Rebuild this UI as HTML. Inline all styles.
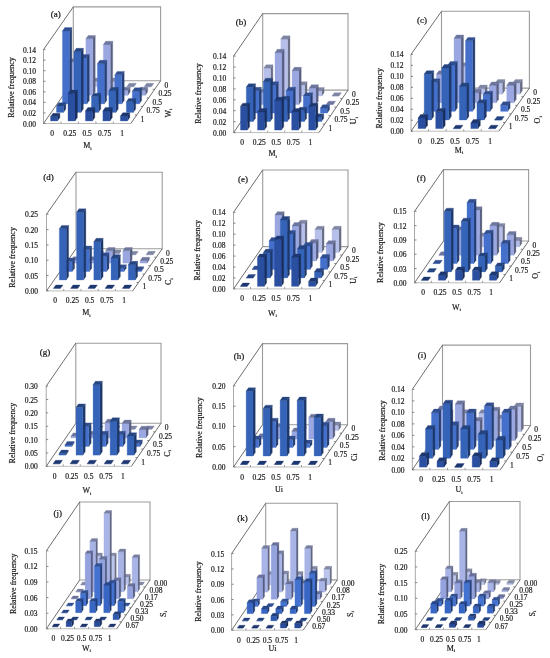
<!DOCTYPE html>
<html><head><meta charset="utf-8"><style>html,body{margin:0;padding:0;background:#fff}svg{display:block}</style></head>
<body><svg width="550" height="658" viewBox="0 0 550 658">
<rect width="550" height="658" fill="#fff"/>
<polyline points="73.30,80.80 73.30,6.90 160.60,6.90 160.60,80.80 73.30,80.80" fill="none" stroke="#9c9c9c" stroke-width="1.1"/>
<line x1="43.50" y1="123.50" x2="43.50" y2="49.60" stroke="#a8a8a8" stroke-width="1"/>
<line x1="43.50" y1="123.50" x2="130.80" y2="123.50" stroke="#bdbdbd" stroke-width="1"/>
<line x1="43.50" y1="49.60" x2="73.30" y2="6.90" stroke="#4a4a4a" stroke-width="0.8"/>
<line x1="43.50" y1="123.50" x2="73.30" y2="80.80" stroke="#4a4a4a" stroke-width="0.8"/>
<line x1="130.80" y1="123.50" x2="160.60" y2="80.80" stroke="#4a4a4a" stroke-width="0.8"/>
<line x1="43.50" y1="123.50" x2="45.50" y2="123.50" stroke="#666" stroke-width="0.8"/>
<text x="36.10" y="126.50" text-anchor="end" font-size="7.5" font-family="Liberation Serif, serif" stroke="#222" stroke-width="0.18" fill="#111">0.00</text>
<line x1="43.50" y1="112.94" x2="45.50" y2="112.94" stroke="#666" stroke-width="0.8"/>
<text x="36.10" y="115.94" text-anchor="end" font-size="7.5" font-family="Liberation Serif, serif" stroke="#222" stroke-width="0.18" fill="#111">0.02</text>
<line x1="43.50" y1="102.39" x2="45.50" y2="102.39" stroke="#666" stroke-width="0.8"/>
<text x="36.10" y="105.39" text-anchor="end" font-size="7.5" font-family="Liberation Serif, serif" stroke="#222" stroke-width="0.18" fill="#111">0.04</text>
<line x1="43.50" y1="91.83" x2="45.50" y2="91.83" stroke="#666" stroke-width="0.8"/>
<text x="36.10" y="94.83" text-anchor="end" font-size="7.5" font-family="Liberation Serif, serif" stroke="#222" stroke-width="0.18" fill="#111">0.06</text>
<line x1="43.50" y1="81.27" x2="45.50" y2="81.27" stroke="#666" stroke-width="0.8"/>
<text x="36.10" y="84.27" text-anchor="end" font-size="7.5" font-family="Liberation Serif, serif" stroke="#222" stroke-width="0.18" fill="#111">0.08</text>
<line x1="43.50" y1="70.71" x2="45.50" y2="70.71" stroke="#666" stroke-width="0.8"/>
<text x="36.10" y="73.71" text-anchor="end" font-size="7.5" font-family="Liberation Serif, serif" stroke="#222" stroke-width="0.18" fill="#111">0.10</text>
<line x1="43.50" y1="60.16" x2="45.50" y2="60.16" stroke="#666" stroke-width="0.8"/>
<text x="36.10" y="63.16" text-anchor="end" font-size="7.5" font-family="Liberation Serif, serif" stroke="#222" stroke-width="0.18" fill="#111">0.12</text>
<line x1="43.50" y1="49.60" x2="45.50" y2="49.60" stroke="#666" stroke-width="0.8"/>
<text x="36.10" y="52.60" text-anchor="end" font-size="7.5" font-family="Liberation Serif, serif" stroke="#222" stroke-width="0.18" fill="#111">0.14</text>
<line x1="60.96" y1="123.50" x2="60.96" y2="121.50" stroke="#888" stroke-width="0.8"/>
<line x1="78.42" y1="123.50" x2="78.42" y2="121.50" stroke="#888" stroke-width="0.8"/>
<line x1="95.88" y1="123.50" x2="95.88" y2="121.50" stroke="#888" stroke-width="0.8"/>
<line x1="113.34" y1="123.50" x2="113.34" y2="121.50" stroke="#888" stroke-width="0.8"/>
<text x="52.23" y="136.00" text-anchor="middle" font-size="7.5" font-family="Liberation Serif, serif" stroke="#222" stroke-width="0.18" fill="#111">0</text>
<text x="69.69" y="136.00" text-anchor="middle" font-size="7.5" font-family="Liberation Serif, serif" stroke="#222" stroke-width="0.18" fill="#111">0.25</text>
<text x="87.15" y="136.00" text-anchor="middle" font-size="7.5" font-family="Liberation Serif, serif" stroke="#222" stroke-width="0.18" fill="#111">0.5</text>
<text x="104.61" y="136.00" text-anchor="middle" font-size="7.5" font-family="Liberation Serif, serif" stroke="#222" stroke-width="0.18" fill="#111">0.75</text>
<text x="122.07" y="136.00" text-anchor="middle" font-size="7.5" font-family="Liberation Serif, serif" stroke="#222" stroke-width="0.18" fill="#111">1</text>
<line x1="136.76" y1="114.96" x2="134.76" y2="114.96" stroke="#666" stroke-width="0.8"/>
<line x1="142.72" y1="106.42" x2="140.72" y2="106.42" stroke="#666" stroke-width="0.8"/>
<line x1="148.68" y1="97.88" x2="146.68" y2="97.88" stroke="#666" stroke-width="0.8"/>
<line x1="154.64" y1="89.34" x2="152.64" y2="89.34" stroke="#666" stroke-width="0.8"/>
<text x="164.42" y="87.57" font-size="7.5" font-family="Liberation Serif, serif" stroke="#222" stroke-width="0.18" fill="#111">0</text>
<text x="158.46" y="96.11" font-size="7.5" font-family="Liberation Serif, serif" stroke="#222" stroke-width="0.18" fill="#111">0.25</text>
<text x="152.50" y="104.65" font-size="7.5" font-family="Liberation Serif, serif" stroke="#222" stroke-width="0.18" fill="#111">0.5</text>
<text x="146.54" y="113.19" font-size="7.5" font-family="Liberation Serif, serif" stroke="#222" stroke-width="0.18" fill="#111">0.75</text>
<text x="140.58" y="121.73" font-size="7.5" font-family="Liberation Serif, serif" stroke="#222" stroke-width="0.18" fill="#111">1</text>
<polygon points="81.35,86.78 83.73,83.36 83.73,78.08 81.35,81.50" fill="#686d85" stroke="#686d85" stroke-width="0.3"/>
<polygon points="74.37,86.78 81.35,86.78 81.35,81.50 74.37,81.50" fill="#b6c0ea" stroke="#b6c0ea" stroke-width="0.3"/>
<polygon points="74.37,81.50 81.35,81.50 83.73,78.08 76.75,78.08" fill="#7f86a4" stroke="#7f86a4" stroke-width="0.3"/>
<polygon points="98.81,86.78 101.19,83.36 101.19,78.08 98.81,81.50" fill="#686d85" stroke="#686d85" stroke-width="0.3"/>
<polygon points="91.83,86.78 98.81,86.78 98.81,81.50 91.83,81.50" fill="#b6c0ea" stroke="#b6c0ea" stroke-width="0.3"/>
<polygon points="91.83,81.50 98.81,81.50 101.19,78.08 94.21,78.08" fill="#7f86a4" stroke="#7f86a4" stroke-width="0.3"/>
<polygon points="116.27,86.78 118.65,83.36 118.65,78.08 116.27,81.50" fill="#686d85" stroke="#686d85" stroke-width="0.3"/>
<polygon points="109.29,86.78 116.27,86.78 116.27,81.50 109.29,81.50" fill="#b6c0ea" stroke="#b6c0ea" stroke-width="0.3"/>
<polygon points="109.29,81.50 116.27,81.50 118.65,78.08 111.67,78.08" fill="#7f86a4" stroke="#7f86a4" stroke-width="0.3"/>
<polygon points="133.73,86.78 136.11,83.36 136.11,83.36 133.73,86.78" fill="#686d85" stroke="#686d85" stroke-width="0.3"/>
<polygon points="126.75,86.78 133.73,86.78 133.73,86.78 126.75,86.78" fill="#b6c0ea" stroke="#b6c0ea" stroke-width="0.3"/>
<polygon points="126.75,86.78 133.73,86.78 136.11,83.36 129.13,83.36" fill="#7f86a4" stroke="#7f86a4" stroke-width="0.3"/>
<polygon points="151.19,86.78 153.57,83.36 153.57,83.36 151.19,86.78" fill="#686d85" stroke="#686d85" stroke-width="0.3"/>
<polygon points="144.21,86.78 151.19,86.78 151.19,86.78 144.21,86.78" fill="#b6c0ea" stroke="#b6c0ea" stroke-width="0.3"/>
<polygon points="144.21,86.78 151.19,86.78 153.57,83.36 146.59,83.36" fill="#7f86a4" stroke="#7f86a4" stroke-width="0.3"/>
<polygon points="75.39,95.32 77.77,91.90 77.77,58.65 75.39,62.06" fill="#585f80" stroke="#585f80" stroke-width="0.3"/>
<polygon points="68.41,95.32 75.39,95.32 75.39,62.06 68.41,62.06" fill="#9aa7e0" stroke="#9aa7e0" stroke-width="0.3"/>
<polygon points="68.41,62.06 75.39,62.06 77.77,58.65 70.79,58.65" fill="#6c759d" stroke="#6c759d" stroke-width="0.3"/>
<polygon points="92.85,95.32 95.23,91.90 95.23,35.42 92.85,38.84" fill="#585f80" stroke="#585f80" stroke-width="0.3"/>
<polygon points="85.87,95.32 92.85,95.32 92.85,38.84 85.87,38.84" fill="#9aa7e0" stroke="#9aa7e0" stroke-width="0.3"/>
<polygon points="85.87,38.84 92.85,38.84 95.23,35.42 88.25,35.42" fill="#6c759d" stroke="#6c759d" stroke-width="0.3"/>
<polygon points="110.31,95.32 112.69,91.90 112.69,41.23 110.31,44.64" fill="#585f80" stroke="#585f80" stroke-width="0.3"/>
<polygon points="103.33,95.32 110.31,95.32 110.31,44.64 103.33,44.64" fill="#9aa7e0" stroke="#9aa7e0" stroke-width="0.3"/>
<polygon points="103.33,44.64 110.31,44.64 112.69,41.23 105.71,41.23" fill="#6c759d" stroke="#6c759d" stroke-width="0.3"/>
<polygon points="127.77,95.32 130.15,91.90 130.15,87.15 127.77,90.57" fill="#585f80" stroke="#585f80" stroke-width="0.3"/>
<polygon points="120.79,95.32 127.77,95.32 127.77,90.57 120.79,90.57" fill="#9aa7e0" stroke="#9aa7e0" stroke-width="0.3"/>
<polygon points="120.79,90.57 127.77,90.57 130.15,87.15 123.17,87.15" fill="#6c759d" stroke="#6c759d" stroke-width="0.3"/>
<polygon points="145.23,95.32 147.61,91.90 147.61,87.15 145.23,90.57" fill="#585f80" stroke="#585f80" stroke-width="0.3"/>
<polygon points="138.25,95.32 145.23,95.32 145.23,90.57 138.25,90.57" fill="#9aa7e0" stroke="#9aa7e0" stroke-width="0.3"/>
<polygon points="138.25,90.57 145.23,90.57 147.61,87.15 140.63,87.15" fill="#6c759d" stroke="#6c759d" stroke-width="0.3"/>
<polygon points="69.43,103.86 71.81,100.44 71.81,27.60 69.43,31.01" fill="#274074" stroke="#274074" stroke-width="0.3"/>
<polygon points="62.45,103.86 69.43,103.86 69.43,31.01 62.45,31.01" fill="#4470cc" stroke="#4470cc" stroke-width="0.3"/>
<polygon points="62.45,31.01 69.43,31.01 71.81,27.60 64.83,27.60" fill="#304e8f" stroke="#304e8f" stroke-width="0.3"/>
<polygon points="86.89,103.86 89.27,100.44 89.27,54.52 86.89,57.93" fill="#274074" stroke="#274074" stroke-width="0.3"/>
<polygon points="79.91,103.86 86.89,103.86 86.89,57.93 79.91,57.93" fill="#4470cc" stroke="#4470cc" stroke-width="0.3"/>
<polygon points="79.91,57.93 86.89,57.93 89.27,54.52 82.29,54.52" fill="#304e8f" stroke="#304e8f" stroke-width="0.3"/>
<polygon points="104.35,103.86 106.73,100.44 106.73,60.32 104.35,63.74" fill="#274074" stroke="#274074" stroke-width="0.3"/>
<polygon points="97.37,103.86 104.35,103.86 104.35,63.74 97.37,63.74" fill="#4470cc" stroke="#4470cc" stroke-width="0.3"/>
<polygon points="97.37,63.74 104.35,63.74 106.73,60.32 99.75,60.32" fill="#304e8f" stroke="#304e8f" stroke-width="0.3"/>
<polygon points="121.81,103.86 124.19,100.44 124.19,71.41 121.81,74.83" fill="#274074" stroke="#274074" stroke-width="0.3"/>
<polygon points="114.83,103.86 121.81,103.86 121.81,74.83 114.83,74.83" fill="#4470cc" stroke="#4470cc" stroke-width="0.3"/>
<polygon points="114.83,74.83 121.81,74.83 124.19,71.41 117.21,71.41" fill="#304e8f" stroke="#304e8f" stroke-width="0.3"/>
<polygon points="139.27,103.86 141.65,100.44 141.65,87.77 139.27,91.19" fill="#274074" stroke="#274074" stroke-width="0.3"/>
<polygon points="132.29,103.86 139.27,103.86 139.27,91.19 132.29,91.19" fill="#4470cc" stroke="#4470cc" stroke-width="0.3"/>
<polygon points="132.29,91.19 139.27,91.19 141.65,87.77 134.67,87.77" fill="#304e8f" stroke="#304e8f" stroke-width="0.3"/>
<polygon points="63.47,112.40 65.85,108.98 65.85,102.65 63.47,106.06" fill="#1e3869" stroke="#1e3869" stroke-width="0.3"/>
<polygon points="56.49,112.40 63.47,112.40 63.47,106.06 56.49,106.06" fill="#3463b8" stroke="#3463b8" stroke-width="0.3"/>
<polygon points="56.49,106.06 63.47,106.06 65.85,102.65 58.87,102.65" fill="#244581" stroke="#244581" stroke-width="0.3"/>
<polygon points="80.93,112.40 83.31,108.98 83.31,48.28 80.93,51.69" fill="#1e3869" stroke="#1e3869" stroke-width="0.3"/>
<polygon points="73.95,112.40 80.93,112.40 80.93,51.69 73.95,51.69" fill="#3463b8" stroke="#3463b8" stroke-width="0.3"/>
<polygon points="73.95,51.69 80.93,51.69 83.31,48.28 76.33,48.28" fill="#244581" stroke="#244581" stroke-width="0.3"/>
<polygon points="98.39,112.40 100.77,108.98 100.77,93.15 98.39,96.56" fill="#1e3869" stroke="#1e3869" stroke-width="0.3"/>
<polygon points="91.41,112.40 98.39,112.40 98.39,96.56 91.41,96.56" fill="#3463b8" stroke="#3463b8" stroke-width="0.3"/>
<polygon points="91.41,96.56 98.39,96.56 100.77,93.15 93.79,93.15" fill="#244581" stroke="#244581" stroke-width="0.3"/>
<polygon points="115.85,112.40 118.23,108.98 118.23,87.34 115.85,90.76" fill="#1e3869" stroke="#1e3869" stroke-width="0.3"/>
<polygon points="108.87,112.40 115.85,112.40 115.85,90.76 108.87,90.76" fill="#3463b8" stroke="#3463b8" stroke-width="0.3"/>
<polygon points="108.87,90.76 115.85,90.76 118.23,87.34 111.25,87.34" fill="#244581" stroke="#244581" stroke-width="0.3"/>
<polygon points="133.31,112.40 135.69,108.98 135.69,98.42 133.31,101.84" fill="#1e3869" stroke="#1e3869" stroke-width="0.3"/>
<polygon points="126.33,112.40 133.31,112.40 133.31,101.84 126.33,101.84" fill="#3463b8" stroke="#3463b8" stroke-width="0.3"/>
<polygon points="126.33,101.84 133.31,101.84 135.69,98.42 128.71,98.42" fill="#244581" stroke="#244581" stroke-width="0.3"/>
<polygon points="57.51,120.94 59.89,117.52 59.89,113.30 57.51,116.72" fill="#182d5b" stroke="#182d5b" stroke-width="0.3"/>
<polygon points="50.53,120.94 57.51,120.94 57.51,116.72 50.53,116.72" fill="#2a4fa0" stroke="#2a4fa0" stroke-width="0.3"/>
<polygon points="50.53,116.72 57.51,116.72 59.89,113.30 52.91,113.30" fill="#1d3770" stroke="#1d3770" stroke-width="0.3"/>
<polygon points="74.97,120.94 77.35,117.52 77.35,90.07 74.97,93.49" fill="#182d5b" stroke="#182d5b" stroke-width="0.3"/>
<polygon points="67.99,120.94 74.97,120.94 74.97,93.49 67.99,93.49" fill="#2a4fa0" stroke="#2a4fa0" stroke-width="0.3"/>
<polygon points="67.99,93.49 74.97,93.49 77.35,90.07 70.37,90.07" fill="#1d3770" stroke="#1d3770" stroke-width="0.3"/>
<polygon points="92.43,120.94 94.81,117.52 94.81,107.49 92.43,110.91" fill="#182d5b" stroke="#182d5b" stroke-width="0.3"/>
<polygon points="85.45,120.94 92.43,120.94 92.43,110.91 85.45,110.91" fill="#2a4fa0" stroke="#2a4fa0" stroke-width="0.3"/>
<polygon points="85.45,110.91 92.43,110.91 94.81,107.49 87.83,107.49" fill="#1d3770" stroke="#1d3770" stroke-width="0.3"/>
<polygon points="109.89,120.94 112.27,117.52 112.27,107.49 109.89,110.91" fill="#182d5b" stroke="#182d5b" stroke-width="0.3"/>
<polygon points="102.91,120.94 109.89,120.94 109.89,110.91 102.91,110.91" fill="#2a4fa0" stroke="#2a4fa0" stroke-width="0.3"/>
<polygon points="102.91,110.91 109.89,110.91 112.27,107.49 105.29,107.49" fill="#1d3770" stroke="#1d3770" stroke-width="0.3"/>
<polygon points="127.35,120.94 129.73,117.52 129.73,112.77 127.35,116.19" fill="#182d5b" stroke="#182d5b" stroke-width="0.3"/>
<polygon points="120.37,120.94 127.35,120.94 127.35,116.19 120.37,116.19" fill="#2a4fa0" stroke="#2a4fa0" stroke-width="0.3"/>
<polygon points="120.37,116.19 127.35,116.19 129.73,112.77 122.75,112.77" fill="#1d3770" stroke="#1d3770" stroke-width="0.3"/>
<text x="50.80" y="16.80" font-size="9" font-family="Liberation Serif, serif" stroke="#111" stroke-width="0.2" fill="#111">(a)</text>
<text transform="translate(13.90,87.50) rotate(-90)" text-anchor="middle" font-size="8" font-family="Liberation Serif, serif" stroke="#222" stroke-width="0.18" fill="#111">Relative frequency</text>
<text x="87.50" y="148.30" text-anchor="middle" font-size="8" font-family="Liberation Serif, serif" stroke="#222" stroke-width="0.18" fill="#111">M<tspan font-size="5" dy="1.5">i</tspan></text>
<text transform="translate(170.90,113.00) rotate(-90)" text-anchor="middle" font-size="8" font-family="Liberation Serif, serif" stroke="#222" stroke-width="0.18" fill="#111">W<tspan font-size="5" dy="1.5">i</tspan></text>
<polyline points="262.70,90.10 262.70,13.60 348.00,13.60 348.00,90.10 262.70,90.10" fill="none" stroke="#9c9c9c" stroke-width="1.1"/>
<line x1="233.60" y1="132.60" x2="233.60" y2="56.10" stroke="#a8a8a8" stroke-width="1"/>
<line x1="233.60" y1="132.60" x2="318.90" y2="132.60" stroke="#bdbdbd" stroke-width="1"/>
<line x1="233.60" y1="56.10" x2="262.70" y2="13.60" stroke="#4a4a4a" stroke-width="0.8"/>
<line x1="233.60" y1="132.60" x2="262.70" y2="90.10" stroke="#4a4a4a" stroke-width="0.8"/>
<line x1="318.90" y1="132.60" x2="348.00" y2="90.10" stroke="#4a4a4a" stroke-width="0.8"/>
<line x1="233.60" y1="132.60" x2="235.60" y2="132.60" stroke="#666" stroke-width="0.8"/>
<text x="226.20" y="135.60" text-anchor="end" font-size="7.5" font-family="Liberation Serif, serif" stroke="#222" stroke-width="0.18" fill="#111">0.00</text>
<line x1="233.60" y1="121.67" x2="235.60" y2="121.67" stroke="#666" stroke-width="0.8"/>
<text x="226.20" y="124.67" text-anchor="end" font-size="7.5" font-family="Liberation Serif, serif" stroke="#222" stroke-width="0.18" fill="#111">0.02</text>
<line x1="233.60" y1="110.74" x2="235.60" y2="110.74" stroke="#666" stroke-width="0.8"/>
<text x="226.20" y="113.74" text-anchor="end" font-size="7.5" font-family="Liberation Serif, serif" stroke="#222" stroke-width="0.18" fill="#111">0.04</text>
<line x1="233.60" y1="99.81" x2="235.60" y2="99.81" stroke="#666" stroke-width="0.8"/>
<text x="226.20" y="102.81" text-anchor="end" font-size="7.5" font-family="Liberation Serif, serif" stroke="#222" stroke-width="0.18" fill="#111">0.06</text>
<line x1="233.60" y1="88.89" x2="235.60" y2="88.89" stroke="#666" stroke-width="0.8"/>
<text x="226.20" y="91.89" text-anchor="end" font-size="7.5" font-family="Liberation Serif, serif" stroke="#222" stroke-width="0.18" fill="#111">0.08</text>
<line x1="233.60" y1="77.96" x2="235.60" y2="77.96" stroke="#666" stroke-width="0.8"/>
<text x="226.20" y="80.96" text-anchor="end" font-size="7.5" font-family="Liberation Serif, serif" stroke="#222" stroke-width="0.18" fill="#111">0.10</text>
<line x1="233.60" y1="67.03" x2="235.60" y2="67.03" stroke="#666" stroke-width="0.8"/>
<text x="226.20" y="70.03" text-anchor="end" font-size="7.5" font-family="Liberation Serif, serif" stroke="#222" stroke-width="0.18" fill="#111">0.12</text>
<line x1="233.60" y1="56.10" x2="235.60" y2="56.10" stroke="#666" stroke-width="0.8"/>
<text x="226.20" y="59.10" text-anchor="end" font-size="7.5" font-family="Liberation Serif, serif" stroke="#222" stroke-width="0.18" fill="#111">0.14</text>
<line x1="250.66" y1="132.60" x2="250.66" y2="130.60" stroke="#888" stroke-width="0.8"/>
<line x1="267.72" y1="132.60" x2="267.72" y2="130.60" stroke="#888" stroke-width="0.8"/>
<line x1="284.78" y1="132.60" x2="284.78" y2="130.60" stroke="#888" stroke-width="0.8"/>
<line x1="301.84" y1="132.60" x2="301.84" y2="130.60" stroke="#888" stroke-width="0.8"/>
<text x="242.13" y="145.10" text-anchor="middle" font-size="7.5" font-family="Liberation Serif, serif" stroke="#222" stroke-width="0.18" fill="#111">0</text>
<text x="259.19" y="145.10" text-anchor="middle" font-size="7.5" font-family="Liberation Serif, serif" stroke="#222" stroke-width="0.18" fill="#111">0.25</text>
<text x="276.25" y="145.10" text-anchor="middle" font-size="7.5" font-family="Liberation Serif, serif" stroke="#222" stroke-width="0.18" fill="#111">0.5</text>
<text x="293.31" y="145.10" text-anchor="middle" font-size="7.5" font-family="Liberation Serif, serif" stroke="#222" stroke-width="0.18" fill="#111">0.75</text>
<text x="310.37" y="145.10" text-anchor="middle" font-size="7.5" font-family="Liberation Serif, serif" stroke="#222" stroke-width="0.18" fill="#111">1</text>
<line x1="324.72" y1="124.10" x2="322.72" y2="124.10" stroke="#666" stroke-width="0.8"/>
<line x1="330.54" y1="115.60" x2="328.54" y2="115.60" stroke="#666" stroke-width="0.8"/>
<line x1="336.36" y1="107.10" x2="334.36" y2="107.10" stroke="#666" stroke-width="0.8"/>
<line x1="342.18" y1="98.60" x2="340.18" y2="98.60" stroke="#666" stroke-width="0.8"/>
<text x="351.89" y="96.85" font-size="7.5" font-family="Liberation Serif, serif" stroke="#222" stroke-width="0.18" fill="#111">0</text>
<text x="346.07" y="105.35" font-size="7.5" font-family="Liberation Serif, serif" stroke="#222" stroke-width="0.18" fill="#111">0.25</text>
<text x="340.25" y="113.85" font-size="7.5" font-family="Liberation Serif, serif" stroke="#222" stroke-width="0.18" fill="#111">0.5</text>
<text x="334.43" y="122.35" font-size="7.5" font-family="Liberation Serif, serif" stroke="#222" stroke-width="0.18" fill="#111">0.75</text>
<text x="328.61" y="130.85" font-size="7.5" font-family="Liberation Serif, serif" stroke="#222" stroke-width="0.18" fill="#111">1</text>
<polygon points="270.57,96.05 272.90,92.65 272.90,64.78 270.57,68.18" fill="#686d85" stroke="#686d85" stroke-width="0.3"/>
<polygon points="263.74,96.05 270.57,96.05 270.57,68.18 263.74,68.18" fill="#b6c0ea" stroke="#b6c0ea" stroke-width="0.3"/>
<polygon points="263.74,68.18 270.57,68.18 272.90,64.78 266.07,64.78" fill="#7f86a4" stroke="#7f86a4" stroke-width="0.3"/>
<polygon points="287.63,96.05 289.96,92.65 289.96,35.82 287.63,39.22" fill="#686d85" stroke="#686d85" stroke-width="0.3"/>
<polygon points="280.80,96.05 287.63,96.05 287.63,39.22 280.80,39.22" fill="#b6c0ea" stroke="#b6c0ea" stroke-width="0.3"/>
<polygon points="280.80,39.22 287.63,39.22 289.96,35.82 283.13,35.82" fill="#7f86a4" stroke="#7f86a4" stroke-width="0.3"/>
<polygon points="304.69,96.05 307.02,92.65 307.02,81.72 304.69,85.12" fill="#686d85" stroke="#686d85" stroke-width="0.3"/>
<polygon points="297.86,96.05 304.69,96.05 304.69,85.12 297.86,85.12" fill="#b6c0ea" stroke="#b6c0ea" stroke-width="0.3"/>
<polygon points="297.86,85.12 304.69,85.12 307.02,81.72 300.19,81.72" fill="#7f86a4" stroke="#7f86a4" stroke-width="0.3"/>
<polygon points="321.75,96.05 324.08,92.65 324.08,87.46 321.75,90.86" fill="#686d85" stroke="#686d85" stroke-width="0.3"/>
<polygon points="314.92,96.05 321.75,96.05 321.75,90.86 314.92,90.86" fill="#b6c0ea" stroke="#b6c0ea" stroke-width="0.3"/>
<polygon points="314.92,90.86 321.75,90.86 324.08,87.46 317.25,87.46" fill="#7f86a4" stroke="#7f86a4" stroke-width="0.3"/>
<polygon points="338.81,96.05 341.14,92.65 341.14,92.65 338.81,96.05" fill="#686d85" stroke="#686d85" stroke-width="0.3"/>
<polygon points="331.98,96.05 338.81,96.05 338.81,96.05 331.98,96.05" fill="#b6c0ea" stroke="#b6c0ea" stroke-width="0.3"/>
<polygon points="331.98,96.05 338.81,96.05 341.14,92.65 334.31,92.65" fill="#7f86a4" stroke="#7f86a4" stroke-width="0.3"/>
<polygon points="264.75,104.55 267.08,101.15 267.08,89.13 264.75,92.53" fill="#585f80" stroke="#585f80" stroke-width="0.3"/>
<polygon points="257.92,104.55 264.75,104.55 264.75,92.53 257.92,92.53" fill="#9aa7e0" stroke="#9aa7e0" stroke-width="0.3"/>
<polygon points="257.92,92.53 264.75,92.53 267.08,89.13 260.25,89.13" fill="#6c759d" stroke="#6c759d" stroke-width="0.3"/>
<polygon points="281.81,104.55 284.14,101.15 284.14,49.24 281.81,52.64" fill="#585f80" stroke="#585f80" stroke-width="0.3"/>
<polygon points="274.98,104.55 281.81,104.55 281.81,52.64 274.98,52.64" fill="#9aa7e0" stroke="#9aa7e0" stroke-width="0.3"/>
<polygon points="274.98,52.64 281.81,52.64 284.14,49.24 277.31,49.24" fill="#6c759d" stroke="#6c759d" stroke-width="0.3"/>
<polygon points="298.87,104.55 301.20,101.15 301.20,67.27 298.87,70.67" fill="#585f80" stroke="#585f80" stroke-width="0.3"/>
<polygon points="292.04,104.55 298.87,104.55 298.87,70.67 292.04,70.67" fill="#9aa7e0" stroke="#9aa7e0" stroke-width="0.3"/>
<polygon points="292.04,70.67 298.87,70.67 301.20,67.27 294.37,67.27" fill="#6c759d" stroke="#6c759d" stroke-width="0.3"/>
<polygon points="315.93,104.55 318.26,101.15 318.26,84.76 315.93,88.16" fill="#585f80" stroke="#585f80" stroke-width="0.3"/>
<polygon points="309.10,104.55 315.93,104.55 315.93,88.16 309.10,88.16" fill="#9aa7e0" stroke="#9aa7e0" stroke-width="0.3"/>
<polygon points="309.10,88.16 315.93,88.16 318.26,84.76 311.43,84.76" fill="#6c759d" stroke="#6c759d" stroke-width="0.3"/>
<polygon points="332.99,104.55 335.32,101.15 335.32,101.15 332.99,104.55" fill="#585f80" stroke="#585f80" stroke-width="0.3"/>
<polygon points="326.16,104.55 332.99,104.55 332.99,104.55 326.16,104.55" fill="#9aa7e0" stroke="#9aa7e0" stroke-width="0.3"/>
<polygon points="326.16,104.55 332.99,104.55 335.32,101.15 328.49,101.15" fill="#6c759d" stroke="#6c759d" stroke-width="0.3"/>
<polygon points="258.93,113.05 261.26,109.65 261.26,87.25 258.93,90.65" fill="#274074" stroke="#274074" stroke-width="0.3"/>
<polygon points="252.10,113.05 258.93,113.05 258.93,90.65 252.10,90.65" fill="#4470cc" stroke="#4470cc" stroke-width="0.3"/>
<polygon points="252.10,90.65 258.93,90.65 261.26,87.25 254.43,87.25" fill="#304e8f" stroke="#304e8f" stroke-width="0.3"/>
<polygon points="275.99,113.05 278.32,109.65 278.32,81.78 275.99,85.18" fill="#274074" stroke="#274074" stroke-width="0.3"/>
<polygon points="269.16,113.05 275.99,113.05 275.99,85.18 269.16,85.18" fill="#4470cc" stroke="#4470cc" stroke-width="0.3"/>
<polygon points="269.16,85.18 275.99,85.18 278.32,81.78 271.49,81.78" fill="#304e8f" stroke="#304e8f" stroke-width="0.3"/>
<polygon points="293.05,113.05 295.38,109.65 295.38,87.25 293.05,90.65" fill="#274074" stroke="#274074" stroke-width="0.3"/>
<polygon points="286.22,113.05 293.05,113.05 293.05,90.65 286.22,90.65" fill="#4470cc" stroke="#4470cc" stroke-width="0.3"/>
<polygon points="286.22,90.65 293.05,90.65 295.38,87.25 288.55,87.25" fill="#304e8f" stroke="#304e8f" stroke-width="0.3"/>
<polygon points="310.11,113.05 312.44,109.65 312.44,92.71 310.11,96.11" fill="#274074" stroke="#274074" stroke-width="0.3"/>
<polygon points="303.28,113.05 310.11,113.05 310.11,96.11 303.28,96.11" fill="#4470cc" stroke="#4470cc" stroke-width="0.3"/>
<polygon points="303.28,96.11 310.11,96.11 312.44,92.71 305.61,92.71" fill="#304e8f" stroke="#304e8f" stroke-width="0.3"/>
<polygon points="327.17,113.05 329.50,109.65 329.50,104.73 327.17,108.13" fill="#274074" stroke="#274074" stroke-width="0.3"/>
<polygon points="320.34,113.05 327.17,113.05 327.17,108.13 320.34,108.13" fill="#4470cc" stroke="#4470cc" stroke-width="0.3"/>
<polygon points="320.34,108.13 327.17,108.13 329.50,104.73 322.67,104.73" fill="#304e8f" stroke="#304e8f" stroke-width="0.3"/>
<polygon points="253.11,121.55 255.44,118.15 255.44,83.72 253.11,87.12" fill="#1e3869" stroke="#1e3869" stroke-width="0.3"/>
<polygon points="246.28,121.55 253.11,121.55 253.11,87.12 246.28,87.12" fill="#3463b8" stroke="#3463b8" stroke-width="0.3"/>
<polygon points="246.28,87.12 253.11,87.12 255.44,83.72 248.61,83.72" fill="#244581" stroke="#244581" stroke-width="0.3"/>
<polygon points="270.17,121.55 272.50,118.15 272.50,78.26 270.17,81.66" fill="#1e3869" stroke="#1e3869" stroke-width="0.3"/>
<polygon points="263.34,121.55 270.17,121.55 270.17,81.66 263.34,81.66" fill="#3463b8" stroke="#3463b8" stroke-width="0.3"/>
<polygon points="263.34,81.66 270.17,81.66 272.50,78.26 265.67,78.26" fill="#244581" stroke="#244581" stroke-width="0.3"/>
<polygon points="287.23,121.55 289.56,118.15 289.56,96.29 287.23,99.69" fill="#1e3869" stroke="#1e3869" stroke-width="0.3"/>
<polygon points="280.40,121.55 287.23,121.55 287.23,99.69 280.40,99.69" fill="#3463b8" stroke="#3463b8" stroke-width="0.3"/>
<polygon points="280.40,99.69 287.23,99.69 289.56,96.29 282.73,96.29" fill="#244581" stroke="#244581" stroke-width="0.3"/>
<polygon points="304.29,121.55 306.62,118.15 306.62,107.22 304.29,110.62" fill="#1e3869" stroke="#1e3869" stroke-width="0.3"/>
<polygon points="297.46,121.55 304.29,121.55 304.29,110.62 297.46,110.62" fill="#3463b8" stroke="#3463b8" stroke-width="0.3"/>
<polygon points="297.46,110.62 304.29,110.62 306.62,107.22 299.79,107.22" fill="#244581" stroke="#244581" stroke-width="0.3"/>
<polygon points="321.35,121.55 323.68,118.15 323.68,113.78 321.35,117.18" fill="#1e3869" stroke="#1e3869" stroke-width="0.3"/>
<polygon points="314.52,121.55 321.35,121.55 321.35,117.18 314.52,117.18" fill="#3463b8" stroke="#3463b8" stroke-width="0.3"/>
<polygon points="314.52,117.18 321.35,117.18 323.68,113.78 316.85,113.78" fill="#244581" stroke="#244581" stroke-width="0.3"/>
<polygon points="247.29,130.05 249.62,126.65 249.62,103.15 247.29,106.55" fill="#182d5b" stroke="#182d5b" stroke-width="0.3"/>
<polygon points="240.46,130.05 247.29,130.05 247.29,106.55 240.46,106.55" fill="#2a4fa0" stroke="#2a4fa0" stroke-width="0.3"/>
<polygon points="240.46,106.55 247.29,106.55 249.62,103.15 242.79,103.15" fill="#1d3770" stroke="#1d3770" stroke-width="0.3"/>
<polygon points="264.35,130.05 266.68,126.65 266.68,108.62 264.35,112.02" fill="#182d5b" stroke="#182d5b" stroke-width="0.3"/>
<polygon points="257.52,130.05 264.35,130.05 264.35,112.02 257.52,112.02" fill="#2a4fa0" stroke="#2a4fa0" stroke-width="0.3"/>
<polygon points="257.52,112.02 264.35,112.02 266.68,108.62 259.85,108.62" fill="#1d3770" stroke="#1d3770" stroke-width="0.3"/>
<polygon points="281.41,130.05 283.74,126.65 283.74,97.14 281.41,100.54" fill="#182d5b" stroke="#182d5b" stroke-width="0.3"/>
<polygon points="274.58,130.05 281.41,130.05 281.41,100.54 274.58,100.54" fill="#2a4fa0" stroke="#2a4fa0" stroke-width="0.3"/>
<polygon points="274.58,100.54 281.41,100.54 283.74,97.14 276.91,97.14" fill="#1d3770" stroke="#1d3770" stroke-width="0.3"/>
<polygon points="298.47,130.05 300.80,126.65 300.80,108.62 298.47,112.02" fill="#182d5b" stroke="#182d5b" stroke-width="0.3"/>
<polygon points="291.64,130.05 298.47,130.05 298.47,112.02 291.64,112.02" fill="#2a4fa0" stroke="#2a4fa0" stroke-width="0.3"/>
<polygon points="291.64,112.02 298.47,112.02 300.80,108.62 293.97,108.62" fill="#1d3770" stroke="#1d3770" stroke-width="0.3"/>
<polygon points="315.53,130.05 317.86,126.65 317.86,103.15 315.53,106.55" fill="#182d5b" stroke="#182d5b" stroke-width="0.3"/>
<polygon points="308.70,130.05 315.53,130.05 315.53,106.55 308.70,106.55" fill="#2a4fa0" stroke="#2a4fa0" stroke-width="0.3"/>
<polygon points="308.70,106.55 315.53,106.55 317.86,103.15 311.03,103.15" fill="#1d3770" stroke="#1d3770" stroke-width="0.3"/>
<text x="235.80" y="25.10" font-size="9" font-family="Liberation Serif, serif" stroke="#111" stroke-width="0.2" fill="#111">(b)</text>
<text transform="translate(200.60,93.50) rotate(-90)" text-anchor="middle" font-size="8" font-family="Liberation Serif, serif" stroke="#222" stroke-width="0.18" fill="#111">Relative frequency</text>
<text x="272.70" y="156.20" text-anchor="middle" font-size="8" font-family="Liberation Serif, serif" stroke="#222" stroke-width="0.18" fill="#111">M<tspan font-size="5" dy="1.5">i</tspan></text>
<text transform="translate(356.20,120.70) rotate(-90)" text-anchor="middle" font-size="8" font-family="Liberation Serif, serif" stroke="#222" stroke-width="0.18" fill="#111">U<tspan font-size="5" dy="1.5">i</tspan></text>
<polyline points="441.50,88.10 441.50,11.30 529.40,11.30 529.40,88.10 441.50,88.10" fill="none" stroke="#9c9c9c" stroke-width="1.1"/>
<line x1="411.00" y1="131.20" x2="411.00" y2="54.40" stroke="#a8a8a8" stroke-width="1"/>
<line x1="411.00" y1="131.20" x2="498.90" y2="131.20" stroke="#bdbdbd" stroke-width="1"/>
<line x1="411.00" y1="54.40" x2="441.50" y2="11.30" stroke="#4a4a4a" stroke-width="0.8"/>
<line x1="411.00" y1="131.20" x2="441.50" y2="88.10" stroke="#4a4a4a" stroke-width="0.8"/>
<line x1="498.90" y1="131.20" x2="529.40" y2="88.10" stroke="#4a4a4a" stroke-width="0.8"/>
<line x1="411.00" y1="131.20" x2="413.00" y2="131.20" stroke="#666" stroke-width="0.8"/>
<text x="403.60" y="134.20" text-anchor="end" font-size="7.5" font-family="Liberation Serif, serif" stroke="#222" stroke-width="0.18" fill="#111">0.00</text>
<line x1="411.00" y1="120.23" x2="413.00" y2="120.23" stroke="#666" stroke-width="0.8"/>
<text x="403.60" y="123.23" text-anchor="end" font-size="7.5" font-family="Liberation Serif, serif" stroke="#222" stroke-width="0.18" fill="#111">0.02</text>
<line x1="411.00" y1="109.26" x2="413.00" y2="109.26" stroke="#666" stroke-width="0.8"/>
<text x="403.60" y="112.26" text-anchor="end" font-size="7.5" font-family="Liberation Serif, serif" stroke="#222" stroke-width="0.18" fill="#111">0.04</text>
<line x1="411.00" y1="98.29" x2="413.00" y2="98.29" stroke="#666" stroke-width="0.8"/>
<text x="403.60" y="101.29" text-anchor="end" font-size="7.5" font-family="Liberation Serif, serif" stroke="#222" stroke-width="0.18" fill="#111">0.06</text>
<line x1="411.00" y1="87.31" x2="413.00" y2="87.31" stroke="#666" stroke-width="0.8"/>
<text x="403.60" y="90.31" text-anchor="end" font-size="7.5" font-family="Liberation Serif, serif" stroke="#222" stroke-width="0.18" fill="#111">0.08</text>
<line x1="411.00" y1="76.34" x2="413.00" y2="76.34" stroke="#666" stroke-width="0.8"/>
<text x="403.60" y="79.34" text-anchor="end" font-size="7.5" font-family="Liberation Serif, serif" stroke="#222" stroke-width="0.18" fill="#111">0.10</text>
<line x1="411.00" y1="65.37" x2="413.00" y2="65.37" stroke="#666" stroke-width="0.8"/>
<text x="403.60" y="68.37" text-anchor="end" font-size="7.5" font-family="Liberation Serif, serif" stroke="#222" stroke-width="0.18" fill="#111">0.12</text>
<line x1="411.00" y1="54.40" x2="413.00" y2="54.40" stroke="#666" stroke-width="0.8"/>
<text x="403.60" y="57.40" text-anchor="end" font-size="7.5" font-family="Liberation Serif, serif" stroke="#222" stroke-width="0.18" fill="#111">0.14</text>
<line x1="428.58" y1="131.20" x2="428.58" y2="129.20" stroke="#888" stroke-width="0.8"/>
<line x1="446.16" y1="131.20" x2="446.16" y2="129.20" stroke="#888" stroke-width="0.8"/>
<line x1="463.74" y1="131.20" x2="463.74" y2="129.20" stroke="#888" stroke-width="0.8"/>
<line x1="481.32" y1="131.20" x2="481.32" y2="129.20" stroke="#888" stroke-width="0.8"/>
<text x="419.79" y="143.70" text-anchor="middle" font-size="7.5" font-family="Liberation Serif, serif" stroke="#222" stroke-width="0.18" fill="#111">0</text>
<text x="437.37" y="143.70" text-anchor="middle" font-size="7.5" font-family="Liberation Serif, serif" stroke="#222" stroke-width="0.18" fill="#111">0.25</text>
<text x="454.95" y="143.70" text-anchor="middle" font-size="7.5" font-family="Liberation Serif, serif" stroke="#222" stroke-width="0.18" fill="#111">0.5</text>
<text x="472.53" y="143.70" text-anchor="middle" font-size="7.5" font-family="Liberation Serif, serif" stroke="#222" stroke-width="0.18" fill="#111">0.75</text>
<text x="490.11" y="143.70" text-anchor="middle" font-size="7.5" font-family="Liberation Serif, serif" stroke="#222" stroke-width="0.18" fill="#111">1</text>
<line x1="505.00" y1="122.58" x2="503.00" y2="122.58" stroke="#666" stroke-width="0.8"/>
<line x1="511.10" y1="113.96" x2="509.10" y2="113.96" stroke="#666" stroke-width="0.8"/>
<line x1="517.20" y1="105.34" x2="515.20" y2="105.34" stroke="#666" stroke-width="0.8"/>
<line x1="523.30" y1="96.72" x2="521.30" y2="96.72" stroke="#666" stroke-width="0.8"/>
<text x="533.15" y="94.91" font-size="7.5" font-family="Liberation Serif, serif" stroke="#222" stroke-width="0.18" fill="#111">0</text>
<text x="527.05" y="103.53" font-size="7.5" font-family="Liberation Serif, serif" stroke="#222" stroke-width="0.18" fill="#111">0.25</text>
<text x="520.95" y="112.15" font-size="7.5" font-family="Liberation Serif, serif" stroke="#222" stroke-width="0.18" fill="#111">0.5</text>
<text x="514.85" y="120.77" font-size="7.5" font-family="Liberation Serif, serif" stroke="#222" stroke-width="0.18" fill="#111">0.75</text>
<text x="508.75" y="129.39" font-size="7.5" font-family="Liberation Serif, serif" stroke="#222" stroke-width="0.18" fill="#111">1</text>
<polygon points="449.54,94.13 451.98,90.69 451.98,73.90 449.54,77.35" fill="#686d85" stroke="#686d85" stroke-width="0.3"/>
<polygon points="442.50,94.13 449.54,94.13 449.54,77.35 442.50,77.35" fill="#b6c0ea" stroke="#b6c0ea" stroke-width="0.3"/>
<polygon points="442.50,77.35 449.54,77.35 451.98,73.90 444.94,73.90" fill="#7f86a4" stroke="#7f86a4" stroke-width="0.3"/>
<polygon points="467.12,94.13 469.56,90.69 469.56,62.71 467.12,66.16" fill="#686d85" stroke="#686d85" stroke-width="0.3"/>
<polygon points="460.08,94.13 467.12,94.13 467.12,66.16 460.08,66.16" fill="#b6c0ea" stroke="#b6c0ea" stroke-width="0.3"/>
<polygon points="460.08,66.16 467.12,66.16 469.56,62.71 462.52,62.71" fill="#7f86a4" stroke="#7f86a4" stroke-width="0.3"/>
<polygon points="484.70,94.13 487.14,90.69 487.14,85.09 484.70,88.54" fill="#686d85" stroke="#686d85" stroke-width="0.3"/>
<polygon points="477.66,94.13 484.70,94.13 484.70,88.54 477.66,88.54" fill="#b6c0ea" stroke="#b6c0ea" stroke-width="0.3"/>
<polygon points="477.66,88.54 484.70,88.54 487.14,85.09 480.10,85.09" fill="#7f86a4" stroke="#7f86a4" stroke-width="0.3"/>
<polygon points="502.28,94.13 504.72,90.69 504.72,79.50 502.28,82.94" fill="#686d85" stroke="#686d85" stroke-width="0.3"/>
<polygon points="495.24,94.13 502.28,94.13 502.28,82.94 495.24,82.94" fill="#b6c0ea" stroke="#b6c0ea" stroke-width="0.3"/>
<polygon points="495.24,82.94 502.28,82.94 504.72,79.50 497.68,79.50" fill="#7f86a4" stroke="#7f86a4" stroke-width="0.3"/>
<polygon points="519.86,94.13 522.30,90.69 522.30,79.50 519.86,82.94" fill="#686d85" stroke="#686d85" stroke-width="0.3"/>
<polygon points="512.82,94.13 519.86,94.13 519.86,82.94 512.82,82.94" fill="#b6c0ea" stroke="#b6c0ea" stroke-width="0.3"/>
<polygon points="512.82,82.94 519.86,82.94 522.30,79.50 515.26,79.50" fill="#7f86a4" stroke="#7f86a4" stroke-width="0.3"/>
<polygon points="443.44,102.75 445.88,99.31 445.88,70.77 443.44,74.22" fill="#585f80" stroke="#585f80" stroke-width="0.3"/>
<polygon points="436.40,102.75 443.44,102.75 443.44,74.22 436.40,74.22" fill="#9aa7e0" stroke="#9aa7e0" stroke-width="0.3"/>
<polygon points="436.40,74.22 443.44,74.22 445.88,70.77 438.84,70.77" fill="#6c759d" stroke="#6c759d" stroke-width="0.3"/>
<polygon points="461.02,102.75 463.46,99.31 463.46,34.96 461.02,38.41" fill="#585f80" stroke="#585f80" stroke-width="0.3"/>
<polygon points="453.98,102.75 461.02,102.75 461.02,38.41 453.98,38.41" fill="#9aa7e0" stroke="#9aa7e0" stroke-width="0.3"/>
<polygon points="453.98,38.41 461.02,38.41 463.46,34.96 456.42,34.96" fill="#6c759d" stroke="#6c759d" stroke-width="0.3"/>
<polygon points="478.60,102.75 481.04,99.31 481.04,89.23 478.60,92.68" fill="#585f80" stroke="#585f80" stroke-width="0.3"/>
<polygon points="471.56,102.75 478.60,102.75 478.60,92.68 471.56,92.68" fill="#9aa7e0" stroke="#9aa7e0" stroke-width="0.3"/>
<polygon points="471.56,92.68 478.60,92.68 481.04,89.23 474.00,89.23" fill="#6c759d" stroke="#6c759d" stroke-width="0.3"/>
<polygon points="496.18,102.75 498.62,99.31 498.62,81.96 496.18,85.41" fill="#585f80" stroke="#585f80" stroke-width="0.3"/>
<polygon points="489.14,102.75 496.18,102.75 496.18,85.41 489.14,85.41" fill="#9aa7e0" stroke="#9aa7e0" stroke-width="0.3"/>
<polygon points="489.14,85.41 496.18,85.41 498.62,81.96 491.58,81.96" fill="#6c759d" stroke="#6c759d" stroke-width="0.3"/>
<polygon points="513.76,102.75 516.20,99.31 516.20,81.96 513.76,85.41" fill="#585f80" stroke="#585f80" stroke-width="0.3"/>
<polygon points="506.72,102.75 513.76,102.75 513.76,85.41 506.72,85.41" fill="#9aa7e0" stroke="#9aa7e0" stroke-width="0.3"/>
<polygon points="506.72,85.41 513.76,85.41 516.20,81.96 509.16,81.96" fill="#6c759d" stroke="#6c759d" stroke-width="0.3"/>
<polygon points="437.34,111.37 439.78,107.93 439.78,78.83 437.34,82.28" fill="#274074" stroke="#274074" stroke-width="0.3"/>
<polygon points="430.30,111.37 437.34,111.37 437.34,82.28 430.30,82.28" fill="#4470cc" stroke="#4470cc" stroke-width="0.3"/>
<polygon points="430.30,82.28 437.34,82.28 439.78,78.83 432.74,78.83" fill="#304e8f" stroke="#304e8f" stroke-width="0.3"/>
<polygon points="454.92,111.37 457.36,107.93 457.36,61.48 454.92,64.93" fill="#274074" stroke="#274074" stroke-width="0.3"/>
<polygon points="447.88,111.37 454.92,111.37 454.92,64.93 447.88,64.93" fill="#4470cc" stroke="#4470cc" stroke-width="0.3"/>
<polygon points="447.88,64.93 454.92,64.93 457.36,61.48 450.32,61.48" fill="#304e8f" stroke="#304e8f" stroke-width="0.3"/>
<polygon points="472.50,111.37 474.94,107.93 474.94,37.42 472.50,40.87" fill="#274074" stroke="#274074" stroke-width="0.3"/>
<polygon points="465.46,111.37 472.50,111.37 472.50,40.87 465.46,40.87" fill="#4470cc" stroke="#4470cc" stroke-width="0.3"/>
<polygon points="465.46,40.87 472.50,40.87 474.94,37.42 467.90,37.42" fill="#304e8f" stroke="#304e8f" stroke-width="0.3"/>
<polygon points="490.08,111.37 492.52,107.93 492.52,91.14 490.08,94.59" fill="#274074" stroke="#274074" stroke-width="0.3"/>
<polygon points="483.04,111.37 490.08,111.37 490.08,94.59 483.04,94.59" fill="#4470cc" stroke="#4470cc" stroke-width="0.3"/>
<polygon points="483.04,94.59 490.08,94.59 492.52,91.14 485.48,91.14" fill="#304e8f" stroke="#304e8f" stroke-width="0.3"/>
<polygon points="507.66,111.37 510.10,107.93 510.10,101.77 507.66,105.22" fill="#274074" stroke="#274074" stroke-width="0.3"/>
<polygon points="500.62,111.37 507.66,111.37 507.66,105.22 500.62,105.22" fill="#4470cc" stroke="#4470cc" stroke-width="0.3"/>
<polygon points="500.62,105.22 507.66,105.22 510.10,101.77 503.06,101.77" fill="#304e8f" stroke="#304e8f" stroke-width="0.3"/>
<polygon points="431.24,119.99 433.68,116.55 433.68,70.66 431.24,74.11" fill="#1e3869" stroke="#1e3869" stroke-width="0.3"/>
<polygon points="424.20,119.99 431.24,119.99 431.24,74.11 424.20,74.11" fill="#3463b8" stroke="#3463b8" stroke-width="0.3"/>
<polygon points="424.20,74.11 431.24,74.11 433.68,70.66 426.64,70.66" fill="#244581" stroke="#244581" stroke-width="0.3"/>
<polygon points="448.82,119.99 451.26,116.55 451.26,64.51 448.82,67.96" fill="#1e3869" stroke="#1e3869" stroke-width="0.3"/>
<polygon points="441.78,119.99 448.82,119.99 448.82,67.96 441.78,67.96" fill="#3463b8" stroke="#3463b8" stroke-width="0.3"/>
<polygon points="441.78,67.96 448.82,67.96 451.26,64.51 444.22,64.51" fill="#244581" stroke="#244581" stroke-width="0.3"/>
<polygon points="466.40,119.99 468.84,116.55 468.84,82.97 466.40,86.42" fill="#1e3869" stroke="#1e3869" stroke-width="0.3"/>
<polygon points="459.36,119.99 466.40,119.99 466.40,86.42 459.36,86.42" fill="#3463b8" stroke="#3463b8" stroke-width="0.3"/>
<polygon points="459.36,86.42 466.40,86.42 468.84,82.97 461.80,82.97" fill="#244581" stroke="#244581" stroke-width="0.3"/>
<polygon points="483.98,119.99 486.42,116.55 486.42,99.76 483.98,103.21" fill="#1e3869" stroke="#1e3869" stroke-width="0.3"/>
<polygon points="476.94,119.99 483.98,119.99 483.98,103.21 476.94,103.21" fill="#3463b8" stroke="#3463b8" stroke-width="0.3"/>
<polygon points="476.94,103.21 483.98,103.21 486.42,99.76 479.38,99.76" fill="#244581" stroke="#244581" stroke-width="0.3"/>
<polygon points="501.56,119.99 504.00,116.55 504.00,116.55 501.56,119.99" fill="#1e3869" stroke="#1e3869" stroke-width="0.3"/>
<polygon points="494.52,119.99 501.56,119.99 501.56,119.99 494.52,119.99" fill="#3463b8" stroke="#3463b8" stroke-width="0.3"/>
<polygon points="494.52,119.99 501.56,119.99 504.00,116.55 496.96,116.55" fill="#244581" stroke="#244581" stroke-width="0.3"/>
<polygon points="425.14,128.61 427.58,125.17 427.58,114.53 425.14,117.98" fill="#182d5b" stroke="#182d5b" stroke-width="0.3"/>
<polygon points="418.10,128.61 425.14,128.61 425.14,117.98 418.10,117.98" fill="#2a4fa0" stroke="#2a4fa0" stroke-width="0.3"/>
<polygon points="418.10,117.98 425.14,117.98 427.58,114.53 420.54,114.53" fill="#1d3770" stroke="#1d3770" stroke-width="0.3"/>
<polygon points="442.72,128.61 445.16,125.17 445.16,108.38 442.72,111.83" fill="#182d5b" stroke="#182d5b" stroke-width="0.3"/>
<polygon points="435.68,128.61 442.72,128.61 442.72,111.83 435.68,111.83" fill="#2a4fa0" stroke="#2a4fa0" stroke-width="0.3"/>
<polygon points="435.68,111.83 442.72,111.83 445.16,108.38 438.12,108.38" fill="#1d3770" stroke="#1d3770" stroke-width="0.3"/>
<polygon points="460.30,128.61 462.74,125.17 462.74,125.17 460.30,128.61" fill="#182d5b" stroke="#182d5b" stroke-width="0.3"/>
<polygon points="453.26,128.61 460.30,128.61 460.30,128.61 453.26,128.61" fill="#2a4fa0" stroke="#2a4fa0" stroke-width="0.3"/>
<polygon points="453.26,128.61 460.30,128.61 462.74,125.17 455.70,125.17" fill="#1d3770" stroke="#1d3770" stroke-width="0.3"/>
<polygon points="477.88,128.61 480.32,125.17 480.32,119.57 477.88,123.02" fill="#182d5b" stroke="#182d5b" stroke-width="0.3"/>
<polygon points="470.84,128.61 477.88,128.61 477.88,123.02 470.84,123.02" fill="#2a4fa0" stroke="#2a4fa0" stroke-width="0.3"/>
<polygon points="470.84,123.02 477.88,123.02 480.32,119.57 473.28,119.57" fill="#1d3770" stroke="#1d3770" stroke-width="0.3"/>
<polygon points="495.46,128.61 497.90,125.17 497.90,125.17 495.46,128.61" fill="#182d5b" stroke="#182d5b" stroke-width="0.3"/>
<polygon points="488.42,128.61 495.46,128.61 495.46,128.61 488.42,128.61" fill="#2a4fa0" stroke="#2a4fa0" stroke-width="0.3"/>
<polygon points="488.42,128.61 495.46,128.61 497.90,125.17 490.86,125.17" fill="#1d3770" stroke="#1d3770" stroke-width="0.3"/>
<text x="416.90" y="23.30" font-size="9" font-family="Liberation Serif, serif" stroke="#111" stroke-width="0.2" fill="#111">(c)</text>
<text transform="translate(382.10,98.30) rotate(-90)" text-anchor="middle" font-size="8" font-family="Liberation Serif, serif" stroke="#222" stroke-width="0.18" fill="#111">Relative frequency</text>
<text x="459.10" y="152.50" text-anchor="middle" font-size="8" font-family="Liberation Serif, serif" stroke="#222" stroke-width="0.18" fill="#111">M<tspan font-size="5" dy="1.5">i</tspan></text>
<text transform="translate(540.40,119.80) rotate(-90)" text-anchor="middle" font-size="8" font-family="Liberation Serif, serif" stroke="#222" stroke-width="0.18" fill="#111">O<tspan font-size="5" dy="1.5">i</tspan></text>
<polyline points="76.00,248.80 76.00,172.20 162.20,172.20 162.20,248.80 76.00,248.80" fill="none" stroke="#9c9c9c" stroke-width="1.1"/>
<line x1="46.50" y1="290.90" x2="46.50" y2="214.30" stroke="#a8a8a8" stroke-width="1"/>
<line x1="46.50" y1="290.90" x2="132.70" y2="290.90" stroke="#bdbdbd" stroke-width="1"/>
<line x1="46.50" y1="214.30" x2="76.00" y2="172.20" stroke="#4a4a4a" stroke-width="0.8"/>
<line x1="46.50" y1="290.90" x2="76.00" y2="248.80" stroke="#4a4a4a" stroke-width="0.8"/>
<line x1="132.70" y1="290.90" x2="162.20" y2="248.80" stroke="#4a4a4a" stroke-width="0.8"/>
<line x1="46.50" y1="290.90" x2="48.50" y2="290.90" stroke="#666" stroke-width="0.8"/>
<text x="38.00" y="293.90" text-anchor="end" font-size="7.5" font-family="Liberation Serif, serif" stroke="#222" stroke-width="0.18" fill="#111">0.00</text>
<line x1="46.50" y1="275.58" x2="48.50" y2="275.58" stroke="#666" stroke-width="0.8"/>
<text x="38.00" y="278.58" text-anchor="end" font-size="7.5" font-family="Liberation Serif, serif" stroke="#222" stroke-width="0.18" fill="#111">0.05</text>
<line x1="46.50" y1="260.26" x2="48.50" y2="260.26" stroke="#666" stroke-width="0.8"/>
<text x="38.00" y="263.26" text-anchor="end" font-size="7.5" font-family="Liberation Serif, serif" stroke="#222" stroke-width="0.18" fill="#111">0.10</text>
<line x1="46.50" y1="244.94" x2="48.50" y2="244.94" stroke="#666" stroke-width="0.8"/>
<text x="38.00" y="247.94" text-anchor="end" font-size="7.5" font-family="Liberation Serif, serif" stroke="#222" stroke-width="0.18" fill="#111">0.15</text>
<line x1="46.50" y1="229.62" x2="48.50" y2="229.62" stroke="#666" stroke-width="0.8"/>
<text x="38.00" y="232.62" text-anchor="end" font-size="7.5" font-family="Liberation Serif, serif" stroke="#222" stroke-width="0.18" fill="#111">0.20</text>
<line x1="46.50" y1="214.30" x2="48.50" y2="214.30" stroke="#666" stroke-width="0.8"/>
<text x="38.00" y="217.30" text-anchor="end" font-size="7.5" font-family="Liberation Serif, serif" stroke="#222" stroke-width="0.18" fill="#111">0.25</text>
<line x1="63.74" y1="290.90" x2="63.74" y2="288.90" stroke="#888" stroke-width="0.8"/>
<line x1="80.98" y1="290.90" x2="80.98" y2="288.90" stroke="#888" stroke-width="0.8"/>
<line x1="98.22" y1="290.90" x2="98.22" y2="288.90" stroke="#888" stroke-width="0.8"/>
<line x1="115.46" y1="290.90" x2="115.46" y2="288.90" stroke="#888" stroke-width="0.8"/>
<text x="55.12" y="303.40" text-anchor="middle" font-size="7.5" font-family="Liberation Serif, serif" stroke="#222" stroke-width="0.18" fill="#111">0</text>
<text x="72.36" y="303.40" text-anchor="middle" font-size="7.5" font-family="Liberation Serif, serif" stroke="#222" stroke-width="0.18" fill="#111">0.25</text>
<text x="89.60" y="303.40" text-anchor="middle" font-size="7.5" font-family="Liberation Serif, serif" stroke="#222" stroke-width="0.18" fill="#111">0.5</text>
<text x="106.84" y="303.40" text-anchor="middle" font-size="7.5" font-family="Liberation Serif, serif" stroke="#222" stroke-width="0.18" fill="#111">0.75</text>
<text x="124.08" y="303.40" text-anchor="middle" font-size="7.5" font-family="Liberation Serif, serif" stroke="#222" stroke-width="0.18" fill="#111">1</text>
<line x1="138.60" y1="282.48" x2="136.60" y2="282.48" stroke="#666" stroke-width="0.8"/>
<line x1="144.50" y1="274.06" x2="142.50" y2="274.06" stroke="#666" stroke-width="0.8"/>
<line x1="150.40" y1="265.64" x2="148.40" y2="265.64" stroke="#666" stroke-width="0.8"/>
<line x1="156.30" y1="257.22" x2="154.30" y2="257.22" stroke="#666" stroke-width="0.8"/>
<text x="166.05" y="255.51" font-size="7.5" font-family="Liberation Serif, serif" stroke="#222" stroke-width="0.18" fill="#111">0</text>
<text x="160.15" y="263.93" font-size="7.5" font-family="Liberation Serif, serif" stroke="#222" stroke-width="0.18" fill="#111">0.25</text>
<text x="154.25" y="272.35" font-size="7.5" font-family="Liberation Serif, serif" stroke="#222" stroke-width="0.18" fill="#111">0.5</text>
<text x="148.35" y="280.77" font-size="7.5" font-family="Liberation Serif, serif" stroke="#222" stroke-width="0.18" fill="#111">0.75</text>
<text x="142.45" y="289.19" font-size="7.5" font-family="Liberation Serif, serif" stroke="#222" stroke-width="0.18" fill="#111">1</text>
<polygon points="83.94,254.69 86.30,251.33 86.30,251.33 83.94,254.69" fill="#686d85" stroke="#686d85" stroke-width="0.3"/>
<polygon points="77.04,254.69 83.94,254.69 83.94,254.69 77.04,254.69" fill="#b6c0ea" stroke="#b6c0ea" stroke-width="0.3"/>
<polygon points="77.04,254.69 83.94,254.69 86.30,251.33 79.40,251.33" fill="#7f86a4" stroke="#7f86a4" stroke-width="0.3"/>
<polygon points="101.18,254.69 103.54,251.33 103.54,251.33 101.18,254.69" fill="#686d85" stroke="#686d85" stroke-width="0.3"/>
<polygon points="94.28,254.69 101.18,254.69 101.18,254.69 94.28,254.69" fill="#b6c0ea" stroke="#b6c0ea" stroke-width="0.3"/>
<polygon points="94.28,254.69 101.18,254.69 103.54,251.33 96.64,251.33" fill="#7f86a4" stroke="#7f86a4" stroke-width="0.3"/>
<polygon points="118.42,254.69 120.78,251.33 120.78,249.79 118.42,253.16" fill="#686d85" stroke="#686d85" stroke-width="0.3"/>
<polygon points="111.52,254.69 118.42,254.69 118.42,253.16 111.52,253.16" fill="#b6c0ea" stroke="#b6c0ea" stroke-width="0.3"/>
<polygon points="111.52,253.16 118.42,253.16 120.78,249.79 113.88,249.79" fill="#7f86a4" stroke="#7f86a4" stroke-width="0.3"/>
<polygon points="135.66,254.69 138.02,251.33 138.02,251.33 135.66,254.69" fill="#686d85" stroke="#686d85" stroke-width="0.3"/>
<polygon points="128.76,254.69 135.66,254.69 135.66,254.69 128.76,254.69" fill="#b6c0ea" stroke="#b6c0ea" stroke-width="0.3"/>
<polygon points="128.76,254.69 135.66,254.69 138.02,251.33 131.12,251.33" fill="#7f86a4" stroke="#7f86a4" stroke-width="0.3"/>
<polygon points="152.90,254.69 155.26,251.33 155.26,251.33 152.90,254.69" fill="#686d85" stroke="#686d85" stroke-width="0.3"/>
<polygon points="146.00,254.69 152.90,254.69 152.90,254.69 146.00,254.69" fill="#b6c0ea" stroke="#b6c0ea" stroke-width="0.3"/>
<polygon points="146.00,254.69 152.90,254.69 155.26,251.33 148.36,251.33" fill="#7f86a4" stroke="#7f86a4" stroke-width="0.3"/>
<polygon points="78.04,263.11 80.40,259.75 80.40,256.68 78.04,260.05" fill="#585f80" stroke="#585f80" stroke-width="0.3"/>
<polygon points="71.14,263.11 78.04,263.11 78.04,260.05 71.14,260.05" fill="#9aa7e0" stroke="#9aa7e0" stroke-width="0.3"/>
<polygon points="71.14,260.05 78.04,260.05 80.40,256.68 73.50,256.68" fill="#6c759d" stroke="#6c759d" stroke-width="0.3"/>
<polygon points="95.28,263.11 97.64,259.75 97.64,256.68 95.28,260.05" fill="#585f80" stroke="#585f80" stroke-width="0.3"/>
<polygon points="88.38,263.11 95.28,263.11 95.28,260.05 88.38,260.05" fill="#9aa7e0" stroke="#9aa7e0" stroke-width="0.3"/>
<polygon points="88.38,260.05 95.28,260.05 97.64,256.68 90.74,256.68" fill="#6c759d" stroke="#6c759d" stroke-width="0.3"/>
<polygon points="112.52,263.11 114.88,259.75 114.88,247.49 112.52,250.86" fill="#585f80" stroke="#585f80" stroke-width="0.3"/>
<polygon points="105.62,263.11 112.52,263.11 112.52,250.86 105.62,250.86" fill="#9aa7e0" stroke="#9aa7e0" stroke-width="0.3"/>
<polygon points="105.62,250.86 112.52,250.86 114.88,247.49 107.98,247.49" fill="#6c759d" stroke="#6c759d" stroke-width="0.3"/>
<polygon points="129.76,263.11 132.12,259.75 132.12,247.49 129.76,250.86" fill="#585f80" stroke="#585f80" stroke-width="0.3"/>
<polygon points="122.86,263.11 129.76,263.11 129.76,250.86 122.86,250.86" fill="#9aa7e0" stroke="#9aa7e0" stroke-width="0.3"/>
<polygon points="122.86,250.86 129.76,250.86 132.12,247.49 125.22,247.49" fill="#6c759d" stroke="#6c759d" stroke-width="0.3"/>
<polygon points="147.00,263.11 149.36,259.75 149.36,257.29 147.00,260.66" fill="#585f80" stroke="#585f80" stroke-width="0.3"/>
<polygon points="140.10,263.11 147.00,263.11 147.00,260.66 140.10,260.66" fill="#9aa7e0" stroke="#9aa7e0" stroke-width="0.3"/>
<polygon points="140.10,260.66 147.00,260.66 149.36,257.29 142.46,257.29" fill="#6c759d" stroke="#6c759d" stroke-width="0.3"/>
<polygon points="72.14,271.53 74.50,268.17 74.50,258.05 72.14,261.42" fill="#274074" stroke="#274074" stroke-width="0.3"/>
<polygon points="65.24,271.53 72.14,271.53 72.14,261.42 65.24,261.42" fill="#4470cc" stroke="#4470cc" stroke-width="0.3"/>
<polygon points="65.24,261.42 72.14,261.42 74.50,258.05 67.60,258.05" fill="#304e8f" stroke="#304e8f" stroke-width="0.3"/>
<polygon points="89.38,271.53 91.74,268.17 91.74,246.11 89.38,249.47" fill="#274074" stroke="#274074" stroke-width="0.3"/>
<polygon points="82.48,271.53 89.38,271.53 89.38,249.47 82.48,249.47" fill="#4470cc" stroke="#4470cc" stroke-width="0.3"/>
<polygon points="82.48,249.47 89.38,249.47 91.74,246.11 84.84,246.11" fill="#304e8f" stroke="#304e8f" stroke-width="0.3"/>
<polygon points="106.62,271.53 108.98,268.17 108.98,252.85 106.62,256.21" fill="#274074" stroke="#274074" stroke-width="0.3"/>
<polygon points="99.72,271.53 106.62,271.53 106.62,256.21 99.72,256.21" fill="#4470cc" stroke="#4470cc" stroke-width="0.3"/>
<polygon points="99.72,256.21 106.62,256.21 108.98,252.85 102.08,252.85" fill="#304e8f" stroke="#304e8f" stroke-width="0.3"/>
<polygon points="123.86,271.53 126.22,268.17 126.22,264.80 123.86,268.16" fill="#274074" stroke="#274074" stroke-width="0.3"/>
<polygon points="116.96,271.53 123.86,271.53 123.86,268.16 116.96,268.16" fill="#4470cc" stroke="#4470cc" stroke-width="0.3"/>
<polygon points="116.96,268.16 123.86,268.16 126.22,264.80 119.32,264.80" fill="#304e8f" stroke="#304e8f" stroke-width="0.3"/>
<polygon points="141.10,271.53 143.46,268.17 143.46,266.63 141.10,270.00" fill="#274074" stroke="#274074" stroke-width="0.3"/>
<polygon points="134.20,271.53 141.10,271.53 141.10,270.00 134.20,270.00" fill="#4470cc" stroke="#4470cc" stroke-width="0.3"/>
<polygon points="134.20,270.00 141.10,270.00 143.46,266.63 136.56,266.63" fill="#304e8f" stroke="#304e8f" stroke-width="0.3"/>
<polygon points="66.24,279.95 68.60,276.59 68.60,225.42 66.24,228.79" fill="#1e3869" stroke="#1e3869" stroke-width="0.3"/>
<polygon points="59.34,279.95 66.24,279.95 66.24,228.79 59.34,228.79" fill="#3463b8" stroke="#3463b8" stroke-width="0.3"/>
<polygon points="59.34,228.79 66.24,228.79 68.60,225.42 61.70,225.42" fill="#244581" stroke="#244581" stroke-width="0.3"/>
<polygon points="83.48,279.95 85.84,276.59 85.84,208.87 83.48,212.24" fill="#1e3869" stroke="#1e3869" stroke-width="0.3"/>
<polygon points="76.58,279.95 83.48,279.95 83.48,212.24 76.58,212.24" fill="#3463b8" stroke="#3463b8" stroke-width="0.3"/>
<polygon points="76.58,212.24 83.48,212.24 85.84,208.87 78.94,208.87" fill="#244581" stroke="#244581" stroke-width="0.3"/>
<polygon points="100.72,279.95 103.08,276.59 103.08,238.29 100.72,241.65" fill="#1e3869" stroke="#1e3869" stroke-width="0.3"/>
<polygon points="93.82,279.95 100.72,279.95 100.72,241.65 93.82,241.65" fill="#3463b8" stroke="#3463b8" stroke-width="0.3"/>
<polygon points="93.82,241.65 100.72,241.65 103.08,238.29 96.18,238.29" fill="#244581" stroke="#244581" stroke-width="0.3"/>
<polygon points="117.96,279.95 120.32,276.59 120.32,254.83 117.96,258.20" fill="#1e3869" stroke="#1e3869" stroke-width="0.3"/>
<polygon points="111.06,279.95 117.96,279.95 117.96,258.20 111.06,258.20" fill="#3463b8" stroke="#3463b8" stroke-width="0.3"/>
<polygon points="111.06,258.20 117.96,258.20 120.32,254.83 113.42,254.83" fill="#244581" stroke="#244581" stroke-width="0.3"/>
<polygon points="135.20,279.95 137.56,276.59 137.56,261.27 135.20,264.63" fill="#1e3869" stroke="#1e3869" stroke-width="0.3"/>
<polygon points="128.30,279.95 135.20,279.95 135.20,264.63 128.30,264.63" fill="#3463b8" stroke="#3463b8" stroke-width="0.3"/>
<polygon points="128.30,264.63 135.20,264.63 137.56,261.27 130.66,261.27" fill="#244581" stroke="#244581" stroke-width="0.3"/>
<polygon points="60.34,288.37 62.70,285.01 62.70,285.01 60.34,288.37" fill="#182d5b" stroke="#182d5b" stroke-width="0.3"/>
<polygon points="53.44,288.37 60.34,288.37 60.34,288.37 53.44,288.37" fill="#2a4fa0" stroke="#2a4fa0" stroke-width="0.3"/>
<polygon points="53.44,288.37 60.34,288.37 62.70,285.01 55.80,285.01" fill="#1d3770" stroke="#1d3770" stroke-width="0.3"/>
<polygon points="77.58,288.37 79.94,285.01 79.94,285.01 77.58,288.37" fill="#182d5b" stroke="#182d5b" stroke-width="0.3"/>
<polygon points="70.68,288.37 77.58,288.37 77.58,288.37 70.68,288.37" fill="#2a4fa0" stroke="#2a4fa0" stroke-width="0.3"/>
<polygon points="70.68,288.37 77.58,288.37 79.94,285.01 73.04,285.01" fill="#1d3770" stroke="#1d3770" stroke-width="0.3"/>
<polygon points="94.82,288.37 97.18,285.01 97.18,285.01 94.82,288.37" fill="#182d5b" stroke="#182d5b" stroke-width="0.3"/>
<polygon points="87.92,288.37 94.82,288.37 94.82,288.37 87.92,288.37" fill="#2a4fa0" stroke="#2a4fa0" stroke-width="0.3"/>
<polygon points="87.92,288.37 94.82,288.37 97.18,285.01 90.28,285.01" fill="#1d3770" stroke="#1d3770" stroke-width="0.3"/>
<polygon points="112.06,288.37 114.42,285.01 114.42,285.01 112.06,288.37" fill="#182d5b" stroke="#182d5b" stroke-width="0.3"/>
<polygon points="105.16,288.37 112.06,288.37 112.06,288.37 105.16,288.37" fill="#2a4fa0" stroke="#2a4fa0" stroke-width="0.3"/>
<polygon points="105.16,288.37 112.06,288.37 114.42,285.01 107.52,285.01" fill="#1d3770" stroke="#1d3770" stroke-width="0.3"/>
<polygon points="129.30,288.37 131.66,285.01 131.66,285.01 129.30,288.37" fill="#182d5b" stroke="#182d5b" stroke-width="0.3"/>
<polygon points="122.40,288.37 129.30,288.37 129.30,288.37 122.40,288.37" fill="#2a4fa0" stroke="#2a4fa0" stroke-width="0.3"/>
<polygon points="122.40,288.37 129.30,288.37 131.66,285.01 124.76,285.01" fill="#1d3770" stroke="#1d3770" stroke-width="0.3"/>
<text x="43.30" y="179.60" font-size="9" font-family="Liberation Serif, serif" stroke="#111" stroke-width="0.2" fill="#111">(d)</text>
<text transform="translate(14.70,257.40) rotate(-90)" text-anchor="middle" font-size="8" font-family="Liberation Serif, serif" stroke="#222" stroke-width="0.18" fill="#111">Relative frequency</text>
<text x="86.40" y="315.20" text-anchor="middle" font-size="8" font-family="Liberation Serif, serif" stroke="#222" stroke-width="0.18" fill="#111">M<tspan font-size="5" dy="1.5">i</tspan></text>
<text transform="translate(171.20,281.60) rotate(-90)" text-anchor="middle" font-size="8" font-family="Liberation Serif, serif" stroke="#222" stroke-width="0.18" fill="#111">C<tspan font-size="5" dy="1.5">i</tspan></text>
<polyline points="262.70,246.60 262.70,170.00 348.00,170.00 348.00,246.60 262.70,246.60" fill="none" stroke="#9c9c9c" stroke-width="1.1"/>
<line x1="233.50" y1="288.90" x2="233.50" y2="212.30" stroke="#a8a8a8" stroke-width="1"/>
<line x1="233.50" y1="288.90" x2="318.80" y2="288.90" stroke="#bdbdbd" stroke-width="1"/>
<line x1="233.50" y1="212.30" x2="262.70" y2="170.00" stroke="#4a4a4a" stroke-width="0.8"/>
<line x1="233.50" y1="288.90" x2="262.70" y2="246.60" stroke="#4a4a4a" stroke-width="0.8"/>
<line x1="318.80" y1="288.90" x2="348.00" y2="246.60" stroke="#4a4a4a" stroke-width="0.8"/>
<line x1="233.50" y1="288.90" x2="235.50" y2="288.90" stroke="#666" stroke-width="0.8"/>
<text x="225.60" y="291.90" text-anchor="end" font-size="7.5" font-family="Liberation Serif, serif" stroke="#222" stroke-width="0.18" fill="#111">0.00</text>
<line x1="233.50" y1="277.96" x2="235.50" y2="277.96" stroke="#666" stroke-width="0.8"/>
<text x="225.60" y="280.96" text-anchor="end" font-size="7.5" font-family="Liberation Serif, serif" stroke="#222" stroke-width="0.18" fill="#111">0.02</text>
<line x1="233.50" y1="267.01" x2="235.50" y2="267.01" stroke="#666" stroke-width="0.8"/>
<text x="225.60" y="270.01" text-anchor="end" font-size="7.5" font-family="Liberation Serif, serif" stroke="#222" stroke-width="0.18" fill="#111">0.04</text>
<line x1="233.50" y1="256.07" x2="235.50" y2="256.07" stroke="#666" stroke-width="0.8"/>
<text x="225.60" y="259.07" text-anchor="end" font-size="7.5" font-family="Liberation Serif, serif" stroke="#222" stroke-width="0.18" fill="#111">0.06</text>
<line x1="233.50" y1="245.13" x2="235.50" y2="245.13" stroke="#666" stroke-width="0.8"/>
<text x="225.60" y="248.13" text-anchor="end" font-size="7.5" font-family="Liberation Serif, serif" stroke="#222" stroke-width="0.18" fill="#111">0.08</text>
<line x1="233.50" y1="234.19" x2="235.50" y2="234.19" stroke="#666" stroke-width="0.8"/>
<text x="225.60" y="237.19" text-anchor="end" font-size="7.5" font-family="Liberation Serif, serif" stroke="#222" stroke-width="0.18" fill="#111">0.10</text>
<line x1="233.50" y1="223.24" x2="235.50" y2="223.24" stroke="#666" stroke-width="0.8"/>
<text x="225.60" y="226.24" text-anchor="end" font-size="7.5" font-family="Liberation Serif, serif" stroke="#222" stroke-width="0.18" fill="#111">0.12</text>
<line x1="233.50" y1="212.30" x2="235.50" y2="212.30" stroke="#666" stroke-width="0.8"/>
<text x="225.60" y="215.30" text-anchor="end" font-size="7.5" font-family="Liberation Serif, serif" stroke="#222" stroke-width="0.18" fill="#111">0.14</text>
<line x1="250.56" y1="288.90" x2="250.56" y2="286.90" stroke="#888" stroke-width="0.8"/>
<line x1="267.62" y1="288.90" x2="267.62" y2="286.90" stroke="#888" stroke-width="0.8"/>
<line x1="284.68" y1="288.90" x2="284.68" y2="286.90" stroke="#888" stroke-width="0.8"/>
<line x1="301.74" y1="288.90" x2="301.74" y2="286.90" stroke="#888" stroke-width="0.8"/>
<text x="242.03" y="301.40" text-anchor="middle" font-size="7.5" font-family="Liberation Serif, serif" stroke="#222" stroke-width="0.18" fill="#111">0</text>
<text x="259.09" y="301.40" text-anchor="middle" font-size="7.5" font-family="Liberation Serif, serif" stroke="#222" stroke-width="0.18" fill="#111">0.25</text>
<text x="276.15" y="301.40" text-anchor="middle" font-size="7.5" font-family="Liberation Serif, serif" stroke="#222" stroke-width="0.18" fill="#111">0.5</text>
<text x="293.21" y="301.40" text-anchor="middle" font-size="7.5" font-family="Liberation Serif, serif" stroke="#222" stroke-width="0.18" fill="#111">0.75</text>
<text x="310.27" y="301.40" text-anchor="middle" font-size="7.5" font-family="Liberation Serif, serif" stroke="#222" stroke-width="0.18" fill="#111">1</text>
<line x1="324.64" y1="280.44" x2="322.64" y2="280.44" stroke="#666" stroke-width="0.8"/>
<line x1="330.48" y1="271.98" x2="328.48" y2="271.98" stroke="#666" stroke-width="0.8"/>
<line x1="336.32" y1="263.52" x2="334.32" y2="263.52" stroke="#666" stroke-width="0.8"/>
<line x1="342.16" y1="255.06" x2="340.16" y2="255.06" stroke="#666" stroke-width="0.8"/>
<text x="351.88" y="253.33" font-size="7.5" font-family="Liberation Serif, serif" stroke="#222" stroke-width="0.18" fill="#111">0</text>
<text x="346.04" y="261.79" font-size="7.5" font-family="Liberation Serif, serif" stroke="#222" stroke-width="0.18" fill="#111">0.25</text>
<text x="340.20" y="270.25" font-size="7.5" font-family="Liberation Serif, serif" stroke="#222" stroke-width="0.18" fill="#111">0.5</text>
<text x="334.36" y="278.71" font-size="7.5" font-family="Liberation Serif, serif" stroke="#222" stroke-width="0.18" fill="#111">0.75</text>
<text x="328.52" y="287.17" font-size="7.5" font-family="Liberation Serif, serif" stroke="#222" stroke-width="0.18" fill="#111">1</text>
<polygon points="270.55,252.52 272.89,249.14 272.89,249.14 270.55,252.52" fill="#686d85" stroke="#686d85" stroke-width="0.3"/>
<polygon points="263.73,252.52 270.55,252.52 270.55,252.52 263.73,252.52" fill="#b6c0ea" stroke="#b6c0ea" stroke-width="0.3"/>
<polygon points="263.73,252.52 270.55,252.52 272.89,249.14 266.07,249.14" fill="#7f86a4" stroke="#7f86a4" stroke-width="0.3"/>
<polygon points="287.61,252.52 289.95,249.14 289.95,220.14 287.61,223.52" fill="#686d85" stroke="#686d85" stroke-width="0.3"/>
<polygon points="280.79,252.52 287.61,252.52 287.61,223.52 280.79,223.52" fill="#b6c0ea" stroke="#b6c0ea" stroke-width="0.3"/>
<polygon points="280.79,223.52 287.61,223.52 289.95,220.14 283.13,220.14" fill="#7f86a4" stroke="#7f86a4" stroke-width="0.3"/>
<polygon points="304.67,252.52 307.01,249.14 307.01,220.14 304.67,223.52" fill="#686d85" stroke="#686d85" stroke-width="0.3"/>
<polygon points="297.85,252.52 304.67,252.52 304.67,223.52 297.85,223.52" fill="#b6c0ea" stroke="#b6c0ea" stroke-width="0.3"/>
<polygon points="297.85,223.52 304.67,223.52 307.01,220.14 300.19,220.14" fill="#7f86a4" stroke="#7f86a4" stroke-width="0.3"/>
<polygon points="321.73,252.52 324.07,249.14 324.07,226.16 321.73,229.54" fill="#686d85" stroke="#686d85" stroke-width="0.3"/>
<polygon points="314.91,252.52 321.73,252.52 321.73,229.54 314.91,229.54" fill="#b6c0ea" stroke="#b6c0ea" stroke-width="0.3"/>
<polygon points="314.91,229.54 321.73,229.54 324.07,226.16 317.25,226.16" fill="#7f86a4" stroke="#7f86a4" stroke-width="0.3"/>
<polygon points="338.79,252.52 341.13,249.14 341.13,226.16 338.79,229.54" fill="#686d85" stroke="#686d85" stroke-width="0.3"/>
<polygon points="331.97,252.52 338.79,252.52 338.79,229.54 331.97,229.54" fill="#b6c0ea" stroke="#b6c0ea" stroke-width="0.3"/>
<polygon points="331.97,229.54 338.79,229.54 341.13,226.16 334.31,226.16" fill="#7f86a4" stroke="#7f86a4" stroke-width="0.3"/>
<polygon points="264.71,260.98 267.05,257.60 267.05,257.60 264.71,260.98" fill="#585f80" stroke="#585f80" stroke-width="0.3"/>
<polygon points="257.89,260.98 264.71,260.98 264.71,260.98 257.89,260.98" fill="#9aa7e0" stroke="#9aa7e0" stroke-width="0.3"/>
<polygon points="257.89,260.98 264.71,260.98 267.05,257.60 260.23,257.60" fill="#6c759d" stroke="#6c759d" stroke-width="0.3"/>
<polygon points="281.77,260.98 284.11,257.60 284.11,211.64 281.77,215.02" fill="#585f80" stroke="#585f80" stroke-width="0.3"/>
<polygon points="274.95,260.98 281.77,260.98 281.77,215.02 274.95,215.02" fill="#9aa7e0" stroke="#9aa7e0" stroke-width="0.3"/>
<polygon points="274.95,215.02 281.77,215.02 284.11,211.64 277.29,211.64" fill="#6c759d" stroke="#6c759d" stroke-width="0.3"/>
<polygon points="298.83,260.98 301.17,257.60 301.17,222.58 298.83,225.96" fill="#585f80" stroke="#585f80" stroke-width="0.3"/>
<polygon points="292.01,260.98 298.83,260.98 298.83,225.96 292.01,225.96" fill="#9aa7e0" stroke="#9aa7e0" stroke-width="0.3"/>
<polygon points="292.01,225.96 298.83,225.96 301.17,222.58 294.35,222.58" fill="#6c759d" stroke="#6c759d" stroke-width="0.3"/>
<polygon points="315.89,260.98 318.23,257.60 318.23,239.54 315.89,242.93" fill="#585f80" stroke="#585f80" stroke-width="0.3"/>
<polygon points="309.07,260.98 315.89,260.98 315.89,242.93 309.07,242.93" fill="#9aa7e0" stroke="#9aa7e0" stroke-width="0.3"/>
<polygon points="309.07,242.93 315.89,242.93 318.23,239.54 311.41,239.54" fill="#6c759d" stroke="#6c759d" stroke-width="0.3"/>
<polygon points="332.95,260.98 335.29,257.60 335.29,240.64 332.95,244.02" fill="#585f80" stroke="#585f80" stroke-width="0.3"/>
<polygon points="326.13,260.98 332.95,260.98 332.95,244.02 326.13,244.02" fill="#9aa7e0" stroke="#9aa7e0" stroke-width="0.3"/>
<polygon points="326.13,244.02 332.95,244.02 335.29,240.64 328.47,240.64" fill="#6c759d" stroke="#6c759d" stroke-width="0.3"/>
<polygon points="258.87,269.44 261.21,266.06 261.21,266.06 258.87,269.44" fill="#274074" stroke="#274074" stroke-width="0.3"/>
<polygon points="252.05,269.44 258.87,269.44 258.87,269.44 252.05,269.44" fill="#4470cc" stroke="#4470cc" stroke-width="0.3"/>
<polygon points="252.05,269.44 258.87,269.44 261.21,266.06 254.39,266.06" fill="#304e8f" stroke="#304e8f" stroke-width="0.3"/>
<polygon points="275.93,269.44 278.27,266.06 278.27,237.61 275.93,240.99" fill="#274074" stroke="#274074" stroke-width="0.3"/>
<polygon points="269.11,269.44 275.93,269.44 275.93,240.99 269.11,240.99" fill="#4470cc" stroke="#4470cc" stroke-width="0.3"/>
<polygon points="269.11,240.99 275.93,240.99 278.27,237.61 271.45,237.61" fill="#304e8f" stroke="#304e8f" stroke-width="0.3"/>
<polygon points="292.99,269.44 295.33,266.06 295.33,230.49 292.99,233.88" fill="#274074" stroke="#274074" stroke-width="0.3"/>
<polygon points="286.17,269.44 292.99,269.44 292.99,233.88 286.17,233.88" fill="#4470cc" stroke="#4470cc" stroke-width="0.3"/>
<polygon points="286.17,233.88 292.99,233.88 295.33,230.49 288.51,230.49" fill="#304e8f" stroke="#304e8f" stroke-width="0.3"/>
<polygon points="310.05,269.44 312.39,266.06 312.39,242.53 310.05,245.91" fill="#274074" stroke="#274074" stroke-width="0.3"/>
<polygon points="303.23,269.44 310.05,269.44 310.05,245.91 303.23,245.91" fill="#4470cc" stroke="#4470cc" stroke-width="0.3"/>
<polygon points="303.23,245.91 310.05,245.91 312.39,242.53 305.57,242.53" fill="#304e8f" stroke="#304e8f" stroke-width="0.3"/>
<polygon points="327.11,269.44 329.45,266.06 329.45,254.57 327.11,257.95" fill="#274074" stroke="#274074" stroke-width="0.3"/>
<polygon points="320.29,269.44 327.11,269.44 327.11,257.95 320.29,257.95" fill="#4470cc" stroke="#4470cc" stroke-width="0.3"/>
<polygon points="320.29,257.95 327.11,257.95 329.45,254.57 322.63,254.57" fill="#304e8f" stroke="#304e8f" stroke-width="0.3"/>
<polygon points="253.03,277.90 255.37,274.52 255.37,274.52 253.03,277.90" fill="#1e3869" stroke="#1e3869" stroke-width="0.3"/>
<polygon points="246.21,277.90 253.03,277.90 253.03,277.90 246.21,277.90" fill="#3463b8" stroke="#3463b8" stroke-width="0.3"/>
<polygon points="246.21,277.90 253.03,277.90 255.37,274.52 248.55,274.52" fill="#244581" stroke="#244581" stroke-width="0.3"/>
<polygon points="270.09,277.90 272.43,274.52 272.43,249.35 270.09,252.73" fill="#1e3869" stroke="#1e3869" stroke-width="0.3"/>
<polygon points="263.27,277.90 270.09,277.90 270.09,252.73 263.27,252.73" fill="#3463b8" stroke="#3463b8" stroke-width="0.3"/>
<polygon points="263.27,252.73 270.09,252.73 272.43,249.35 265.61,249.35" fill="#244581" stroke="#244581" stroke-width="0.3"/>
<polygon points="287.15,277.90 289.49,274.52 289.49,216.52 287.15,219.90" fill="#1e3869" stroke="#1e3869" stroke-width="0.3"/>
<polygon points="280.33,277.90 287.15,277.90 287.15,219.90 280.33,219.90" fill="#3463b8" stroke="#3463b8" stroke-width="0.3"/>
<polygon points="280.33,219.90 287.15,219.90 289.49,216.52 282.67,216.52" fill="#244581" stroke="#244581" stroke-width="0.3"/>
<polygon points="304.21,277.90 306.55,274.52 306.55,245.52 304.21,248.90" fill="#1e3869" stroke="#1e3869" stroke-width="0.3"/>
<polygon points="297.39,277.90 304.21,277.90 304.21,248.90 297.39,248.90" fill="#3463b8" stroke="#3463b8" stroke-width="0.3"/>
<polygon points="297.39,248.90 304.21,248.90 306.55,245.52 299.73,245.52" fill="#244581" stroke="#244581" stroke-width="0.3"/>
<polygon points="321.27,277.90 323.61,274.52 323.61,268.50 321.27,271.88" fill="#1e3869" stroke="#1e3869" stroke-width="0.3"/>
<polygon points="314.45,277.90 321.27,277.90 321.27,271.88 314.45,271.88" fill="#3463b8" stroke="#3463b8" stroke-width="0.3"/>
<polygon points="314.45,271.88 321.27,271.88 323.61,268.50 316.79,268.50" fill="#244581" stroke="#244581" stroke-width="0.3"/>
<polygon points="247.19,286.36 249.53,282.98 249.53,282.98 247.19,286.36" fill="#182d5b" stroke="#182d5b" stroke-width="0.3"/>
<polygon points="240.37,286.36 247.19,286.36 247.19,286.36 240.37,286.36" fill="#2a4fa0" stroke="#2a4fa0" stroke-width="0.3"/>
<polygon points="240.37,286.36 247.19,286.36 249.53,282.98 242.71,282.98" fill="#1d3770" stroke="#1d3770" stroke-width="0.3"/>
<polygon points="264.25,286.36 266.59,282.98 266.59,253.98 264.25,257.36" fill="#182d5b" stroke="#182d5b" stroke-width="0.3"/>
<polygon points="257.43,286.36 264.25,286.36 264.25,257.36 257.43,257.36" fill="#2a4fa0" stroke="#2a4fa0" stroke-width="0.3"/>
<polygon points="257.43,257.36 264.25,257.36 266.59,253.98 259.77,253.98" fill="#1d3770" stroke="#1d3770" stroke-width="0.3"/>
<polygon points="281.31,286.36 283.65,282.98 283.65,235.92 281.31,239.31" fill="#182d5b" stroke="#182d5b" stroke-width="0.3"/>
<polygon points="274.49,286.36 281.31,286.36 281.31,239.31 274.49,239.31" fill="#2a4fa0" stroke="#2a4fa0" stroke-width="0.3"/>
<polygon points="274.49,239.31 281.31,239.31 283.65,235.92 276.83,235.92" fill="#1d3770" stroke="#1d3770" stroke-width="0.3"/>
<polygon points="298.37,286.36 300.71,282.98 300.71,253.98 298.37,257.36" fill="#182d5b" stroke="#182d5b" stroke-width="0.3"/>
<polygon points="291.55,286.36 298.37,286.36 298.37,257.36 291.55,257.36" fill="#2a4fa0" stroke="#2a4fa0" stroke-width="0.3"/>
<polygon points="291.55,257.36 298.37,257.36 300.71,253.98 293.89,253.98" fill="#1d3770" stroke="#1d3770" stroke-width="0.3"/>
<polygon points="315.43,286.36 317.77,282.98 317.77,278.05 315.43,281.44" fill="#182d5b" stroke="#182d5b" stroke-width="0.3"/>
<polygon points="308.61,286.36 315.43,286.36 315.43,281.44 308.61,281.44" fill="#2a4fa0" stroke="#2a4fa0" stroke-width="0.3"/>
<polygon points="308.61,281.44 315.43,281.44 317.77,278.05 310.95,278.05" fill="#1d3770" stroke="#1d3770" stroke-width="0.3"/>
<text x="237.90" y="181.80" font-size="9" font-family="Liberation Serif, serif" stroke="#111" stroke-width="0.2" fill="#111">(e)</text>
<text transform="translate(200.30,250.20) rotate(-90)" text-anchor="middle" font-size="8" font-family="Liberation Serif, serif" stroke="#222" stroke-width="0.18" fill="#111">Relative frequency</text>
<text x="272.50" y="315.60" text-anchor="middle" font-size="8" font-family="Liberation Serif, serif" stroke="#222" stroke-width="0.18" fill="#111">W<tspan font-size="5" dy="1.5">i</tspan></text>
<text transform="translate(355.60,280.10) rotate(-90)" text-anchor="middle" font-size="8" font-family="Liberation Serif, serif" stroke="#222" stroke-width="0.18" fill="#111">U<tspan font-size="5" dy="1.5">i</tspan></text>
<polyline points="443.50,241.00 443.50,169.60 528.60,169.60 528.60,241.00 443.50,241.00" fill="none" stroke="#9c9c9c" stroke-width="1.1"/>
<line x1="414.50" y1="282.80" x2="414.50" y2="211.40" stroke="#a8a8a8" stroke-width="1"/>
<line x1="414.50" y1="282.80" x2="499.60" y2="282.80" stroke="#bdbdbd" stroke-width="1"/>
<line x1="414.50" y1="211.40" x2="443.50" y2="169.60" stroke="#4a4a4a" stroke-width="0.8"/>
<line x1="414.50" y1="282.80" x2="443.50" y2="241.00" stroke="#4a4a4a" stroke-width="0.8"/>
<line x1="499.60" y1="282.80" x2="528.60" y2="241.00" stroke="#4a4a4a" stroke-width="0.8"/>
<line x1="414.50" y1="282.80" x2="416.50" y2="282.80" stroke="#666" stroke-width="0.8"/>
<text x="406.60" y="285.80" text-anchor="end" font-size="7.5" font-family="Liberation Serif, serif" stroke="#222" stroke-width="0.18" fill="#111">0.00</text>
<line x1="414.50" y1="268.52" x2="416.50" y2="268.52" stroke="#666" stroke-width="0.8"/>
<text x="406.60" y="271.52" text-anchor="end" font-size="7.5" font-family="Liberation Serif, serif" stroke="#222" stroke-width="0.18" fill="#111">0.03</text>
<line x1="414.50" y1="254.24" x2="416.50" y2="254.24" stroke="#666" stroke-width="0.8"/>
<text x="406.60" y="257.24" text-anchor="end" font-size="7.5" font-family="Liberation Serif, serif" stroke="#222" stroke-width="0.18" fill="#111">0.06</text>
<line x1="414.50" y1="239.96" x2="416.50" y2="239.96" stroke="#666" stroke-width="0.8"/>
<text x="406.60" y="242.96" text-anchor="end" font-size="7.5" font-family="Liberation Serif, serif" stroke="#222" stroke-width="0.18" fill="#111">0.09</text>
<line x1="414.50" y1="225.68" x2="416.50" y2="225.68" stroke="#666" stroke-width="0.8"/>
<text x="406.60" y="228.68" text-anchor="end" font-size="7.5" font-family="Liberation Serif, serif" stroke="#222" stroke-width="0.18" fill="#111">0.12</text>
<line x1="414.50" y1="211.40" x2="416.50" y2="211.40" stroke="#666" stroke-width="0.8"/>
<text x="406.60" y="214.40" text-anchor="end" font-size="7.5" font-family="Liberation Serif, serif" stroke="#222" stroke-width="0.18" fill="#111">0.15</text>
<line x1="431.52" y1="282.80" x2="431.52" y2="280.80" stroke="#888" stroke-width="0.8"/>
<line x1="448.54" y1="282.80" x2="448.54" y2="280.80" stroke="#888" stroke-width="0.8"/>
<line x1="465.56" y1="282.80" x2="465.56" y2="280.80" stroke="#888" stroke-width="0.8"/>
<line x1="482.58" y1="282.80" x2="482.58" y2="280.80" stroke="#888" stroke-width="0.8"/>
<text x="423.01" y="295.30" text-anchor="middle" font-size="7.5" font-family="Liberation Serif, serif" stroke="#222" stroke-width="0.18" fill="#111">0</text>
<text x="440.03" y="295.30" text-anchor="middle" font-size="7.5" font-family="Liberation Serif, serif" stroke="#222" stroke-width="0.18" fill="#111">0.25</text>
<text x="457.05" y="295.30" text-anchor="middle" font-size="7.5" font-family="Liberation Serif, serif" stroke="#222" stroke-width="0.18" fill="#111">0.5</text>
<text x="474.07" y="295.30" text-anchor="middle" font-size="7.5" font-family="Liberation Serif, serif" stroke="#222" stroke-width="0.18" fill="#111">0.75</text>
<text x="491.09" y="295.30" text-anchor="middle" font-size="7.5" font-family="Liberation Serif, serif" stroke="#222" stroke-width="0.18" fill="#111">1</text>
<line x1="505.40" y1="274.44" x2="503.40" y2="274.44" stroke="#666" stroke-width="0.8"/>
<line x1="511.20" y1="266.08" x2="509.20" y2="266.08" stroke="#666" stroke-width="0.8"/>
<line x1="517.00" y1="257.72" x2="515.00" y2="257.72" stroke="#666" stroke-width="0.8"/>
<line x1="522.80" y1="249.36" x2="520.80" y2="249.36" stroke="#666" stroke-width="0.8"/>
<text x="532.50" y="247.68" font-size="7.5" font-family="Liberation Serif, serif" stroke="#222" stroke-width="0.18" fill="#111">0</text>
<text x="526.70" y="256.04" font-size="7.5" font-family="Liberation Serif, serif" stroke="#222" stroke-width="0.18" fill="#111">0.25</text>
<text x="520.90" y="264.40" font-size="7.5" font-family="Liberation Serif, serif" stroke="#222" stroke-width="0.18" fill="#111">0.5</text>
<text x="515.10" y="272.76" font-size="7.5" font-family="Liberation Serif, serif" stroke="#222" stroke-width="0.18" fill="#111">0.75</text>
<text x="509.30" y="281.12" font-size="7.5" font-family="Liberation Serif, serif" stroke="#222" stroke-width="0.18" fill="#111">1</text>
<polygon points="451.35,246.85 453.67,243.51 453.67,243.51 451.35,246.85" fill="#686d85" stroke="#686d85" stroke-width="0.3"/>
<polygon points="444.55,246.85 451.35,246.85 451.35,246.85 444.55,246.85" fill="#b6c0ea" stroke="#b6c0ea" stroke-width="0.3"/>
<polygon points="444.55,246.85 451.35,246.85 453.67,243.51 446.87,243.51" fill="#7f86a4" stroke="#7f86a4" stroke-width="0.3"/>
<polygon points="468.37,246.85 470.69,243.51 470.69,227.80 468.37,231.14" fill="#686d85" stroke="#686d85" stroke-width="0.3"/>
<polygon points="461.57,246.85 468.37,246.85 468.37,231.14 461.57,231.14" fill="#b6c0ea" stroke="#b6c0ea" stroke-width="0.3"/>
<polygon points="461.57,231.14 468.37,231.14 470.69,227.80 463.89,227.80" fill="#7f86a4" stroke="#7f86a4" stroke-width="0.3"/>
<polygon points="485.39,246.85 487.71,243.51 487.71,233.04 485.39,236.38" fill="#686d85" stroke="#686d85" stroke-width="0.3"/>
<polygon points="478.59,246.85 485.39,246.85 485.39,236.38 478.59,236.38" fill="#b6c0ea" stroke="#b6c0ea" stroke-width="0.3"/>
<polygon points="478.59,236.38 485.39,236.38 487.71,233.04 480.91,233.04" fill="#7f86a4" stroke="#7f86a4" stroke-width="0.3"/>
<polygon points="502.41,246.85 504.73,243.51 504.73,223.52 502.41,226.86" fill="#686d85" stroke="#686d85" stroke-width="0.3"/>
<polygon points="495.61,246.85 502.41,246.85 502.41,226.86 495.61,226.86" fill="#b6c0ea" stroke="#b6c0ea" stroke-width="0.3"/>
<polygon points="495.61,226.86 502.41,226.86 504.73,223.52 497.93,223.52" fill="#7f86a4" stroke="#7f86a4" stroke-width="0.3"/>
<polygon points="519.43,246.85 521.75,243.51 521.75,237.32 519.43,240.66" fill="#686d85" stroke="#686d85" stroke-width="0.3"/>
<polygon points="512.63,246.85 519.43,246.85 519.43,240.66 512.63,240.66" fill="#b6c0ea" stroke="#b6c0ea" stroke-width="0.3"/>
<polygon points="512.63,240.66 519.43,240.66 521.75,237.32 514.95,237.32" fill="#7f86a4" stroke="#7f86a4" stroke-width="0.3"/>
<polygon points="445.55,255.21 447.87,251.87 447.87,251.87 445.55,255.21" fill="#585f80" stroke="#585f80" stroke-width="0.3"/>
<polygon points="438.75,255.21 445.55,255.21 445.55,255.21 438.75,255.21" fill="#9aa7e0" stroke="#9aa7e0" stroke-width="0.3"/>
<polygon points="438.75,255.21 445.55,255.21 447.87,251.87 441.07,251.87" fill="#6c759d" stroke="#6c759d" stroke-width="0.3"/>
<polygon points="462.57,255.21 464.89,251.87 464.89,226.64 462.57,229.98" fill="#585f80" stroke="#585f80" stroke-width="0.3"/>
<polygon points="455.77,255.21 462.57,255.21 462.57,229.98 455.77,229.98" fill="#9aa7e0" stroke="#9aa7e0" stroke-width="0.3"/>
<polygon points="455.77,229.98 462.57,229.98 464.89,226.64 458.09,226.64" fill="#6c759d" stroke="#6c759d" stroke-width="0.3"/>
<polygon points="479.59,255.21 481.91,251.87 481.91,206.65 479.59,209.99" fill="#585f80" stroke="#585f80" stroke-width="0.3"/>
<polygon points="472.79,255.21 479.59,255.21 479.59,209.99 472.79,209.99" fill="#9aa7e0" stroke="#9aa7e0" stroke-width="0.3"/>
<polygon points="472.79,209.99 479.59,209.99 481.91,206.65 475.11,206.65" fill="#6c759d" stroke="#6c759d" stroke-width="0.3"/>
<polygon points="496.61,255.21 498.93,251.87 498.93,222.36 496.61,225.70" fill="#585f80" stroke="#585f80" stroke-width="0.3"/>
<polygon points="489.81,255.21 496.61,255.21 496.61,225.70 489.81,225.70" fill="#9aa7e0" stroke="#9aa7e0" stroke-width="0.3"/>
<polygon points="489.81,225.70 496.61,225.70 498.93,222.36 492.13,222.36" fill="#6c759d" stroke="#6c759d" stroke-width="0.3"/>
<polygon points="513.63,255.21 515.95,251.87 515.95,231.40 513.63,234.74" fill="#585f80" stroke="#585f80" stroke-width="0.3"/>
<polygon points="506.83,255.21 513.63,255.21 513.63,234.74 506.83,234.74" fill="#9aa7e0" stroke="#9aa7e0" stroke-width="0.3"/>
<polygon points="506.83,234.74 513.63,234.74 515.95,231.40 509.15,231.40" fill="#6c759d" stroke="#6c759d" stroke-width="0.3"/>
<polygon points="439.75,263.57 442.07,260.23 442.07,260.23 439.75,263.57" fill="#274074" stroke="#274074" stroke-width="0.3"/>
<polygon points="432.95,263.57 439.75,263.57 439.75,263.57 432.95,263.57" fill="#4470cc" stroke="#4470cc" stroke-width="0.3"/>
<polygon points="432.95,263.57 439.75,263.57 442.07,260.23 435.27,260.23" fill="#304e8f" stroke="#304e8f" stroke-width="0.3"/>
<polygon points="456.77,263.57 459.09,260.23 459.09,225.00 456.77,228.35" fill="#274074" stroke="#274074" stroke-width="0.3"/>
<polygon points="449.97,263.57 456.77,263.57 456.77,228.35 449.97,228.35" fill="#4470cc" stroke="#4470cc" stroke-width="0.3"/>
<polygon points="449.97,228.35 456.77,228.35 459.09,225.00 452.29,225.00" fill="#304e8f" stroke="#304e8f" stroke-width="0.3"/>
<polygon points="473.79,263.57 476.11,260.23 476.11,199.30 473.79,202.64" fill="#274074" stroke="#274074" stroke-width="0.3"/>
<polygon points="466.99,263.57 473.79,263.57 473.79,202.64 466.99,202.64" fill="#4470cc" stroke="#4470cc" stroke-width="0.3"/>
<polygon points="466.99,202.64 473.79,202.64 476.11,199.30 469.31,199.30" fill="#304e8f" stroke="#304e8f" stroke-width="0.3"/>
<polygon points="490.81,263.57 493.13,260.23 493.13,230.24 490.81,233.58" fill="#274074" stroke="#274074" stroke-width="0.3"/>
<polygon points="484.01,263.57 490.81,263.57 490.81,233.58 484.01,233.58" fill="#4470cc" stroke="#4470cc" stroke-width="0.3"/>
<polygon points="484.01,233.58 490.81,233.58 493.13,230.24 486.33,230.24" fill="#304e8f" stroke="#304e8f" stroke-width="0.3"/>
<polygon points="507.83,263.57 510.15,260.23 510.15,240.24 507.83,243.58" fill="#274074" stroke="#274074" stroke-width="0.3"/>
<polygon points="501.03,263.57 507.83,263.57 507.83,243.58 501.03,243.58" fill="#4470cc" stroke="#4470cc" stroke-width="0.3"/>
<polygon points="501.03,243.58 507.83,243.58 510.15,240.24 503.35,240.24" fill="#304e8f" stroke="#304e8f" stroke-width="0.3"/>
<polygon points="433.95,271.93 436.27,268.59 436.27,268.59 433.95,271.93" fill="#1e3869" stroke="#1e3869" stroke-width="0.3"/>
<polygon points="427.15,271.93 433.95,271.93 433.95,271.93 427.15,271.93" fill="#3463b8" stroke="#3463b8" stroke-width="0.3"/>
<polygon points="427.15,271.93 433.95,271.93 436.27,268.59 429.47,268.59" fill="#244581" stroke="#244581" stroke-width="0.3"/>
<polygon points="450.97,271.93 453.29,268.59 453.29,208.14 450.97,211.48" fill="#1e3869" stroke="#1e3869" stroke-width="0.3"/>
<polygon points="444.17,271.93 450.97,271.93 450.97,211.48 444.17,211.48" fill="#3463b8" stroke="#3463b8" stroke-width="0.3"/>
<polygon points="444.17,211.48 450.97,211.48 453.29,208.14 446.49,208.14" fill="#244581" stroke="#244581" stroke-width="0.3"/>
<polygon points="467.99,271.93 470.31,268.59 470.31,218.13 467.99,221.48" fill="#1e3869" stroke="#1e3869" stroke-width="0.3"/>
<polygon points="461.19,271.93 467.99,271.93 467.99,221.48 461.19,221.48" fill="#3463b8" stroke="#3463b8" stroke-width="0.3"/>
<polygon points="461.19,221.48 467.99,221.48 470.31,218.13 463.51,218.13" fill="#244581" stroke="#244581" stroke-width="0.3"/>
<polygon points="485.01,271.93 487.33,268.59 487.33,252.88 485.01,256.22" fill="#1e3869" stroke="#1e3869" stroke-width="0.3"/>
<polygon points="478.21,271.93 485.01,271.93 485.01,256.22 478.21,256.22" fill="#3463b8" stroke="#3463b8" stroke-width="0.3"/>
<polygon points="478.21,256.22 485.01,256.22 487.33,252.88 480.53,252.88" fill="#244581" stroke="#244581" stroke-width="0.3"/>
<polygon points="502.03,271.93 504.35,268.59 504.35,262.88 502.03,266.22" fill="#1e3869" stroke="#1e3869" stroke-width="0.3"/>
<polygon points="495.23,271.93 502.03,271.93 502.03,266.22 495.23,266.22" fill="#3463b8" stroke="#3463b8" stroke-width="0.3"/>
<polygon points="495.23,266.22 502.03,266.22 504.35,262.88 497.55,262.88" fill="#244581" stroke="#244581" stroke-width="0.3"/>
<polygon points="428.15,280.29 430.47,276.95 430.47,276.95 428.15,280.29" fill="#182d5b" stroke="#182d5b" stroke-width="0.3"/>
<polygon points="421.35,280.29 428.15,280.29 428.15,280.29 421.35,280.29" fill="#2a4fa0" stroke="#2a4fa0" stroke-width="0.3"/>
<polygon points="421.35,280.29 428.15,280.29 430.47,276.95 423.67,276.95" fill="#1d3770" stroke="#1d3770" stroke-width="0.3"/>
<polygon points="445.17,280.29 447.49,276.95 447.49,271.71 445.17,275.06" fill="#182d5b" stroke="#182d5b" stroke-width="0.3"/>
<polygon points="438.37,280.29 445.17,280.29 445.17,275.06 438.37,275.06" fill="#2a4fa0" stroke="#2a4fa0" stroke-width="0.3"/>
<polygon points="438.37,275.06 445.17,275.06 447.49,271.71 440.69,271.71" fill="#1d3770" stroke="#1d3770" stroke-width="0.3"/>
<polygon points="462.19,280.29 464.51,276.95 464.51,266.95 462.19,270.30" fill="#182d5b" stroke="#182d5b" stroke-width="0.3"/>
<polygon points="455.39,280.29 462.19,280.29 462.19,270.30 455.39,270.30" fill="#2a4fa0" stroke="#2a4fa0" stroke-width="0.3"/>
<polygon points="455.39,270.30 462.19,270.30 464.51,266.95 457.71,266.95" fill="#1d3770" stroke="#1d3770" stroke-width="0.3"/>
<polygon points="479.21,280.29 481.53,276.95 481.53,266.95 479.21,270.30" fill="#182d5b" stroke="#182d5b" stroke-width="0.3"/>
<polygon points="472.41,280.29 479.21,280.29 479.21,270.30 472.41,270.30" fill="#2a4fa0" stroke="#2a4fa0" stroke-width="0.3"/>
<polygon points="472.41,270.30 479.21,270.30 481.53,266.95 474.73,266.95" fill="#1d3770" stroke="#1d3770" stroke-width="0.3"/>
<polygon points="496.23,280.29 498.55,276.95 498.55,271.71 496.23,275.06" fill="#182d5b" stroke="#182d5b" stroke-width="0.3"/>
<polygon points="489.43,280.29 496.23,280.29 496.23,275.06 489.43,275.06" fill="#2a4fa0" stroke="#2a4fa0" stroke-width="0.3"/>
<polygon points="489.43,275.06 496.23,275.06 498.55,271.71 491.75,271.71" fill="#1d3770" stroke="#1d3770" stroke-width="0.3"/>
<text x="416.70" y="180.80" font-size="9" font-family="Liberation Serif, serif" stroke="#111" stroke-width="0.2" fill="#111">(f)</text>
<text transform="translate(383.00,252.60) rotate(-90)" text-anchor="middle" font-size="8" font-family="Liberation Serif, serif" stroke="#222" stroke-width="0.18" fill="#111">Relative frequency</text>
<text x="456.40" y="309.60" text-anchor="middle" font-size="8" font-family="Liberation Serif, serif" stroke="#222" stroke-width="0.18" fill="#111">W<tspan font-size="5" dy="1.5">i</tspan></text>
<text transform="translate(538.40,275.10) rotate(-90)" text-anchor="middle" font-size="8" font-family="Liberation Serif, serif" stroke="#222" stroke-width="0.18" fill="#111">O<tspan font-size="5" dy="1.5">i</tspan></text>
<polyline points="75.80,423.30 75.80,343.20 161.00,343.20 161.00,423.30 75.80,423.30" fill="none" stroke="#9c9c9c" stroke-width="1.1"/>
<line x1="46.20" y1="466.30" x2="46.20" y2="386.20" stroke="#a8a8a8" stroke-width="1"/>
<line x1="46.20" y1="466.30" x2="131.40" y2="466.30" stroke="#bdbdbd" stroke-width="1"/>
<line x1="46.20" y1="386.20" x2="75.80" y2="343.20" stroke="#4a4a4a" stroke-width="0.8"/>
<line x1="46.20" y1="466.30" x2="75.80" y2="423.30" stroke="#4a4a4a" stroke-width="0.8"/>
<line x1="131.40" y1="466.30" x2="161.00" y2="423.30" stroke="#4a4a4a" stroke-width="0.8"/>
<line x1="46.20" y1="466.30" x2="48.20" y2="466.30" stroke="#666" stroke-width="0.8"/>
<text x="37.80" y="469.30" text-anchor="end" font-size="7.5" font-family="Liberation Serif, serif" stroke="#222" stroke-width="0.18" fill="#111">0.00</text>
<line x1="46.20" y1="452.95" x2="48.20" y2="452.95" stroke="#666" stroke-width="0.8"/>
<text x="37.80" y="455.95" text-anchor="end" font-size="7.5" font-family="Liberation Serif, serif" stroke="#222" stroke-width="0.18" fill="#111">0.05</text>
<line x1="46.20" y1="439.60" x2="48.20" y2="439.60" stroke="#666" stroke-width="0.8"/>
<text x="37.80" y="442.60" text-anchor="end" font-size="7.5" font-family="Liberation Serif, serif" stroke="#222" stroke-width="0.18" fill="#111">0.10</text>
<line x1="46.20" y1="426.25" x2="48.20" y2="426.25" stroke="#666" stroke-width="0.8"/>
<text x="37.80" y="429.25" text-anchor="end" font-size="7.5" font-family="Liberation Serif, serif" stroke="#222" stroke-width="0.18" fill="#111">0.15</text>
<line x1="46.20" y1="412.90" x2="48.20" y2="412.90" stroke="#666" stroke-width="0.8"/>
<text x="37.80" y="415.90" text-anchor="end" font-size="7.5" font-family="Liberation Serif, serif" stroke="#222" stroke-width="0.18" fill="#111">0.20</text>
<line x1="46.20" y1="399.55" x2="48.20" y2="399.55" stroke="#666" stroke-width="0.8"/>
<text x="37.80" y="402.55" text-anchor="end" font-size="7.5" font-family="Liberation Serif, serif" stroke="#222" stroke-width="0.18" fill="#111">0.25</text>
<line x1="46.20" y1="386.20" x2="48.20" y2="386.20" stroke="#666" stroke-width="0.8"/>
<text x="37.80" y="389.20" text-anchor="end" font-size="7.5" font-family="Liberation Serif, serif" stroke="#222" stroke-width="0.18" fill="#111">0.30</text>
<line x1="63.24" y1="466.30" x2="63.24" y2="464.30" stroke="#888" stroke-width="0.8"/>
<line x1="80.28" y1="466.30" x2="80.28" y2="464.30" stroke="#888" stroke-width="0.8"/>
<line x1="97.32" y1="466.30" x2="97.32" y2="464.30" stroke="#888" stroke-width="0.8"/>
<line x1="114.36" y1="466.30" x2="114.36" y2="464.30" stroke="#888" stroke-width="0.8"/>
<text x="54.72" y="478.80" text-anchor="middle" font-size="7.5" font-family="Liberation Serif, serif" stroke="#222" stroke-width="0.18" fill="#111">0</text>
<text x="71.76" y="478.80" text-anchor="middle" font-size="7.5" font-family="Liberation Serif, serif" stroke="#222" stroke-width="0.18" fill="#111">0.25</text>
<text x="88.80" y="478.80" text-anchor="middle" font-size="7.5" font-family="Liberation Serif, serif" stroke="#222" stroke-width="0.18" fill="#111">0.5</text>
<text x="105.84" y="478.80" text-anchor="middle" font-size="7.5" font-family="Liberation Serif, serif" stroke="#222" stroke-width="0.18" fill="#111">0.75</text>
<text x="122.88" y="478.80" text-anchor="middle" font-size="7.5" font-family="Liberation Serif, serif" stroke="#222" stroke-width="0.18" fill="#111">1</text>
<line x1="137.32" y1="457.70" x2="135.32" y2="457.70" stroke="#666" stroke-width="0.8"/>
<line x1="143.24" y1="449.10" x2="141.24" y2="449.10" stroke="#666" stroke-width="0.8"/>
<line x1="149.16" y1="440.50" x2="147.16" y2="440.50" stroke="#666" stroke-width="0.8"/>
<line x1="155.08" y1="431.90" x2="153.08" y2="431.90" stroke="#666" stroke-width="0.8"/>
<text x="164.84" y="430.10" font-size="7.5" font-family="Liberation Serif, serif" stroke="#222" stroke-width="0.18" fill="#111">0</text>
<text x="158.92" y="438.70" font-size="7.5" font-family="Liberation Serif, serif" stroke="#222" stroke-width="0.18" fill="#111">0.25</text>
<text x="153.00" y="447.30" font-size="7.5" font-family="Liberation Serif, serif" stroke="#222" stroke-width="0.18" fill="#111">0.5</text>
<text x="147.08" y="455.90" font-size="7.5" font-family="Liberation Serif, serif" stroke="#222" stroke-width="0.18" fill="#111">0.75</text>
<text x="141.16" y="464.50" font-size="7.5" font-family="Liberation Serif, serif" stroke="#222" stroke-width="0.18" fill="#111">1</text>
<polygon points="83.58,429.32 85.95,425.88 85.95,425.88 83.58,429.32" fill="#686d85" stroke="#686d85" stroke-width="0.3"/>
<polygon points="76.77,429.32 83.58,429.32 83.58,429.32 76.77,429.32" fill="#b6c0ea" stroke="#b6c0ea" stroke-width="0.3"/>
<polygon points="76.77,429.32 83.58,429.32 85.95,425.88 79.14,425.88" fill="#7f86a4" stroke="#7f86a4" stroke-width="0.3"/>
<polygon points="100.62,429.32 102.99,425.88 102.99,425.88 100.62,429.32" fill="#686d85" stroke="#686d85" stroke-width="0.3"/>
<polygon points="93.81,429.32 100.62,429.32 100.62,429.32 93.81,429.32" fill="#b6c0ea" stroke="#b6c0ea" stroke-width="0.3"/>
<polygon points="93.81,429.32 100.62,429.32 102.99,425.88 96.18,425.88" fill="#7f86a4" stroke="#7f86a4" stroke-width="0.3"/>
<polygon points="117.66,429.32 120.03,425.88 120.03,425.88 117.66,429.32" fill="#686d85" stroke="#686d85" stroke-width="0.3"/>
<polygon points="110.85,429.32 117.66,429.32 117.66,429.32 110.85,429.32" fill="#b6c0ea" stroke="#b6c0ea" stroke-width="0.3"/>
<polygon points="110.85,429.32 117.66,429.32 120.03,425.88 113.22,425.88" fill="#7f86a4" stroke="#7f86a4" stroke-width="0.3"/>
<polygon points="134.70,429.32 137.07,425.88 137.07,425.88 134.70,429.32" fill="#686d85" stroke="#686d85" stroke-width="0.3"/>
<polygon points="127.89,429.32 134.70,429.32 134.70,429.32 127.89,429.32" fill="#b6c0ea" stroke="#b6c0ea" stroke-width="0.3"/>
<polygon points="127.89,429.32 134.70,429.32 137.07,425.88 130.26,425.88" fill="#7f86a4" stroke="#7f86a4" stroke-width="0.3"/>
<polygon points="151.74,429.32 154.11,425.88 154.11,425.88 151.74,429.32" fill="#686d85" stroke="#686d85" stroke-width="0.3"/>
<polygon points="144.93,429.32 151.74,429.32 151.74,429.32 144.93,429.32" fill="#b6c0ea" stroke="#b6c0ea" stroke-width="0.3"/>
<polygon points="144.93,429.32 151.74,429.32 154.11,425.88 147.30,425.88" fill="#7f86a4" stroke="#7f86a4" stroke-width="0.3"/>
<polygon points="77.66,437.92 80.03,434.48 80.03,432.88 77.66,436.32" fill="#585f80" stroke="#585f80" stroke-width="0.3"/>
<polygon points="70.85,437.92 77.66,437.92 77.66,436.32 70.85,436.32" fill="#9aa7e0" stroke="#9aa7e0" stroke-width="0.3"/>
<polygon points="70.85,436.32 77.66,436.32 80.03,432.88 73.22,432.88" fill="#6c759d" stroke="#6c759d" stroke-width="0.3"/>
<polygon points="94.70,437.92 97.07,434.48 97.07,431.28 94.70,434.72" fill="#585f80" stroke="#585f80" stroke-width="0.3"/>
<polygon points="87.89,437.92 94.70,437.92 94.70,434.72 87.89,434.72" fill="#9aa7e0" stroke="#9aa7e0" stroke-width="0.3"/>
<polygon points="87.89,434.72 94.70,434.72 97.07,431.28 90.26,431.28" fill="#6c759d" stroke="#6c759d" stroke-width="0.3"/>
<polygon points="111.74,437.92 114.11,434.48 114.11,419.26 111.74,422.70" fill="#585f80" stroke="#585f80" stroke-width="0.3"/>
<polygon points="104.93,437.92 111.74,437.92 111.74,422.70 104.93,422.70" fill="#9aa7e0" stroke="#9aa7e0" stroke-width="0.3"/>
<polygon points="104.93,422.70 111.74,422.70 114.11,419.26 107.30,419.26" fill="#6c759d" stroke="#6c759d" stroke-width="0.3"/>
<polygon points="128.78,437.92 131.15,434.48 131.15,420.06 128.78,423.50" fill="#585f80" stroke="#585f80" stroke-width="0.3"/>
<polygon points="121.97,437.92 128.78,437.92 128.78,423.50 121.97,423.50" fill="#9aa7e0" stroke="#9aa7e0" stroke-width="0.3"/>
<polygon points="121.97,423.50 128.78,423.50 131.15,420.06 124.34,420.06" fill="#6c759d" stroke="#6c759d" stroke-width="0.3"/>
<polygon points="145.82,437.92 148.19,434.48 148.19,426.20 145.82,429.64" fill="#585f80" stroke="#585f80" stroke-width="0.3"/>
<polygon points="139.01,437.92 145.82,437.92 145.82,429.64 139.01,429.64" fill="#9aa7e0" stroke="#9aa7e0" stroke-width="0.3"/>
<polygon points="139.01,429.64 145.82,429.64 148.19,426.20 141.38,426.20" fill="#6c759d" stroke="#6c759d" stroke-width="0.3"/>
<polygon points="71.74,446.52 74.11,443.08 74.11,441.48 71.74,444.92" fill="#274074" stroke="#274074" stroke-width="0.3"/>
<polygon points="64.93,446.52 71.74,446.52 71.74,444.92 64.93,444.92" fill="#4470cc" stroke="#4470cc" stroke-width="0.3"/>
<polygon points="64.93,444.92 71.74,444.92 74.11,441.48 67.30,441.48" fill="#304e8f" stroke="#304e8f" stroke-width="0.3"/>
<polygon points="88.78,446.52 91.15,443.08 91.15,423.06 88.78,426.50" fill="#274074" stroke="#274074" stroke-width="0.3"/>
<polygon points="81.97,446.52 88.78,446.52 88.78,426.50 81.97,426.50" fill="#4470cc" stroke="#4470cc" stroke-width="0.3"/>
<polygon points="81.97,426.50 88.78,426.50 91.15,423.06 84.34,423.06" fill="#304e8f" stroke="#304e8f" stroke-width="0.3"/>
<polygon points="105.82,446.52 108.19,443.08 108.19,431.33 105.82,434.77" fill="#274074" stroke="#274074" stroke-width="0.3"/>
<polygon points="99.01,446.52 105.82,446.52 105.82,434.77 99.01,434.77" fill="#4470cc" stroke="#4470cc" stroke-width="0.3"/>
<polygon points="99.01,434.77 105.82,434.77 108.19,431.33 101.38,431.33" fill="#304e8f" stroke="#304e8f" stroke-width="0.3"/>
<polygon points="122.86,446.52 125.23,443.08 125.23,431.33 122.86,434.77" fill="#274074" stroke="#274074" stroke-width="0.3"/>
<polygon points="116.05,446.52 122.86,446.52 122.86,434.77 116.05,434.77" fill="#4470cc" stroke="#4470cc" stroke-width="0.3"/>
<polygon points="116.05,434.77 122.86,434.77 125.23,431.33 118.42,431.33" fill="#304e8f" stroke="#304e8f" stroke-width="0.3"/>
<polygon points="139.90,446.52 142.27,443.08 142.27,439.88 139.90,443.32" fill="#274074" stroke="#274074" stroke-width="0.3"/>
<polygon points="133.09,446.52 139.90,446.52 139.90,443.32 133.09,443.32" fill="#4470cc" stroke="#4470cc" stroke-width="0.3"/>
<polygon points="133.09,443.32 139.90,443.32 142.27,439.88 135.46,439.88" fill="#304e8f" stroke="#304e8f" stroke-width="0.3"/>
<polygon points="65.82,455.12 68.19,451.68 68.19,450.08 65.82,453.52" fill="#1e3869" stroke="#1e3869" stroke-width="0.3"/>
<polygon points="59.01,455.12 65.82,455.12 65.82,453.52 59.01,453.52" fill="#3463b8" stroke="#3463b8" stroke-width="0.3"/>
<polygon points="59.01,453.52 65.82,453.52 68.19,450.08 61.38,450.08" fill="#244581" stroke="#244581" stroke-width="0.3"/>
<polygon points="82.86,455.12 85.23,451.68 85.23,403.89 82.86,407.33" fill="#1e3869" stroke="#1e3869" stroke-width="0.3"/>
<polygon points="76.05,455.12 82.86,455.12 82.86,407.33 76.05,407.33" fill="#3463b8" stroke="#3463b8" stroke-width="0.3"/>
<polygon points="76.05,407.33 82.86,407.33 85.23,403.89 78.42,403.89" fill="#244581" stroke="#244581" stroke-width="0.3"/>
<polygon points="99.90,455.12 102.27,451.68 102.27,381.19 99.90,384.63" fill="#1e3869" stroke="#1e3869" stroke-width="0.3"/>
<polygon points="93.09,455.12 99.90,455.12 99.90,384.63 93.09,384.63" fill="#3463b8" stroke="#3463b8" stroke-width="0.3"/>
<polygon points="93.09,384.63 99.90,384.63 102.27,381.19 95.46,381.19" fill="#244581" stroke="#244581" stroke-width="0.3"/>
<polygon points="116.94,455.12 119.31,451.68 119.31,417.77 116.94,421.21" fill="#1e3869" stroke="#1e3869" stroke-width="0.3"/>
<polygon points="110.13,455.12 116.94,455.12 116.94,421.21 110.13,421.21" fill="#3463b8" stroke="#3463b8" stroke-width="0.3"/>
<polygon points="110.13,421.21 116.94,421.21 119.31,417.77 112.50,417.77" fill="#244581" stroke="#244581" stroke-width="0.3"/>
<polygon points="133.98,455.12 136.35,451.68 136.35,432.72 133.98,436.16" fill="#1e3869" stroke="#1e3869" stroke-width="0.3"/>
<polygon points="127.17,455.12 133.98,455.12 133.98,436.16 127.17,436.16" fill="#3463b8" stroke="#3463b8" stroke-width="0.3"/>
<polygon points="127.17,436.16 133.98,436.16 136.35,432.72 129.54,432.72" fill="#244581" stroke="#244581" stroke-width="0.3"/>
<polygon points="59.90,463.72 62.27,460.28 62.27,460.28 59.90,463.72" fill="#182d5b" stroke="#182d5b" stroke-width="0.3"/>
<polygon points="53.09,463.72 59.90,463.72 59.90,463.72 53.09,463.72" fill="#2a4fa0" stroke="#2a4fa0" stroke-width="0.3"/>
<polygon points="53.09,463.72 59.90,463.72 62.27,460.28 55.46,460.28" fill="#1d3770" stroke="#1d3770" stroke-width="0.3"/>
<polygon points="76.94,463.72 79.31,460.28 79.31,460.28 76.94,463.72" fill="#182d5b" stroke="#182d5b" stroke-width="0.3"/>
<polygon points="70.13,463.72 76.94,463.72 76.94,463.72 70.13,463.72" fill="#2a4fa0" stroke="#2a4fa0" stroke-width="0.3"/>
<polygon points="70.13,463.72 76.94,463.72 79.31,460.28 72.50,460.28" fill="#1d3770" stroke="#1d3770" stroke-width="0.3"/>
<polygon points="93.98,463.72 96.35,460.28 96.35,460.28 93.98,463.72" fill="#182d5b" stroke="#182d5b" stroke-width="0.3"/>
<polygon points="87.17,463.72 93.98,463.72 93.98,463.72 87.17,463.72" fill="#2a4fa0" stroke="#2a4fa0" stroke-width="0.3"/>
<polygon points="87.17,463.72 93.98,463.72 96.35,460.28 89.54,460.28" fill="#1d3770" stroke="#1d3770" stroke-width="0.3"/>
<polygon points="111.02,463.72 113.39,460.28 113.39,460.28 111.02,463.72" fill="#182d5b" stroke="#182d5b" stroke-width="0.3"/>
<polygon points="104.21,463.72 111.02,463.72 111.02,463.72 104.21,463.72" fill="#2a4fa0" stroke="#2a4fa0" stroke-width="0.3"/>
<polygon points="104.21,463.72 111.02,463.72 113.39,460.28 106.58,460.28" fill="#1d3770" stroke="#1d3770" stroke-width="0.3"/>
<polygon points="128.06,463.72 130.43,460.28 130.43,460.28 128.06,463.72" fill="#182d5b" stroke="#182d5b" stroke-width="0.3"/>
<polygon points="121.25,463.72 128.06,463.72 128.06,463.72 121.25,463.72" fill="#2a4fa0" stroke="#2a4fa0" stroke-width="0.3"/>
<polygon points="121.25,463.72 128.06,463.72 130.43,460.28 123.62,460.28" fill="#1d3770" stroke="#1d3770" stroke-width="0.3"/>
<text x="39.80" y="355.30" font-size="9" font-family="Liberation Serif, serif" stroke="#111" stroke-width="0.2" fill="#111">(g)</text>
<text transform="translate(15.10,433.10) rotate(-90)" text-anchor="middle" font-size="8" font-family="Liberation Serif, serif" stroke="#222" stroke-width="0.18" fill="#111">Relative frequency</text>
<text x="86.90" y="493.00" text-anchor="middle" font-size="8" font-family="Liberation Serif, serif" stroke="#222" stroke-width="0.18" fill="#111">W<tspan font-size="5" dy="1.5">i</tspan></text>
<text transform="translate(169.70,453.30) rotate(-90)" text-anchor="middle" font-size="8" font-family="Liberation Serif, serif" stroke="#222" stroke-width="0.18" fill="#111">C<tspan font-size="5" dy="1.5">i</tspan></text>
<polyline points="262.50,424.70 262.50,343.60 347.50,343.60 347.50,424.70 262.50,424.70" fill="none" stroke="#9c9c9c" stroke-width="1.1"/>
<line x1="233.50" y1="467.00" x2="233.50" y2="385.90" stroke="#a8a8a8" stroke-width="1"/>
<line x1="233.50" y1="467.00" x2="318.50" y2="467.00" stroke="#bdbdbd" stroke-width="1"/>
<line x1="233.50" y1="385.90" x2="262.50" y2="343.60" stroke="#4a4a4a" stroke-width="0.8"/>
<line x1="233.50" y1="467.00" x2="262.50" y2="424.70" stroke="#4a4a4a" stroke-width="0.8"/>
<line x1="318.50" y1="467.00" x2="347.50" y2="424.70" stroke="#4a4a4a" stroke-width="0.8"/>
<line x1="233.50" y1="467.00" x2="235.50" y2="467.00" stroke="#666" stroke-width="0.8"/>
<text x="225.40" y="470.00" text-anchor="end" font-size="7.5" font-family="Liberation Serif, serif" stroke="#222" stroke-width="0.18" fill="#111">0.00</text>
<line x1="233.50" y1="446.73" x2="235.50" y2="446.73" stroke="#666" stroke-width="0.8"/>
<text x="225.40" y="449.73" text-anchor="end" font-size="7.5" font-family="Liberation Serif, serif" stroke="#222" stroke-width="0.18" fill="#111">0.05</text>
<line x1="233.50" y1="426.45" x2="235.50" y2="426.45" stroke="#666" stroke-width="0.8"/>
<text x="225.40" y="429.45" text-anchor="end" font-size="7.5" font-family="Liberation Serif, serif" stroke="#222" stroke-width="0.18" fill="#111">0.10</text>
<line x1="233.50" y1="406.18" x2="235.50" y2="406.18" stroke="#666" stroke-width="0.8"/>
<text x="225.40" y="409.18" text-anchor="end" font-size="7.5" font-family="Liberation Serif, serif" stroke="#222" stroke-width="0.18" fill="#111">0.15</text>
<line x1="233.50" y1="385.90" x2="235.50" y2="385.90" stroke="#666" stroke-width="0.8"/>
<text x="225.40" y="388.90" text-anchor="end" font-size="7.5" font-family="Liberation Serif, serif" stroke="#222" stroke-width="0.18" fill="#111">0.20</text>
<line x1="250.50" y1="467.00" x2="250.50" y2="465.00" stroke="#888" stroke-width="0.8"/>
<line x1="267.50" y1="467.00" x2="267.50" y2="465.00" stroke="#888" stroke-width="0.8"/>
<line x1="284.50" y1="467.00" x2="284.50" y2="465.00" stroke="#888" stroke-width="0.8"/>
<line x1="301.50" y1="467.00" x2="301.50" y2="465.00" stroke="#888" stroke-width="0.8"/>
<text x="242.00" y="479.50" text-anchor="middle" font-size="7.5" font-family="Liberation Serif, serif" stroke="#222" stroke-width="0.18" fill="#111">0</text>
<text x="259.00" y="479.50" text-anchor="middle" font-size="7.5" font-family="Liberation Serif, serif" stroke="#222" stroke-width="0.18" fill="#111">0.25</text>
<text x="276.00" y="479.50" text-anchor="middle" font-size="7.5" font-family="Liberation Serif, serif" stroke="#222" stroke-width="0.18" fill="#111">0.5</text>
<text x="293.00" y="479.50" text-anchor="middle" font-size="7.5" font-family="Liberation Serif, serif" stroke="#222" stroke-width="0.18" fill="#111">0.75</text>
<text x="310.00" y="479.50" text-anchor="middle" font-size="7.5" font-family="Liberation Serif, serif" stroke="#222" stroke-width="0.18" fill="#111">1</text>
<line x1="324.30" y1="458.54" x2="322.30" y2="458.54" stroke="#666" stroke-width="0.8"/>
<line x1="330.10" y1="450.08" x2="328.10" y2="450.08" stroke="#666" stroke-width="0.8"/>
<line x1="335.90" y1="441.62" x2="333.90" y2="441.62" stroke="#666" stroke-width="0.8"/>
<line x1="341.70" y1="433.16" x2="339.70" y2="433.16" stroke="#666" stroke-width="0.8"/>
<text x="351.40" y="431.43" font-size="7.5" font-family="Liberation Serif, serif" stroke="#222" stroke-width="0.18" fill="#111">0</text>
<text x="345.60" y="439.89" font-size="7.5" font-family="Liberation Serif, serif" stroke="#222" stroke-width="0.18" fill="#111">0.25</text>
<text x="339.80" y="448.35" font-size="7.5" font-family="Liberation Serif, serif" stroke="#222" stroke-width="0.18" fill="#111">0.5</text>
<text x="334.00" y="456.81" font-size="7.5" font-family="Liberation Serif, serif" stroke="#222" stroke-width="0.18" fill="#111">0.75</text>
<text x="328.20" y="465.27" font-size="7.5" font-family="Liberation Serif, serif" stroke="#222" stroke-width="0.18" fill="#111">1</text>
<polygon points="270.34,430.62 272.66,427.24 272.66,427.24 270.34,430.62" fill="#686d85" stroke="#686d85" stroke-width="0.3"/>
<polygon points="263.54,430.62 270.34,430.62 270.34,430.62 263.54,430.62" fill="#b6c0ea" stroke="#b6c0ea" stroke-width="0.3"/>
<polygon points="263.54,430.62 270.34,430.62 272.66,427.24 265.86,427.24" fill="#7f86a4" stroke="#7f86a4" stroke-width="0.3"/>
<polygon points="287.34,430.62 289.66,427.24 289.66,427.24 287.34,430.62" fill="#686d85" stroke="#686d85" stroke-width="0.3"/>
<polygon points="280.54,430.62 287.34,430.62 287.34,430.62 280.54,430.62" fill="#b6c0ea" stroke="#b6c0ea" stroke-width="0.3"/>
<polygon points="280.54,430.62 287.34,430.62 289.66,427.24 282.86,427.24" fill="#7f86a4" stroke="#7f86a4" stroke-width="0.3"/>
<polygon points="304.34,430.62 306.66,427.24 306.66,427.24 304.34,430.62" fill="#686d85" stroke="#686d85" stroke-width="0.3"/>
<polygon points="297.54,430.62 304.34,430.62 304.34,430.62 297.54,430.62" fill="#b6c0ea" stroke="#b6c0ea" stroke-width="0.3"/>
<polygon points="297.54,430.62 304.34,430.62 306.66,427.24 299.86,427.24" fill="#7f86a4" stroke="#7f86a4" stroke-width="0.3"/>
<polygon points="321.34,430.62 323.66,427.24 323.66,425.21 321.34,428.59" fill="#686d85" stroke="#686d85" stroke-width="0.3"/>
<polygon points="314.54,430.62 321.34,430.62 321.34,428.59 314.54,428.59" fill="#b6c0ea" stroke="#b6c0ea" stroke-width="0.3"/>
<polygon points="314.54,428.59 321.34,428.59 323.66,425.21 316.86,425.21" fill="#7f86a4" stroke="#7f86a4" stroke-width="0.3"/>
<polygon points="338.34,430.62 340.66,427.24 340.66,421.97 338.34,425.35" fill="#686d85" stroke="#686d85" stroke-width="0.3"/>
<polygon points="331.54,430.62 338.34,430.62 338.34,425.35 331.54,425.35" fill="#b6c0ea" stroke="#b6c0ea" stroke-width="0.3"/>
<polygon points="331.54,425.35 338.34,425.35 340.66,421.97 333.86,421.97" fill="#7f86a4" stroke="#7f86a4" stroke-width="0.3"/>
<polygon points="264.54,439.08 266.86,435.70 266.86,433.67 264.54,437.05" fill="#585f80" stroke="#585f80" stroke-width="0.3"/>
<polygon points="257.74,439.08 264.54,439.08 264.54,437.05 257.74,437.05" fill="#9aa7e0" stroke="#9aa7e0" stroke-width="0.3"/>
<polygon points="257.74,437.05 264.54,437.05 266.86,433.67 260.06,433.67" fill="#6c759d" stroke="#6c759d" stroke-width="0.3"/>
<polygon points="281.54,439.08 283.86,435.70 283.86,423.53 281.54,426.92" fill="#585f80" stroke="#585f80" stroke-width="0.3"/>
<polygon points="274.74,439.08 281.54,439.08 281.54,426.92 274.74,426.92" fill="#9aa7e0" stroke="#9aa7e0" stroke-width="0.3"/>
<polygon points="274.74,426.92 281.54,426.92 283.86,423.53 277.06,423.53" fill="#6c759d" stroke="#6c759d" stroke-width="0.3"/>
<polygon points="298.54,439.08 300.86,435.70 300.86,427.99 298.54,431.38" fill="#585f80" stroke="#585f80" stroke-width="0.3"/>
<polygon points="291.74,439.08 298.54,439.08 298.54,431.38 291.74,431.38" fill="#9aa7e0" stroke="#9aa7e0" stroke-width="0.3"/>
<polygon points="291.74,431.38 298.54,431.38 300.86,427.99 294.06,427.99" fill="#6c759d" stroke="#6c759d" stroke-width="0.3"/>
<polygon points="315.54,439.08 317.86,435.70 317.86,414.21 315.54,417.59" fill="#585f80" stroke="#585f80" stroke-width="0.3"/>
<polygon points="308.74,439.08 315.54,439.08 315.54,417.59 308.74,417.59" fill="#9aa7e0" stroke="#9aa7e0" stroke-width="0.3"/>
<polygon points="308.74,417.59 315.54,417.59 317.86,414.21 311.06,414.21" fill="#6c759d" stroke="#6c759d" stroke-width="0.3"/>
<polygon points="332.54,439.08 334.86,435.70 334.86,418.26 332.54,421.65" fill="#585f80" stroke="#585f80" stroke-width="0.3"/>
<polygon points="325.74,439.08 332.54,439.08 332.54,421.65 325.74,421.65" fill="#9aa7e0" stroke="#9aa7e0" stroke-width="0.3"/>
<polygon points="325.74,421.65 332.54,421.65 334.86,418.26 328.06,418.26" fill="#6c759d" stroke="#6c759d" stroke-width="0.3"/>
<polygon points="258.74,447.54 261.06,444.16 261.06,436.05 258.74,439.43" fill="#274074" stroke="#274074" stroke-width="0.3"/>
<polygon points="251.94,447.54 258.74,447.54 258.74,439.43 251.94,439.43" fill="#4470cc" stroke="#4470cc" stroke-width="0.3"/>
<polygon points="251.94,439.43 258.74,439.43 261.06,436.05 254.26,436.05" fill="#304e8f" stroke="#304e8f" stroke-width="0.3"/>
<polygon points="275.74,447.54 278.06,444.16 278.06,418.21 275.74,421.59" fill="#274074" stroke="#274074" stroke-width="0.3"/>
<polygon points="268.94,447.54 275.74,447.54 275.74,421.59 268.94,421.59" fill="#4470cc" stroke="#4470cc" stroke-width="0.3"/>
<polygon points="268.94,421.59 275.74,421.59 278.06,418.21 271.26,418.21" fill="#304e8f" stroke="#304e8f" stroke-width="0.3"/>
<polygon points="292.74,447.54 295.06,444.16 295.06,436.05 292.74,439.43" fill="#274074" stroke="#274074" stroke-width="0.3"/>
<polygon points="285.94,447.54 292.74,447.54 292.74,439.43 285.94,439.43" fill="#4470cc" stroke="#4470cc" stroke-width="0.3"/>
<polygon points="285.94,439.43 292.74,439.43 295.06,436.05 288.26,436.05" fill="#304e8f" stroke="#304e8f" stroke-width="0.3"/>
<polygon points="309.74,447.54 312.06,444.16 312.06,440.10 309.74,443.49" fill="#274074" stroke="#274074" stroke-width="0.3"/>
<polygon points="302.94,447.54 309.74,447.54 309.74,443.49 302.94,443.49" fill="#4470cc" stroke="#4470cc" stroke-width="0.3"/>
<polygon points="302.94,443.49 309.74,443.49 312.06,440.10 305.26,440.10" fill="#304e8f" stroke="#304e8f" stroke-width="0.3"/>
<polygon points="326.74,447.54 329.06,444.16 329.06,422.26 326.74,425.65" fill="#274074" stroke="#274074" stroke-width="0.3"/>
<polygon points="319.94,447.54 326.74,447.54 326.74,425.65 319.94,425.65" fill="#4470cc" stroke="#4470cc" stroke-width="0.3"/>
<polygon points="319.94,425.65 326.74,425.65 329.06,422.26 322.26,422.26" fill="#304e8f" stroke="#304e8f" stroke-width="0.3"/>
<polygon points="252.94,456.00 255.26,452.62 255.26,387.74 252.94,391.12" fill="#1e3869" stroke="#1e3869" stroke-width="0.3"/>
<polygon points="246.14,456.00 252.94,456.00 252.94,391.12 246.14,391.12" fill="#3463b8" stroke="#3463b8" stroke-width="0.3"/>
<polygon points="246.14,391.12 252.94,391.12 255.26,387.74 248.46,387.74" fill="#244581" stroke="#244581" stroke-width="0.3"/>
<polygon points="269.94,456.00 272.26,452.62 272.26,405.17 269.94,408.56" fill="#1e3869" stroke="#1e3869" stroke-width="0.3"/>
<polygon points="263.14,456.00 269.94,456.00 269.94,408.56 263.14,408.56" fill="#3463b8" stroke="#3463b8" stroke-width="0.3"/>
<polygon points="263.14,408.56 269.94,408.56 272.26,405.17 265.46,405.17" fill="#244581" stroke="#244581" stroke-width="0.3"/>
<polygon points="286.94,456.00 289.26,452.62 289.26,397.06 286.94,400.45" fill="#1e3869" stroke="#1e3869" stroke-width="0.3"/>
<polygon points="280.14,456.00 286.94,456.00 286.94,400.45 280.14,400.45" fill="#3463b8" stroke="#3463b8" stroke-width="0.3"/>
<polygon points="280.14,400.45 286.94,400.45 289.26,397.06 282.46,397.06" fill="#244581" stroke="#244581" stroke-width="0.3"/>
<polygon points="303.94,456.00 306.26,452.62 306.26,397.06 303.94,400.45" fill="#1e3869" stroke="#1e3869" stroke-width="0.3"/>
<polygon points="297.14,456.00 303.94,456.00 303.94,400.45 297.14,400.45" fill="#3463b8" stroke="#3463b8" stroke-width="0.3"/>
<polygon points="297.14,400.45 303.94,400.45 306.26,397.06 299.46,397.06" fill="#244581" stroke="#244581" stroke-width="0.3"/>
<polygon points="320.94,456.00 323.26,452.62 323.26,414.10 320.94,417.48" fill="#1e3869" stroke="#1e3869" stroke-width="0.3"/>
<polygon points="314.14,456.00 320.94,456.00 320.94,417.48 314.14,417.48" fill="#3463b8" stroke="#3463b8" stroke-width="0.3"/>
<polygon points="314.14,417.48 320.94,417.48 323.26,414.10 316.46,414.10" fill="#244581" stroke="#244581" stroke-width="0.3"/>
<polygon points="247.14,464.46 249.46,461.08 249.46,461.08 247.14,464.46" fill="#182d5b" stroke="#182d5b" stroke-width="0.3"/>
<polygon points="240.34,464.46 247.14,464.46 247.14,464.46 240.34,464.46" fill="#2a4fa0" stroke="#2a4fa0" stroke-width="0.3"/>
<polygon points="240.34,464.46 247.14,464.46 249.46,461.08 242.66,461.08" fill="#1d3770" stroke="#1d3770" stroke-width="0.3"/>
<polygon points="264.14,464.46 266.46,461.08 266.46,461.08 264.14,464.46" fill="#182d5b" stroke="#182d5b" stroke-width="0.3"/>
<polygon points="257.34,464.46 264.14,464.46 264.14,464.46 257.34,464.46" fill="#2a4fa0" stroke="#2a4fa0" stroke-width="0.3"/>
<polygon points="257.34,464.46 264.14,464.46 266.46,461.08 259.66,461.08" fill="#1d3770" stroke="#1d3770" stroke-width="0.3"/>
<polygon points="281.14,464.46 283.46,461.08 283.46,461.08 281.14,464.46" fill="#182d5b" stroke="#182d5b" stroke-width="0.3"/>
<polygon points="274.34,464.46 281.14,464.46 281.14,464.46 274.34,464.46" fill="#2a4fa0" stroke="#2a4fa0" stroke-width="0.3"/>
<polygon points="274.34,464.46 281.14,464.46 283.46,461.08 276.66,461.08" fill="#1d3770" stroke="#1d3770" stroke-width="0.3"/>
<polygon points="298.14,464.46 300.46,461.08 300.46,461.08 298.14,464.46" fill="#182d5b" stroke="#182d5b" stroke-width="0.3"/>
<polygon points="291.34,464.46 298.14,464.46 298.14,464.46 291.34,464.46" fill="#2a4fa0" stroke="#2a4fa0" stroke-width="0.3"/>
<polygon points="291.34,464.46 298.14,464.46 300.46,461.08 293.66,461.08" fill="#1d3770" stroke="#1d3770" stroke-width="0.3"/>
<polygon points="315.14,464.46 317.46,461.08 317.46,461.08 315.14,464.46" fill="#182d5b" stroke="#182d5b" stroke-width="0.3"/>
<polygon points="308.34,464.46 315.14,464.46 315.14,464.46 308.34,464.46" fill="#2a4fa0" stroke="#2a4fa0" stroke-width="0.3"/>
<polygon points="308.34,464.46 315.14,464.46 317.46,461.08 310.66,461.08" fill="#1d3770" stroke="#1d3770" stroke-width="0.3"/>
<text x="233.80" y="358.50" font-size="9" font-family="Liberation Serif, serif" stroke="#111" stroke-width="0.2" fill="#111">(h)</text>
<text transform="translate(202.00,427.60) rotate(-90)" text-anchor="middle" font-size="8" font-family="Liberation Serif, serif" stroke="#222" stroke-width="0.18" fill="#111">Relative frequency</text>
<text x="278.90" y="492.10" text-anchor="middle" font-size="8" font-family="Liberation Serif, serif" stroke="#222" stroke-width="0.18" fill="#111">Ui</text>
<text transform="translate(356.60,457.30) rotate(-90)" text-anchor="middle" font-size="8" font-family="Liberation Serif, serif" stroke="#222" stroke-width="0.18" fill="#111">Ci</text>
<polyline points="442.50,425.50 442.50,345.10 530.50,345.10 530.50,425.50 442.50,425.50" fill="none" stroke="#9c9c9c" stroke-width="1.1"/>
<line x1="412.30" y1="469.80" x2="412.30" y2="389.40" stroke="#a8a8a8" stroke-width="1"/>
<line x1="412.30" y1="469.80" x2="500.30" y2="469.80" stroke="#bdbdbd" stroke-width="1"/>
<line x1="412.30" y1="389.40" x2="442.50" y2="345.10" stroke="#4a4a4a" stroke-width="0.8"/>
<line x1="412.30" y1="469.80" x2="442.50" y2="425.50" stroke="#4a4a4a" stroke-width="0.8"/>
<line x1="500.30" y1="469.80" x2="530.50" y2="425.50" stroke="#4a4a4a" stroke-width="0.8"/>
<line x1="412.30" y1="469.80" x2="414.30" y2="469.80" stroke="#666" stroke-width="0.8"/>
<text x="404.60" y="472.80" text-anchor="end" font-size="7.5" font-family="Liberation Serif, serif" stroke="#222" stroke-width="0.18" fill="#111">0.00</text>
<line x1="412.30" y1="458.31" x2="414.30" y2="458.31" stroke="#666" stroke-width="0.8"/>
<text x="404.60" y="461.31" text-anchor="end" font-size="7.5" font-family="Liberation Serif, serif" stroke="#222" stroke-width="0.18" fill="#111">0.02</text>
<line x1="412.30" y1="446.83" x2="414.30" y2="446.83" stroke="#666" stroke-width="0.8"/>
<text x="404.60" y="449.83" text-anchor="end" font-size="7.5" font-family="Liberation Serif, serif" stroke="#222" stroke-width="0.18" fill="#111">0.04</text>
<line x1="412.30" y1="435.34" x2="414.30" y2="435.34" stroke="#666" stroke-width="0.8"/>
<text x="404.60" y="438.34" text-anchor="end" font-size="7.5" font-family="Liberation Serif, serif" stroke="#222" stroke-width="0.18" fill="#111">0.06</text>
<line x1="412.30" y1="423.86" x2="414.30" y2="423.86" stroke="#666" stroke-width="0.8"/>
<text x="404.60" y="426.86" text-anchor="end" font-size="7.5" font-family="Liberation Serif, serif" stroke="#222" stroke-width="0.18" fill="#111">0.08</text>
<line x1="412.30" y1="412.37" x2="414.30" y2="412.37" stroke="#666" stroke-width="0.8"/>
<text x="404.60" y="415.37" text-anchor="end" font-size="7.5" font-family="Liberation Serif, serif" stroke="#222" stroke-width="0.18" fill="#111">0.10</text>
<line x1="412.30" y1="400.89" x2="414.30" y2="400.89" stroke="#666" stroke-width="0.8"/>
<text x="404.60" y="403.89" text-anchor="end" font-size="7.5" font-family="Liberation Serif, serif" stroke="#222" stroke-width="0.18" fill="#111">0.12</text>
<line x1="412.30" y1="389.40" x2="414.30" y2="389.40" stroke="#666" stroke-width="0.8"/>
<text x="404.60" y="392.40" text-anchor="end" font-size="7.5" font-family="Liberation Serif, serif" stroke="#222" stroke-width="0.18" fill="#111">0.14</text>
<line x1="429.90" y1="469.80" x2="429.90" y2="467.80" stroke="#888" stroke-width="0.8"/>
<line x1="447.50" y1="469.80" x2="447.50" y2="467.80" stroke="#888" stroke-width="0.8"/>
<line x1="465.10" y1="469.80" x2="465.10" y2="467.80" stroke="#888" stroke-width="0.8"/>
<line x1="482.70" y1="469.80" x2="482.70" y2="467.80" stroke="#888" stroke-width="0.8"/>
<text x="421.10" y="482.30" text-anchor="middle" font-size="7.5" font-family="Liberation Serif, serif" stroke="#222" stroke-width="0.18" fill="#111">0</text>
<text x="438.70" y="482.30" text-anchor="middle" font-size="7.5" font-family="Liberation Serif, serif" stroke="#222" stroke-width="0.18" fill="#111">0.25</text>
<text x="456.30" y="482.30" text-anchor="middle" font-size="7.5" font-family="Liberation Serif, serif" stroke="#222" stroke-width="0.18" fill="#111">0.5</text>
<text x="473.90" y="482.30" text-anchor="middle" font-size="7.5" font-family="Liberation Serif, serif" stroke="#222" stroke-width="0.18" fill="#111">0.75</text>
<text x="491.50" y="482.30" text-anchor="middle" font-size="7.5" font-family="Liberation Serif, serif" stroke="#222" stroke-width="0.18" fill="#111">1</text>
<line x1="506.34" y1="460.94" x2="504.34" y2="460.94" stroke="#666" stroke-width="0.8"/>
<line x1="512.38" y1="452.08" x2="510.38" y2="452.08" stroke="#666" stroke-width="0.8"/>
<line x1="518.42" y1="443.22" x2="516.42" y2="443.22" stroke="#666" stroke-width="0.8"/>
<line x1="524.46" y1="434.36" x2="522.46" y2="434.36" stroke="#666" stroke-width="0.8"/>
<text x="534.28" y="432.43" font-size="7.5" font-family="Liberation Serif, serif" stroke="#222" stroke-width="0.18" fill="#111">0</text>
<text x="528.24" y="441.29" font-size="7.5" font-family="Liberation Serif, serif" stroke="#222" stroke-width="0.18" fill="#111">0.25</text>
<text x="522.20" y="450.15" font-size="7.5" font-family="Liberation Serif, serif" stroke="#222" stroke-width="0.18" fill="#111">0.5</text>
<text x="516.16" y="459.01" font-size="7.5" font-family="Liberation Serif, serif" stroke="#222" stroke-width="0.18" fill="#111">0.75</text>
<text x="510.12" y="467.87" font-size="7.5" font-family="Liberation Serif, serif" stroke="#222" stroke-width="0.18" fill="#111">1</text>
<polygon points="450.59,431.70 453.01,428.16 453.01,409.78 450.59,413.32" fill="#686d85" stroke="#686d85" stroke-width="0.3"/>
<polygon points="443.55,431.70 450.59,431.70 450.59,413.32 443.55,413.32" fill="#b6c0ea" stroke="#b6c0ea" stroke-width="0.3"/>
<polygon points="443.55,413.32 450.59,413.32 453.01,409.78 445.97,409.78" fill="#7f86a4" stroke="#7f86a4" stroke-width="0.3"/>
<polygon points="468.19,431.70 470.61,428.16 470.61,409.78 468.19,413.32" fill="#686d85" stroke="#686d85" stroke-width="0.3"/>
<polygon points="461.15,431.70 468.19,431.70 468.19,413.32 461.15,413.32" fill="#b6c0ea" stroke="#b6c0ea" stroke-width="0.3"/>
<polygon points="461.15,413.32 468.19,413.32 470.61,409.78 463.57,409.78" fill="#7f86a4" stroke="#7f86a4" stroke-width="0.3"/>
<polygon points="485.79,431.70 488.21,428.16 488.21,409.78 485.79,413.32" fill="#686d85" stroke="#686d85" stroke-width="0.3"/>
<polygon points="478.75,431.70 485.79,431.70 485.79,413.32 478.75,413.32" fill="#b6c0ea" stroke="#b6c0ea" stroke-width="0.3"/>
<polygon points="478.75,413.32 485.79,413.32 488.21,409.78 481.17,409.78" fill="#7f86a4" stroke="#7f86a4" stroke-width="0.3"/>
<polygon points="503.39,431.70 505.81,428.16 505.81,414.95 503.39,418.49" fill="#686d85" stroke="#686d85" stroke-width="0.3"/>
<polygon points="496.35,431.70 503.39,431.70 503.39,418.49 496.35,418.49" fill="#b6c0ea" stroke="#b6c0ea" stroke-width="0.3"/>
<polygon points="496.35,418.49 503.39,418.49 505.81,414.95 498.77,414.95" fill="#7f86a4" stroke="#7f86a4" stroke-width="0.3"/>
<polygon points="520.99,431.70 523.41,428.16 523.41,402.89 520.99,406.43" fill="#686d85" stroke="#686d85" stroke-width="0.3"/>
<polygon points="513.95,431.70 520.99,431.70 520.99,406.43 513.95,406.43" fill="#b6c0ea" stroke="#b6c0ea" stroke-width="0.3"/>
<polygon points="513.95,406.43 520.99,406.43 523.41,402.89 516.37,402.89" fill="#7f86a4" stroke="#7f86a4" stroke-width="0.3"/>
<polygon points="444.55,440.56 446.97,437.02 446.97,406.01 444.55,409.55" fill="#585f80" stroke="#585f80" stroke-width="0.3"/>
<polygon points="437.51,440.56 444.55,440.56 444.55,409.55 437.51,409.55" fill="#9aa7e0" stroke="#9aa7e0" stroke-width="0.3"/>
<polygon points="437.51,409.55 444.55,409.55 446.97,406.01 439.93,406.01" fill="#6c759d" stroke="#6c759d" stroke-width="0.3"/>
<polygon points="462.15,440.56 464.57,437.02 464.57,400.84 462.15,404.38" fill="#585f80" stroke="#585f80" stroke-width="0.3"/>
<polygon points="455.11,440.56 462.15,440.56 462.15,404.38 455.11,404.38" fill="#9aa7e0" stroke="#9aa7e0" stroke-width="0.3"/>
<polygon points="455.11,404.38 462.15,404.38 464.57,400.84 457.53,400.84" fill="#6c759d" stroke="#6c759d" stroke-width="0.3"/>
<polygon points="479.75,440.56 482.17,437.02 482.17,417.49 479.75,421.04" fill="#585f80" stroke="#585f80" stroke-width="0.3"/>
<polygon points="472.71,440.56 479.75,440.56 479.75,421.04 472.71,421.04" fill="#9aa7e0" stroke="#9aa7e0" stroke-width="0.3"/>
<polygon points="472.71,421.04 479.75,421.04 482.17,417.49 475.13,417.49" fill="#6c759d" stroke="#6c759d" stroke-width="0.3"/>
<polygon points="497.35,440.56 499.77,437.02 499.77,407.16 497.35,410.70" fill="#585f80" stroke="#585f80" stroke-width="0.3"/>
<polygon points="490.31,440.56 497.35,440.56 497.35,410.70 490.31,410.70" fill="#9aa7e0" stroke="#9aa7e0" stroke-width="0.3"/>
<polygon points="490.31,410.70 497.35,410.70 499.77,407.16 492.73,407.16" fill="#6c759d" stroke="#6c759d" stroke-width="0.3"/>
<polygon points="514.95,440.56 517.37,437.02 517.37,406.01 514.95,409.55" fill="#585f80" stroke="#585f80" stroke-width="0.3"/>
<polygon points="507.91,440.56 514.95,440.56 514.95,409.55 507.91,409.55" fill="#9aa7e0" stroke="#9aa7e0" stroke-width="0.3"/>
<polygon points="507.91,409.55 514.95,409.55 517.37,406.01 510.33,406.01" fill="#6c759d" stroke="#6c759d" stroke-width="0.3"/>
<polygon points="438.51,449.42 440.93,445.88 440.93,409.12 438.51,412.67" fill="#274074" stroke="#274074" stroke-width="0.3"/>
<polygon points="431.47,449.42 438.51,449.42 438.51,412.67 431.47,412.67" fill="#4470cc" stroke="#4470cc" stroke-width="0.3"/>
<polygon points="431.47,412.67 438.51,412.67 440.93,409.12 433.89,409.12" fill="#304e8f" stroke="#304e8f" stroke-width="0.3"/>
<polygon points="456.11,449.42 458.53,445.88 458.53,421.76 456.11,425.30" fill="#274074" stroke="#274074" stroke-width="0.3"/>
<polygon points="449.07,449.42 456.11,449.42 456.11,425.30 449.07,425.30" fill="#4470cc" stroke="#4470cc" stroke-width="0.3"/>
<polygon points="449.07,425.30 456.11,425.30 458.53,421.76 451.49,421.76" fill="#304e8f" stroke="#304e8f" stroke-width="0.3"/>
<polygon points="473.71,449.42 476.13,445.88 476.13,409.12 473.71,412.67" fill="#274074" stroke="#274074" stroke-width="0.3"/>
<polygon points="466.67,449.42 473.71,449.42 473.71,412.67 466.67,412.67" fill="#4470cc" stroke="#4470cc" stroke-width="0.3"/>
<polygon points="466.67,412.67 473.71,412.67 476.13,409.12 469.09,409.12" fill="#304e8f" stroke="#304e8f" stroke-width="0.3"/>
<polygon points="491.31,449.42 493.73,445.88 493.73,402.81 491.31,406.35" fill="#274074" stroke="#274074" stroke-width="0.3"/>
<polygon points="484.27,449.42 491.31,449.42 491.31,406.35 484.27,406.35" fill="#4470cc" stroke="#4470cc" stroke-width="0.3"/>
<polygon points="484.27,406.35 491.31,406.35 493.73,402.81 486.69,402.81" fill="#304e8f" stroke="#304e8f" stroke-width="0.3"/>
<polygon points="508.91,449.42 511.33,445.88 511.33,409.12 508.91,412.67" fill="#274074" stroke="#274074" stroke-width="0.3"/>
<polygon points="501.87,449.42 508.91,449.42 508.91,412.67 501.87,412.67" fill="#4470cc" stroke="#4470cc" stroke-width="0.3"/>
<polygon points="501.87,412.67 508.91,412.67 511.33,409.12 504.29,409.12" fill="#304e8f" stroke="#304e8f" stroke-width="0.3"/>
<polygon points="432.47,458.28 434.89,454.74 434.89,425.45 432.47,428.99" fill="#1e3869" stroke="#1e3869" stroke-width="0.3"/>
<polygon points="425.43,458.28 432.47,458.28 432.47,428.99 425.43,428.99" fill="#3463b8" stroke="#3463b8" stroke-width="0.3"/>
<polygon points="425.43,428.99 432.47,428.99 434.89,425.45 427.85,425.45" fill="#244581" stroke="#244581" stroke-width="0.3"/>
<polygon points="450.07,458.28 452.49,454.74 452.49,400.18 450.07,403.72" fill="#1e3869" stroke="#1e3869" stroke-width="0.3"/>
<polygon points="443.03,458.28 450.07,458.28 450.07,403.72 443.03,403.72" fill="#3463b8" stroke="#3463b8" stroke-width="0.3"/>
<polygon points="443.03,403.72 450.07,403.72 452.49,400.18 445.45,400.18" fill="#244581" stroke="#244581" stroke-width="0.3"/>
<polygon points="467.67,458.28 470.09,454.74 470.09,425.45 467.67,428.99" fill="#1e3869" stroke="#1e3869" stroke-width="0.3"/>
<polygon points="460.63,458.28 467.67,458.28 467.67,428.99 460.63,428.99" fill="#3463b8" stroke="#3463b8" stroke-width="0.3"/>
<polygon points="460.63,428.99 467.67,428.99 470.09,425.45 463.05,425.45" fill="#244581" stroke="#244581" stroke-width="0.3"/>
<polygon points="485.27,458.28 487.69,454.74 487.69,430.62 485.27,434.16" fill="#1e3869" stroke="#1e3869" stroke-width="0.3"/>
<polygon points="478.23,458.28 485.27,458.28 485.27,434.16 478.23,434.16" fill="#3463b8" stroke="#3463b8" stroke-width="0.3"/>
<polygon points="478.23,434.16 485.27,434.16 487.69,430.62 480.65,430.62" fill="#244581" stroke="#244581" stroke-width="0.3"/>
<polygon points="502.87,458.28 505.29,454.74 505.29,436.36 502.87,439.90" fill="#1e3869" stroke="#1e3869" stroke-width="0.3"/>
<polygon points="495.83,458.28 502.87,458.28 502.87,439.90 495.83,439.90" fill="#3463b8" stroke="#3463b8" stroke-width="0.3"/>
<polygon points="495.83,439.90 502.87,439.90 505.29,436.36 498.25,436.36" fill="#244581" stroke="#244581" stroke-width="0.3"/>
<polygon points="426.43,467.14 428.85,463.60 428.85,452.69 426.43,456.23" fill="#182d5b" stroke="#182d5b" stroke-width="0.3"/>
<polygon points="419.39,467.14 426.43,467.14 426.43,456.23 419.39,456.23" fill="#2a4fa0" stroke="#2a4fa0" stroke-width="0.3"/>
<polygon points="419.39,456.23 426.43,456.23 428.85,452.69 421.81,452.69" fill="#1d3770" stroke="#1d3770" stroke-width="0.3"/>
<polygon points="444.03,467.14 446.45,463.60 446.45,457.86 444.03,461.40" fill="#182d5b" stroke="#182d5b" stroke-width="0.3"/>
<polygon points="436.99,467.14 444.03,467.14 444.03,461.40 436.99,461.40" fill="#2a4fa0" stroke="#2a4fa0" stroke-width="0.3"/>
<polygon points="436.99,461.40 444.03,461.40 446.45,457.86 439.41,457.86" fill="#1d3770" stroke="#1d3770" stroke-width="0.3"/>
<polygon points="461.63,467.14 464.05,463.60 464.05,463.60 461.63,467.14" fill="#182d5b" stroke="#182d5b" stroke-width="0.3"/>
<polygon points="454.59,467.14 461.63,467.14 461.63,467.14 454.59,467.14" fill="#2a4fa0" stroke="#2a4fa0" stroke-width="0.3"/>
<polygon points="454.59,467.14 461.63,467.14 464.05,463.60 457.01,463.60" fill="#1d3770" stroke="#1d3770" stroke-width="0.3"/>
<polygon points="479.23,467.14 481.65,463.60 481.65,452.69 479.23,456.23" fill="#182d5b" stroke="#182d5b" stroke-width="0.3"/>
<polygon points="472.19,467.14 479.23,467.14 479.23,456.23 472.19,456.23" fill="#2a4fa0" stroke="#2a4fa0" stroke-width="0.3"/>
<polygon points="472.19,456.23 479.23,456.23 481.65,452.69 474.61,452.69" fill="#1d3770" stroke="#1d3770" stroke-width="0.3"/>
<polygon points="496.83,467.14 499.25,463.60 499.25,457.86 496.83,461.40" fill="#182d5b" stroke="#182d5b" stroke-width="0.3"/>
<polygon points="489.79,467.14 496.83,467.14 496.83,461.40 489.79,461.40" fill="#2a4fa0" stroke="#2a4fa0" stroke-width="0.3"/>
<polygon points="489.79,461.40 496.83,461.40 499.25,457.86 492.21,457.86" fill="#1d3770" stroke="#1d3770" stroke-width="0.3"/>
<text x="417.70" y="357.50" font-size="9" font-family="Liberation Serif, serif" stroke="#111" stroke-width="0.2" fill="#111">(i)</text>
<text transform="translate(384.70,430.50) rotate(-90)" text-anchor="middle" font-size="8" font-family="Liberation Serif, serif" stroke="#222" stroke-width="0.18" fill="#111">Relative frequency</text>
<text x="459.10" y="492.30" text-anchor="middle" font-size="8" font-family="Liberation Serif, serif" stroke="#222" stroke-width="0.18" fill="#111">U<tspan font-size="5" dy="1.5">i</tspan></text>
<text transform="translate(542.70,457.80) rotate(-90)" text-anchor="middle" font-size="8" font-family="Liberation Serif, serif" stroke="#222" stroke-width="0.18" fill="#111">O<tspan font-size="5" dy="1.5">i</tspan></text>
<polyline points="79.70,580.00 79.70,502.00 150.00,502.00 150.00,580.00 79.70,580.00" fill="none" stroke="#9c9c9c" stroke-width="1.1"/>
<line x1="46.40" y1="628.80" x2="46.40" y2="550.80" stroke="#a8a8a8" stroke-width="1"/>
<line x1="46.40" y1="628.80" x2="116.70" y2="628.80" stroke="#bdbdbd" stroke-width="1"/>
<line x1="46.40" y1="550.80" x2="79.70" y2="502.00" stroke="#4a4a4a" stroke-width="0.8"/>
<line x1="46.40" y1="628.80" x2="79.70" y2="580.00" stroke="#4a4a4a" stroke-width="0.8"/>
<line x1="116.70" y1="628.80" x2="150.00" y2="580.00" stroke="#4a4a4a" stroke-width="0.8"/>
<line x1="46.40" y1="628.80" x2="48.40" y2="628.80" stroke="#666" stroke-width="0.8"/>
<text x="37.50" y="631.80" text-anchor="end" font-size="7.5" font-family="Liberation Serif, serif" stroke="#222" stroke-width="0.18" fill="#111">0.00</text>
<line x1="46.40" y1="613.20" x2="48.40" y2="613.20" stroke="#666" stroke-width="0.8"/>
<text x="37.50" y="616.20" text-anchor="end" font-size="7.5" font-family="Liberation Serif, serif" stroke="#222" stroke-width="0.18" fill="#111">0.03</text>
<line x1="46.40" y1="597.60" x2="48.40" y2="597.60" stroke="#666" stroke-width="0.8"/>
<text x="37.50" y="600.60" text-anchor="end" font-size="7.5" font-family="Liberation Serif, serif" stroke="#222" stroke-width="0.18" fill="#111">0.06</text>
<line x1="46.40" y1="582.00" x2="48.40" y2="582.00" stroke="#666" stroke-width="0.8"/>
<text x="37.50" y="585.00" text-anchor="end" font-size="7.5" font-family="Liberation Serif, serif" stroke="#222" stroke-width="0.18" fill="#111">0.09</text>
<line x1="46.40" y1="566.40" x2="48.40" y2="566.40" stroke="#666" stroke-width="0.8"/>
<text x="37.50" y="569.40" text-anchor="end" font-size="7.5" font-family="Liberation Serif, serif" stroke="#222" stroke-width="0.18" fill="#111">0.12</text>
<line x1="46.40" y1="550.80" x2="48.40" y2="550.80" stroke="#666" stroke-width="0.8"/>
<text x="37.50" y="553.80" text-anchor="end" font-size="7.5" font-family="Liberation Serif, serif" stroke="#222" stroke-width="0.18" fill="#111">0.15</text>
<line x1="60.46" y1="628.80" x2="60.46" y2="626.80" stroke="#888" stroke-width="0.8"/>
<line x1="74.52" y1="628.80" x2="74.52" y2="626.80" stroke="#888" stroke-width="0.8"/>
<line x1="88.58" y1="628.80" x2="88.58" y2="626.80" stroke="#888" stroke-width="0.8"/>
<line x1="102.64" y1="628.80" x2="102.64" y2="626.80" stroke="#888" stroke-width="0.8"/>
<text x="53.43" y="641.30" text-anchor="middle" font-size="7.5" font-family="Liberation Serif, serif" stroke="#222" stroke-width="0.18" fill="#111">0</text>
<text x="67.49" y="641.30" text-anchor="middle" font-size="7.5" font-family="Liberation Serif, serif" stroke="#222" stroke-width="0.18" fill="#111">0.25</text>
<text x="81.55" y="641.30" text-anchor="middle" font-size="7.5" font-family="Liberation Serif, serif" stroke="#222" stroke-width="0.18" fill="#111">0.5</text>
<text x="95.61" y="641.30" text-anchor="middle" font-size="7.5" font-family="Liberation Serif, serif" stroke="#222" stroke-width="0.18" fill="#111">0.75</text>
<text x="109.67" y="641.30" text-anchor="middle" font-size="7.5" font-family="Liberation Serif, serif" stroke="#222" stroke-width="0.18" fill="#111">1</text>
<line x1="121.46" y1="621.83" x2="119.46" y2="621.83" stroke="#666" stroke-width="0.8"/>
<line x1="126.21" y1="614.86" x2="124.21" y2="614.86" stroke="#666" stroke-width="0.8"/>
<line x1="130.97" y1="607.89" x2="128.97" y2="607.89" stroke="#666" stroke-width="0.8"/>
<line x1="135.73" y1="600.91" x2="133.73" y2="600.91" stroke="#666" stroke-width="0.8"/>
<line x1="140.49" y1="593.94" x2="138.49" y2="593.94" stroke="#666" stroke-width="0.8"/>
<line x1="145.24" y1="586.97" x2="143.24" y2="586.97" stroke="#666" stroke-width="0.8"/>
<text x="154.22" y="585.99" font-size="7.5" font-family="Liberation Serif, serif" stroke="#222" stroke-width="0.18" fill="#111">0.00</text>
<text x="149.46" y="592.96" font-size="7.5" font-family="Liberation Serif, serif" stroke="#222" stroke-width="0.18" fill="#111">0.08</text>
<text x="144.71" y="599.93" font-size="7.5" font-family="Liberation Serif, serif" stroke="#222" stroke-width="0.18" fill="#111">0.17</text>
<text x="139.95" y="606.90" font-size="7.5" font-family="Liberation Serif, serif" stroke="#222" stroke-width="0.18" fill="#111">0.25</text>
<text x="135.19" y="613.87" font-size="7.5" font-family="Liberation Serif, serif" stroke="#222" stroke-width="0.18" fill="#111">0.33</text>
<text x="130.44" y="620.84" font-size="7.5" font-family="Liberation Serif, serif" stroke="#222" stroke-width="0.18" fill="#111">0.50</text>
<text x="125.68" y="627.81" font-size="7.5" font-family="Liberation Serif, serif" stroke="#222" stroke-width="0.18" fill="#111">0.67</text>
<polygon points="86.21,584.88 88.11,582.09 88.11,582.09 86.21,584.88" fill="#6b7087" stroke="#6b7087" stroke-width="0.3"/>
<polygon points="80.59,584.88 86.21,584.88 86.21,584.88 80.59,584.88" fill="#bcc5ec" stroke="#bcc5ec" stroke-width="0.3"/>
<polygon points="80.59,584.88 86.21,584.88 88.11,582.09 82.49,582.09" fill="#848aa5" stroke="#848aa5" stroke-width="0.3"/>
<polygon points="100.27,584.88 102.17,582.09 102.17,552.97 100.27,555.76" fill="#6b7087" stroke="#6b7087" stroke-width="0.3"/>
<polygon points="94.65,584.88 100.27,584.88 100.27,555.76 94.65,555.76" fill="#bcc5ec" stroke="#bcc5ec" stroke-width="0.3"/>
<polygon points="94.65,555.76 100.27,555.76 102.17,552.97 96.55,552.97" fill="#848aa5" stroke="#848aa5" stroke-width="0.3"/>
<polygon points="114.33,584.88 116.23,582.09 116.23,552.97 114.33,555.76" fill="#6b7087" stroke="#6b7087" stroke-width="0.3"/>
<polygon points="108.71,584.88 114.33,584.88 114.33,555.76 108.71,555.76" fill="#bcc5ec" stroke="#bcc5ec" stroke-width="0.3"/>
<polygon points="108.71,555.76 114.33,555.76 116.23,552.97 110.61,552.97" fill="#848aa5" stroke="#848aa5" stroke-width="0.3"/>
<polygon points="128.39,584.88 130.29,582.09 130.29,574.29 128.39,577.08" fill="#6b7087" stroke="#6b7087" stroke-width="0.3"/>
<polygon points="122.77,584.88 128.39,584.88 128.39,577.08 122.77,577.08" fill="#bcc5ec" stroke="#bcc5ec" stroke-width="0.3"/>
<polygon points="122.77,577.08 128.39,577.08 130.29,574.29 124.67,574.29" fill="#848aa5" stroke="#848aa5" stroke-width="0.3"/>
<polygon points="142.45,584.88 144.35,582.09 144.35,582.09 142.45,584.88" fill="#6b7087" stroke="#6b7087" stroke-width="0.3"/>
<polygon points="136.83,584.88 142.45,584.88 142.45,584.88 136.83,584.88" fill="#bcc5ec" stroke="#bcc5ec" stroke-width="0.3"/>
<polygon points="136.83,584.88 142.45,584.88 144.35,582.09 138.73,582.09" fill="#848aa5" stroke="#848aa5" stroke-width="0.3"/>
<polygon points="81.45,591.85 83.36,589.06 83.36,589.06 81.45,591.85" fill="#606683" stroke="#606683" stroke-width="0.3"/>
<polygon points="75.83,591.85 81.45,591.85 81.45,591.85 75.83,591.85" fill="#a8b3e6" stroke="#a8b3e6" stroke-width="0.3"/>
<polygon points="75.83,591.85 81.45,591.85 83.36,589.06 77.73,589.06" fill="#767da1" stroke="#767da1" stroke-width="0.3"/>
<polygon points="95.51,591.85 97.42,589.06 97.42,538.62 95.51,541.41" fill="#606683" stroke="#606683" stroke-width="0.3"/>
<polygon points="89.89,591.85 95.51,591.85 95.51,541.41 89.89,541.41" fill="#a8b3e6" stroke="#a8b3e6" stroke-width="0.3"/>
<polygon points="89.89,541.41 95.51,541.41 97.42,538.62 91.79,538.62" fill="#767da1" stroke="#767da1" stroke-width="0.3"/>
<polygon points="109.57,591.85 111.48,589.06 111.48,510.54 109.57,513.33" fill="#606683" stroke="#606683" stroke-width="0.3"/>
<polygon points="103.95,591.85 109.57,591.85 109.57,513.33 103.95,513.33" fill="#a8b3e6" stroke="#a8b3e6" stroke-width="0.3"/>
<polygon points="103.95,513.33 109.57,513.33 111.48,510.54 105.85,510.54" fill="#767da1" stroke="#767da1" stroke-width="0.3"/>
<polygon points="123.63,591.85 125.54,589.06 125.54,549.02 123.63,551.81" fill="#606683" stroke="#606683" stroke-width="0.3"/>
<polygon points="118.01,591.85 123.63,591.85 123.63,551.81 118.01,551.81" fill="#a8b3e6" stroke="#a8b3e6" stroke-width="0.3"/>
<polygon points="118.01,551.81 123.63,551.81 125.54,549.02 119.91,549.02" fill="#767da1" stroke="#767da1" stroke-width="0.3"/>
<polygon points="137.69,591.85 139.60,589.06 139.60,554.74 137.69,557.53" fill="#606683" stroke="#606683" stroke-width="0.3"/>
<polygon points="132.07,591.85 137.69,591.85 137.69,557.53 132.07,557.53" fill="#a8b3e6" stroke="#a8b3e6" stroke-width="0.3"/>
<polygon points="132.07,557.53 137.69,557.53 139.60,554.74 133.97,554.74" fill="#767da1" stroke="#767da1" stroke-width="0.3"/>
<polygon points="76.70,598.82 78.60,596.03 78.60,596.03 76.70,598.82" fill="#545c7f" stroke="#545c7f" stroke-width="0.3"/>
<polygon points="71.07,598.82 76.70,598.82 76.70,598.82 71.07,598.82" fill="#94a2de" stroke="#94a2de" stroke-width="0.3"/>
<polygon points="71.07,598.82 76.70,598.82 78.60,596.03 72.98,596.03" fill="#68719b" stroke="#68719b" stroke-width="0.3"/>
<polygon points="90.76,598.82 92.66,596.03 92.66,550.79 90.76,553.58" fill="#545c7f" stroke="#545c7f" stroke-width="0.3"/>
<polygon points="85.13,598.82 90.76,598.82 90.76,553.58 85.13,553.58" fill="#94a2de" stroke="#94a2de" stroke-width="0.3"/>
<polygon points="85.13,553.58 90.76,553.58 92.66,550.79 87.04,550.79" fill="#68719b" stroke="#68719b" stroke-width="0.3"/>
<polygon points="104.82,598.82 106.72,596.03 106.72,556.51 104.82,559.30" fill="#545c7f" stroke="#545c7f" stroke-width="0.3"/>
<polygon points="99.19,598.82 104.82,598.82 104.82,559.30 99.19,559.30" fill="#94a2de" stroke="#94a2de" stroke-width="0.3"/>
<polygon points="99.19,559.30 104.82,559.30 106.72,556.51 101.10,556.51" fill="#68719b" stroke="#68719b" stroke-width="0.3"/>
<polygon points="118.88,598.82 120.78,596.03 120.78,577.83 118.88,580.62" fill="#545c7f" stroke="#545c7f" stroke-width="0.3"/>
<polygon points="113.25,598.82 118.88,598.82 118.88,580.62 113.25,580.62" fill="#94a2de" stroke="#94a2de" stroke-width="0.3"/>
<polygon points="113.25,580.62 118.88,580.62 120.78,577.83 115.16,577.83" fill="#68719b" stroke="#68719b" stroke-width="0.3"/>
<polygon points="132.94,598.82 134.84,596.03 134.84,583.55 132.94,586.34" fill="#545c7f" stroke="#545c7f" stroke-width="0.3"/>
<polygon points="127.31,598.82 132.94,598.82 132.94,586.34 127.31,586.34" fill="#94a2de" stroke="#94a2de" stroke-width="0.3"/>
<polygon points="127.31,586.34 132.94,586.34 134.84,583.55 129.22,583.55" fill="#68719b" stroke="#68719b" stroke-width="0.3"/>
<polygon points="71.94,605.79 73.84,603.01 73.84,603.01 71.94,605.79" fill="#274177" stroke="#274177" stroke-width="0.3"/>
<polygon points="66.32,605.79 71.94,605.79 71.94,605.79 66.32,605.79" fill="#4472d0" stroke="#4472d0" stroke-width="0.3"/>
<polygon points="66.32,605.79 71.94,605.79 73.84,603.01 68.22,603.01" fill="#305092" stroke="#305092" stroke-width="0.3"/>
<polygon points="86.00,605.79 87.90,603.01 87.90,590.53 86.00,593.31" fill="#274177" stroke="#274177" stroke-width="0.3"/>
<polygon points="80.38,605.79 86.00,605.79 86.00,593.31 80.38,593.31" fill="#4472d0" stroke="#4472d0" stroke-width="0.3"/>
<polygon points="80.38,593.31 86.00,593.31 87.90,590.53 82.28,590.53" fill="#305092" stroke="#305092" stroke-width="0.3"/>
<polygon points="100.06,605.79 101.96,603.01 101.96,563.49 100.06,566.27" fill="#274177" stroke="#274177" stroke-width="0.3"/>
<polygon points="94.44,605.79 100.06,605.79 100.06,566.27 94.44,566.27" fill="#4472d0" stroke="#4472d0" stroke-width="0.3"/>
<polygon points="94.44,566.27 100.06,566.27 101.96,563.49 96.34,563.49" fill="#305092" stroke="#305092" stroke-width="0.3"/>
<polygon points="114.12,605.79 116.02,603.01 116.02,580.13 114.12,582.91" fill="#274177" stroke="#274177" stroke-width="0.3"/>
<polygon points="108.50,605.79 114.12,605.79 114.12,582.91 108.50,582.91" fill="#4472d0" stroke="#4472d0" stroke-width="0.3"/>
<polygon points="108.50,582.91 114.12,582.91 116.02,580.13 110.40,580.13" fill="#305092" stroke="#305092" stroke-width="0.3"/>
<polygon points="128.18,605.79 130.08,603.01 130.08,603.01 128.18,605.79" fill="#274177" stroke="#274177" stroke-width="0.3"/>
<polygon points="122.56,605.79 128.18,605.79 128.18,605.79 122.56,605.79" fill="#4472d0" stroke="#4472d0" stroke-width="0.3"/>
<polygon points="122.56,605.79 128.18,605.79 130.08,603.01 124.46,603.01" fill="#305092" stroke="#305092" stroke-width="0.3"/>
<polygon points="67.18,612.77 69.09,609.98 69.09,609.98 67.18,612.77" fill="#203a70" stroke="#203a70" stroke-width="0.3"/>
<polygon points="61.56,612.77 67.18,612.77 67.18,612.77 61.56,612.77" fill="#3866c4" stroke="#3866c4" stroke-width="0.3"/>
<polygon points="61.56,612.77 67.18,612.77 69.09,609.98 63.46,609.98" fill="#274789" stroke="#274789" stroke-width="0.3"/>
<polygon points="81.24,612.77 83.15,609.98 83.15,598.54 81.24,601.33" fill="#203a70" stroke="#203a70" stroke-width="0.3"/>
<polygon points="75.62,612.77 81.24,612.77 81.24,601.33 75.62,601.33" fill="#3866c4" stroke="#3866c4" stroke-width="0.3"/>
<polygon points="75.62,601.33 81.24,601.33 83.15,598.54 77.52,598.54" fill="#274789" stroke="#274789" stroke-width="0.3"/>
<polygon points="95.30,612.77 97.21,609.98 97.21,598.54 95.30,601.33" fill="#203a70" stroke="#203a70" stroke-width="0.3"/>
<polygon points="89.68,612.77 95.30,612.77 95.30,601.33 89.68,601.33" fill="#3866c4" stroke="#3866c4" stroke-width="0.3"/>
<polygon points="89.68,601.33 95.30,601.33 97.21,598.54 91.58,598.54" fill="#274789" stroke="#274789" stroke-width="0.3"/>
<polygon points="109.36,612.77 111.27,609.98 111.27,582.42 109.36,585.21" fill="#203a70" stroke="#203a70" stroke-width="0.3"/>
<polygon points="103.74,612.77 109.36,612.77 109.36,585.21 103.74,585.21" fill="#3866c4" stroke="#3866c4" stroke-width="0.3"/>
<polygon points="103.74,585.21 109.36,585.21 111.27,582.42 105.64,582.42" fill="#274789" stroke="#274789" stroke-width="0.3"/>
<polygon points="123.42,612.77 125.33,609.98 125.33,598.54 123.42,601.33" fill="#203a70" stroke="#203a70" stroke-width="0.3"/>
<polygon points="117.80,612.77 123.42,612.77 123.42,601.33 117.80,601.33" fill="#3866c4" stroke="#3866c4" stroke-width="0.3"/>
<polygon points="117.80,601.33 123.42,601.33 125.33,598.54 119.70,598.54" fill="#274789" stroke="#274789" stroke-width="0.3"/>
<polygon points="62.43,619.74 64.33,616.95 64.33,616.95 62.43,619.74" fill="#1b3364" stroke="#1b3364" stroke-width="0.3"/>
<polygon points="56.80,619.74 62.43,619.74 62.43,619.74 56.80,619.74" fill="#2f5ab0" stroke="#2f5ab0" stroke-width="0.3"/>
<polygon points="56.80,619.74 62.43,619.74 64.33,616.95 58.71,616.95" fill="#213f7b" stroke="#213f7b" stroke-width="0.3"/>
<polygon points="76.49,619.74 78.39,616.95 78.39,616.95 76.49,619.74" fill="#1b3364" stroke="#1b3364" stroke-width="0.3"/>
<polygon points="70.86,619.74 76.49,619.74 76.49,619.74 70.86,619.74" fill="#2f5ab0" stroke="#2f5ab0" stroke-width="0.3"/>
<polygon points="70.86,619.74 76.49,619.74 78.39,616.95 72.77,616.95" fill="#213f7b" stroke="#213f7b" stroke-width="0.3"/>
<polygon points="90.55,619.74 92.45,616.95 92.45,616.95 90.55,619.74" fill="#1b3364" stroke="#1b3364" stroke-width="0.3"/>
<polygon points="84.92,619.74 90.55,619.74 90.55,619.74 84.92,619.74" fill="#2f5ab0" stroke="#2f5ab0" stroke-width="0.3"/>
<polygon points="84.92,619.74 90.55,619.74 92.45,616.95 86.83,616.95" fill="#213f7b" stroke="#213f7b" stroke-width="0.3"/>
<polygon points="104.61,619.74 106.51,616.95 106.51,616.95 104.61,619.74" fill="#1b3364" stroke="#1b3364" stroke-width="0.3"/>
<polygon points="98.98,619.74 104.61,619.74 104.61,619.74 98.98,619.74" fill="#2f5ab0" stroke="#2f5ab0" stroke-width="0.3"/>
<polygon points="98.98,619.74 104.61,619.74 106.51,616.95 100.89,616.95" fill="#213f7b" stroke="#213f7b" stroke-width="0.3"/>
<polygon points="118.67,619.74 120.57,616.95 120.57,611.75 118.67,614.54" fill="#1b3364" stroke="#1b3364" stroke-width="0.3"/>
<polygon points="113.04,619.74 118.67,619.74 118.67,614.54 113.04,614.54" fill="#2f5ab0" stroke="#2f5ab0" stroke-width="0.3"/>
<polygon points="113.04,614.54 118.67,614.54 120.57,611.75 114.95,611.75" fill="#213f7b" stroke="#213f7b" stroke-width="0.3"/>
<polygon points="57.67,626.71 59.57,623.92 59.57,623.92 57.67,626.71" fill="#172b58" stroke="#172b58" stroke-width="0.3"/>
<polygon points="52.05,626.71 57.67,626.71 57.67,626.71 52.05,626.71" fill="#294b9a" stroke="#294b9a" stroke-width="0.3"/>
<polygon points="52.05,626.71 57.67,626.71 59.57,623.92 53.95,623.92" fill="#1d346c" stroke="#1d346c" stroke-width="0.3"/>
<polygon points="71.73,626.71 73.63,623.92 73.63,618.88 71.73,621.66" fill="#172b58" stroke="#172b58" stroke-width="0.3"/>
<polygon points="66.11,626.71 71.73,626.71 71.73,621.66 66.11,621.66" fill="#294b9a" stroke="#294b9a" stroke-width="0.3"/>
<polygon points="66.11,621.66 71.73,621.66 73.63,618.88 68.01,618.88" fill="#1d346c" stroke="#1d346c" stroke-width="0.3"/>
<polygon points="85.79,626.71 87.69,623.92 87.69,623.92 85.79,626.71" fill="#172b58" stroke="#172b58" stroke-width="0.3"/>
<polygon points="80.17,626.71 85.79,626.71 85.79,626.71 80.17,626.71" fill="#294b9a" stroke="#294b9a" stroke-width="0.3"/>
<polygon points="80.17,626.71 85.79,626.71 87.69,623.92 82.07,623.92" fill="#1d346c" stroke="#1d346c" stroke-width="0.3"/>
<polygon points="99.85,626.71 101.75,623.92 101.75,618.88 99.85,621.66" fill="#172b58" stroke="#172b58" stroke-width="0.3"/>
<polygon points="94.23,626.71 99.85,626.71 99.85,621.66 94.23,621.66" fill="#294b9a" stroke="#294b9a" stroke-width="0.3"/>
<polygon points="94.23,621.66 99.85,621.66 101.75,618.88 96.13,618.88" fill="#1d346c" stroke="#1d346c" stroke-width="0.3"/>
<polygon points="113.91,626.71 115.81,623.92 115.81,623.92 113.91,626.71" fill="#172b58" stroke="#172b58" stroke-width="0.3"/>
<polygon points="108.29,626.71 113.91,626.71 113.91,626.71 108.29,626.71" fill="#294b9a" stroke="#294b9a" stroke-width="0.3"/>
<polygon points="108.29,626.71 113.91,626.71 115.81,623.92 110.19,623.92" fill="#1d346c" stroke="#1d346c" stroke-width="0.3"/>
<text x="53.60" y="515.70" font-size="9" font-family="Liberation Serif, serif" stroke="#111" stroke-width="0.2" fill="#111">(j)</text>
<text transform="translate(15.80,583.70) rotate(-90)" text-anchor="middle" font-size="8" font-family="Liberation Serif, serif" stroke="#222" stroke-width="0.18" fill="#111">Relative frequency</text>
<text x="86.40" y="650.50" text-anchor="middle" font-size="8" font-family="Liberation Serif, serif" stroke="#222" stroke-width="0.18" fill="#111">W<tspan font-size="5" dy="1.5">i</tspan></text>
<text transform="translate(165.50,614.00) rotate(-90)" text-anchor="middle" font-size="8" font-family="Liberation Serif, serif" stroke="#222" stroke-width="0.18" fill="#111">S<tspan font-size="5" dy="1.5">i</tspan></text>
<polyline points="265.70,579.90 265.70,503.30 337.30,503.30 337.30,579.90 265.70,579.90" fill="none" stroke="#9c9c9c" stroke-width="1.1"/>
<line x1="231.60" y1="630.20" x2="231.60" y2="553.60" stroke="#a8a8a8" stroke-width="1"/>
<line x1="231.60" y1="630.20" x2="303.20" y2="630.20" stroke="#bdbdbd" stroke-width="1"/>
<line x1="231.60" y1="553.60" x2="265.70" y2="503.30" stroke="#4a4a4a" stroke-width="0.8"/>
<line x1="231.60" y1="630.20" x2="265.70" y2="579.90" stroke="#4a4a4a" stroke-width="0.8"/>
<line x1="303.20" y1="630.20" x2="337.30" y2="579.90" stroke="#4a4a4a" stroke-width="0.8"/>
<line x1="231.60" y1="630.20" x2="233.60" y2="630.20" stroke="#666" stroke-width="0.8"/>
<text x="224.20" y="633.20" text-anchor="end" font-size="7.5" font-family="Liberation Serif, serif" stroke="#222" stroke-width="0.18" fill="#111">0.00</text>
<line x1="231.60" y1="614.88" x2="233.60" y2="614.88" stroke="#666" stroke-width="0.8"/>
<text x="224.20" y="617.88" text-anchor="end" font-size="7.5" font-family="Liberation Serif, serif" stroke="#222" stroke-width="0.18" fill="#111">0.03</text>
<line x1="231.60" y1="599.56" x2="233.60" y2="599.56" stroke="#666" stroke-width="0.8"/>
<text x="224.20" y="602.56" text-anchor="end" font-size="7.5" font-family="Liberation Serif, serif" stroke="#222" stroke-width="0.18" fill="#111">0.06</text>
<line x1="231.60" y1="584.24" x2="233.60" y2="584.24" stroke="#666" stroke-width="0.8"/>
<text x="224.20" y="587.24" text-anchor="end" font-size="7.5" font-family="Liberation Serif, serif" stroke="#222" stroke-width="0.18" fill="#111">0.09</text>
<line x1="231.60" y1="568.92" x2="233.60" y2="568.92" stroke="#666" stroke-width="0.8"/>
<text x="224.20" y="571.92" text-anchor="end" font-size="7.5" font-family="Liberation Serif, serif" stroke="#222" stroke-width="0.18" fill="#111">0.12</text>
<line x1="231.60" y1="553.60" x2="233.60" y2="553.60" stroke="#666" stroke-width="0.8"/>
<text x="224.20" y="556.60" text-anchor="end" font-size="7.5" font-family="Liberation Serif, serif" stroke="#222" stroke-width="0.18" fill="#111">0.15</text>
<line x1="245.92" y1="630.20" x2="245.92" y2="628.20" stroke="#888" stroke-width="0.8"/>
<line x1="260.24" y1="630.20" x2="260.24" y2="628.20" stroke="#888" stroke-width="0.8"/>
<line x1="274.56" y1="630.20" x2="274.56" y2="628.20" stroke="#888" stroke-width="0.8"/>
<line x1="288.88" y1="630.20" x2="288.88" y2="628.20" stroke="#888" stroke-width="0.8"/>
<text x="238.76" y="642.70" text-anchor="middle" font-size="7.5" font-family="Liberation Serif, serif" stroke="#222" stroke-width="0.18" fill="#111">0</text>
<text x="253.08" y="642.70" text-anchor="middle" font-size="7.5" font-family="Liberation Serif, serif" stroke="#222" stroke-width="0.18" fill="#111">0.25</text>
<text x="267.40" y="642.70" text-anchor="middle" font-size="7.5" font-family="Liberation Serif, serif" stroke="#222" stroke-width="0.18" fill="#111">0.5</text>
<text x="281.72" y="642.70" text-anchor="middle" font-size="7.5" font-family="Liberation Serif, serif" stroke="#222" stroke-width="0.18" fill="#111">0.75</text>
<text x="296.04" y="642.70" text-anchor="middle" font-size="7.5" font-family="Liberation Serif, serif" stroke="#222" stroke-width="0.18" fill="#111">1</text>
<line x1="308.07" y1="623.01" x2="306.07" y2="623.01" stroke="#666" stroke-width="0.8"/>
<line x1="312.94" y1="615.83" x2="310.94" y2="615.83" stroke="#666" stroke-width="0.8"/>
<line x1="317.81" y1="608.64" x2="315.81" y2="608.64" stroke="#666" stroke-width="0.8"/>
<line x1="322.69" y1="601.46" x2="320.69" y2="601.46" stroke="#666" stroke-width="0.8"/>
<line x1="327.56" y1="594.27" x2="325.56" y2="594.27" stroke="#666" stroke-width="0.8"/>
<line x1="332.43" y1="587.09" x2="330.43" y2="587.09" stroke="#666" stroke-width="0.8"/>
<text x="341.46" y="585.99" font-size="7.5" font-family="Liberation Serif, serif" stroke="#222" stroke-width="0.18" fill="#111">0.00</text>
<text x="336.59" y="593.18" font-size="7.5" font-family="Liberation Serif, serif" stroke="#222" stroke-width="0.18" fill="#111">0.08</text>
<text x="331.72" y="600.36" font-size="7.5" font-family="Liberation Serif, serif" stroke="#222" stroke-width="0.18" fill="#111">0.17</text>
<text x="326.85" y="607.55" font-size="7.5" font-family="Liberation Serif, serif" stroke="#222" stroke-width="0.18" fill="#111">0.25</text>
<text x="321.98" y="614.74" font-size="7.5" font-family="Liberation Serif, serif" stroke="#222" stroke-width="0.18" fill="#111">0.33</text>
<text x="317.11" y="621.92" font-size="7.5" font-family="Liberation Serif, serif" stroke="#222" stroke-width="0.18" fill="#111">0.50</text>
<text x="312.24" y="629.11" font-size="7.5" font-family="Liberation Serif, serif" stroke="#222" stroke-width="0.18" fill="#111">0.67</text>
<polygon points="272.31,584.93 274.26,582.06 274.26,571.54 272.31,574.41" fill="#6b7087" stroke="#6b7087" stroke-width="0.3"/>
<polygon points="266.59,584.93 272.31,584.93 272.31,574.41 266.59,574.41" fill="#bcc5ec" stroke="#bcc5ec" stroke-width="0.3"/>
<polygon points="266.59,574.41 272.31,574.41 274.26,571.54 268.53,571.54" fill="#848aa5" stroke="#848aa5" stroke-width="0.3"/>
<polygon points="286.63,584.93 288.58,582.06 288.58,571.01 286.63,573.88" fill="#6b7087" stroke="#6b7087" stroke-width="0.3"/>
<polygon points="280.91,584.93 286.63,584.93 286.63,573.88 280.91,573.88" fill="#bcc5ec" stroke="#bcc5ec" stroke-width="0.3"/>
<polygon points="280.91,573.88 286.63,573.88 288.58,571.01 282.85,571.01" fill="#848aa5" stroke="#848aa5" stroke-width="0.3"/>
<polygon points="300.95,584.93 302.90,582.06 302.90,571.54 300.95,574.41" fill="#6b7087" stroke="#6b7087" stroke-width="0.3"/>
<polygon points="295.23,584.93 300.95,584.93 300.95,574.41 295.23,574.41" fill="#bcc5ec" stroke="#bcc5ec" stroke-width="0.3"/>
<polygon points="295.23,574.41 300.95,574.41 302.90,571.54 297.17,571.54" fill="#848aa5" stroke="#848aa5" stroke-width="0.3"/>
<polygon points="315.27,584.93 317.22,582.06 317.22,566.28 315.27,569.15" fill="#6b7087" stroke="#6b7087" stroke-width="0.3"/>
<polygon points="309.55,584.93 315.27,584.93 315.27,569.15 309.55,569.15" fill="#bcc5ec" stroke="#bcc5ec" stroke-width="0.3"/>
<polygon points="309.55,569.15 315.27,569.15 317.22,566.28 311.49,566.28" fill="#848aa5" stroke="#848aa5" stroke-width="0.3"/>
<polygon points="329.59,584.93 331.54,582.06 331.54,566.28 329.59,569.15" fill="#6b7087" stroke="#6b7087" stroke-width="0.3"/>
<polygon points="323.87,584.93 329.59,584.93 329.59,569.15 323.87,569.15" fill="#bcc5ec" stroke="#bcc5ec" stroke-width="0.3"/>
<polygon points="323.87,569.15 329.59,569.15 331.54,566.28 325.81,566.28" fill="#848aa5" stroke="#848aa5" stroke-width="0.3"/>
<polygon points="267.44,592.12 269.39,589.24 269.39,545.58 267.44,548.46" fill="#606683" stroke="#606683" stroke-width="0.3"/>
<polygon points="261.71,592.12 267.44,592.12 267.44,548.46 261.71,548.46" fill="#a8b3e6" stroke="#a8b3e6" stroke-width="0.3"/>
<polygon points="261.71,548.46 267.44,548.46 269.39,545.58 263.66,545.58" fill="#767da1" stroke="#767da1" stroke-width="0.3"/>
<polygon points="281.76,592.12 283.71,589.24 283.71,550.84 281.76,553.72" fill="#606683" stroke="#606683" stroke-width="0.3"/>
<polygon points="276.03,592.12 281.76,592.12 281.76,553.72 276.03,553.72" fill="#a8b3e6" stroke="#a8b3e6" stroke-width="0.3"/>
<polygon points="276.03,553.72 281.76,553.72 283.71,550.84 277.98,550.84" fill="#767da1" stroke="#767da1" stroke-width="0.3"/>
<polygon points="296.08,592.12 298.03,589.24 298.03,528.23 296.08,531.10" fill="#606683" stroke="#606683" stroke-width="0.3"/>
<polygon points="290.35,592.12 296.08,592.12 296.08,531.10 290.35,531.10" fill="#a8b3e6" stroke="#a8b3e6" stroke-width="0.3"/>
<polygon points="290.35,531.10 296.08,531.10 298.03,528.23 292.30,528.23" fill="#767da1" stroke="#767da1" stroke-width="0.3"/>
<polygon points="310.40,592.12 312.35,589.24 312.35,545.58 310.40,548.46" fill="#606683" stroke="#606683" stroke-width="0.3"/>
<polygon points="304.67,592.12 310.40,592.12 310.40,548.46 304.67,548.46" fill="#a8b3e6" stroke="#a8b3e6" stroke-width="0.3"/>
<polygon points="304.67,548.46 310.40,548.46 312.35,545.58 306.62,545.58" fill="#767da1" stroke="#767da1" stroke-width="0.3"/>
<polygon points="324.72,592.12 326.67,589.24 326.67,578.20 324.72,581.07" fill="#606683" stroke="#606683" stroke-width="0.3"/>
<polygon points="318.99,592.12 324.72,592.12 324.72,581.07 318.99,581.07" fill="#a8b3e6" stroke="#a8b3e6" stroke-width="0.3"/>
<polygon points="318.99,581.07 324.72,581.07 326.67,578.20 320.94,578.20" fill="#767da1" stroke="#767da1" stroke-width="0.3"/>
<polygon points="262.57,599.30 264.52,596.43 264.52,574.86 262.57,577.74" fill="#545c7f" stroke="#545c7f" stroke-width="0.3"/>
<polygon points="256.84,599.30 262.57,599.30 262.57,577.74 256.84,577.74" fill="#94a2de" stroke="#94a2de" stroke-width="0.3"/>
<polygon points="256.84,577.74 262.57,577.74 264.52,574.86 258.79,574.86" fill="#68719b" stroke="#68719b" stroke-width="0.3"/>
<polygon points="276.89,599.30 278.84,596.43 278.84,542.51 276.89,545.39" fill="#545c7f" stroke="#545c7f" stroke-width="0.3"/>
<polygon points="271.16,599.30 276.89,599.30 276.89,545.39 271.16,545.39" fill="#94a2de" stroke="#94a2de" stroke-width="0.3"/>
<polygon points="271.16,545.39 276.89,545.39 278.84,542.51 273.11,542.51" fill="#68719b" stroke="#68719b" stroke-width="0.3"/>
<polygon points="291.21,599.30 293.16,596.43 293.16,581.17 291.21,584.05" fill="#545c7f" stroke="#545c7f" stroke-width="0.3"/>
<polygon points="285.48,599.30 291.21,599.30 291.21,584.05 285.48,584.05" fill="#94a2de" stroke="#94a2de" stroke-width="0.3"/>
<polygon points="285.48,584.05 291.21,584.05 293.16,581.17 287.43,581.17" fill="#68719b" stroke="#68719b" stroke-width="0.3"/>
<polygon points="305.53,599.30 307.48,596.43 307.48,580.65 305.53,583.52" fill="#545c7f" stroke="#545c7f" stroke-width="0.3"/>
<polygon points="299.80,599.30 305.53,599.30 305.53,583.52 299.80,583.52" fill="#94a2de" stroke="#94a2de" stroke-width="0.3"/>
<polygon points="299.80,583.52 305.53,583.52 307.48,580.65 301.75,580.65" fill="#68719b" stroke="#68719b" stroke-width="0.3"/>
<polygon points="319.85,599.30 321.80,596.43 321.80,591.17 319.85,594.04" fill="#545c7f" stroke="#545c7f" stroke-width="0.3"/>
<polygon points="314.12,599.30 319.85,599.30 319.85,594.04 314.12,594.04" fill="#94a2de" stroke="#94a2de" stroke-width="0.3"/>
<polygon points="314.12,594.04 319.85,594.04 321.80,591.17 316.07,591.17" fill="#68719b" stroke="#68719b" stroke-width="0.3"/>
<polygon points="257.70,606.49 259.65,603.61 259.65,598.88 257.70,601.75" fill="#274177" stroke="#274177" stroke-width="0.3"/>
<polygon points="251.97,606.49 257.70,606.49 257.70,601.75 251.97,601.75" fill="#4472d0" stroke="#4472d0" stroke-width="0.3"/>
<polygon points="251.97,601.75 257.70,601.75 259.65,598.88 253.92,598.88" fill="#305092" stroke="#305092" stroke-width="0.3"/>
<polygon points="272.02,606.49 273.97,603.61 273.97,603.61 272.02,606.49" fill="#274177" stroke="#274177" stroke-width="0.3"/>
<polygon points="266.29,606.49 272.02,606.49 272.02,606.49 266.29,606.49" fill="#4472d0" stroke="#4472d0" stroke-width="0.3"/>
<polygon points="266.29,606.49 272.02,606.49 273.97,603.61 268.24,603.61" fill="#305092" stroke="#305092" stroke-width="0.3"/>
<polygon points="286.34,606.49 288.29,603.61 288.29,598.88 286.34,601.75" fill="#274177" stroke="#274177" stroke-width="0.3"/>
<polygon points="280.61,606.49 286.34,606.49 286.34,601.75 280.61,601.75" fill="#4472d0" stroke="#4472d0" stroke-width="0.3"/>
<polygon points="280.61,601.75 286.34,601.75 288.29,598.88 282.56,598.88" fill="#305092" stroke="#305092" stroke-width="0.3"/>
<polygon points="300.66,606.49 302.61,603.61 302.61,576.79 300.66,579.66" fill="#274177" stroke="#274177" stroke-width="0.3"/>
<polygon points="294.93,606.49 300.66,606.49 300.66,579.66 294.93,579.66" fill="#4472d0" stroke="#4472d0" stroke-width="0.3"/>
<polygon points="294.93,579.66 300.66,579.66 302.61,576.79 296.88,576.79" fill="#305092" stroke="#305092" stroke-width="0.3"/>
<polygon points="314.98,606.49 316.93,603.61 316.93,570.74 314.98,573.61" fill="#274177" stroke="#274177" stroke-width="0.3"/>
<polygon points="309.25,606.49 314.98,606.49 314.98,573.61 309.25,573.61" fill="#4472d0" stroke="#4472d0" stroke-width="0.3"/>
<polygon points="309.25,573.61 314.98,573.61 316.93,570.74 311.20,570.74" fill="#305092" stroke="#305092" stroke-width="0.3"/>
<polygon points="252.83,613.67 254.78,610.80 254.78,599.75 252.83,602.63" fill="#203a70" stroke="#203a70" stroke-width="0.3"/>
<polygon points="247.10,613.67 252.83,613.67 252.83,602.63 247.10,602.63" fill="#3866c4" stroke="#3866c4" stroke-width="0.3"/>
<polygon points="247.10,602.63 252.83,602.63 254.78,599.75 249.05,599.75" fill="#274789" stroke="#274789" stroke-width="0.3"/>
<polygon points="267.15,613.67 269.10,610.80 269.10,606.06 267.15,608.94" fill="#203a70" stroke="#203a70" stroke-width="0.3"/>
<polygon points="261.42,613.67 267.15,613.67 267.15,608.94 261.42,608.94" fill="#3866c4" stroke="#3866c4" stroke-width="0.3"/>
<polygon points="261.42,608.94 267.15,608.94 269.10,606.06 263.37,606.06" fill="#274789" stroke="#274789" stroke-width="0.3"/>
<polygon points="281.47,613.67 283.42,610.80 283.42,606.06 281.47,608.94" fill="#203a70" stroke="#203a70" stroke-width="0.3"/>
<polygon points="275.74,613.67 281.47,613.67 281.47,608.94 275.74,608.94" fill="#3866c4" stroke="#3866c4" stroke-width="0.3"/>
<polygon points="275.74,608.94 281.47,608.94 283.42,606.06 277.69,606.06" fill="#274789" stroke="#274789" stroke-width="0.3"/>
<polygon points="295.79,613.67 297.74,610.80 297.74,606.06 295.79,608.94" fill="#203a70" stroke="#203a70" stroke-width="0.3"/>
<polygon points="290.06,613.67 295.79,613.67 295.79,608.94 290.06,608.94" fill="#3866c4" stroke="#3866c4" stroke-width="0.3"/>
<polygon points="290.06,608.94 295.79,608.94 297.74,606.06 292.01,606.06" fill="#274789" stroke="#274789" stroke-width="0.3"/>
<polygon points="310.11,613.67 312.06,610.80 312.06,578.71 310.11,581.59" fill="#203a70" stroke="#203a70" stroke-width="0.3"/>
<polygon points="304.38,613.67 310.11,613.67 310.11,581.59 304.38,581.59" fill="#3866c4" stroke="#3866c4" stroke-width="0.3"/>
<polygon points="304.38,581.59 310.11,581.59 312.06,578.71 306.33,578.71" fill="#274789" stroke="#274789" stroke-width="0.3"/>
<polygon points="247.96,620.86 249.91,617.98 249.91,617.98 247.96,620.86" fill="#1b3364" stroke="#1b3364" stroke-width="0.3"/>
<polygon points="242.23,620.86 247.96,620.86 247.96,620.86 242.23,620.86" fill="#2f5ab0" stroke="#2f5ab0" stroke-width="0.3"/>
<polygon points="242.23,620.86 247.96,620.86 249.91,617.98 244.18,617.98" fill="#213f7b" stroke="#213f7b" stroke-width="0.3"/>
<polygon points="262.28,620.86 264.23,617.98 264.23,617.98 262.28,620.86" fill="#1b3364" stroke="#1b3364" stroke-width="0.3"/>
<polygon points="256.55,620.86 262.28,620.86 262.28,620.86 256.55,620.86" fill="#2f5ab0" stroke="#2f5ab0" stroke-width="0.3"/>
<polygon points="256.55,620.86 262.28,620.86 264.23,617.98 258.50,617.98" fill="#213f7b" stroke="#213f7b" stroke-width="0.3"/>
<polygon points="276.60,620.86 278.55,617.98 278.55,613.25 276.60,616.12" fill="#1b3364" stroke="#1b3364" stroke-width="0.3"/>
<polygon points="270.87,620.86 276.60,620.86 276.60,616.12 270.87,616.12" fill="#2f5ab0" stroke="#2f5ab0" stroke-width="0.3"/>
<polygon points="270.87,616.12 276.60,616.12 278.55,613.25 272.82,613.25" fill="#213f7b" stroke="#213f7b" stroke-width="0.3"/>
<polygon points="290.92,620.86 292.87,617.98 292.87,617.98 290.92,620.86" fill="#1b3364" stroke="#1b3364" stroke-width="0.3"/>
<polygon points="285.19,620.86 290.92,620.86 290.92,620.86 285.19,620.86" fill="#2f5ab0" stroke="#2f5ab0" stroke-width="0.3"/>
<polygon points="285.19,620.86 290.92,620.86 292.87,617.98 287.14,617.98" fill="#213f7b" stroke="#213f7b" stroke-width="0.3"/>
<polygon points="305.24,620.86 307.19,617.98 307.19,617.98 305.24,620.86" fill="#1b3364" stroke="#1b3364" stroke-width="0.3"/>
<polygon points="299.51,620.86 305.24,620.86 305.24,620.86 299.51,620.86" fill="#2f5ab0" stroke="#2f5ab0" stroke-width="0.3"/>
<polygon points="299.51,620.86 305.24,620.86 307.19,617.98 301.46,617.98" fill="#213f7b" stroke="#213f7b" stroke-width="0.3"/>
<polygon points="243.09,628.04 245.03,625.17 245.03,625.17 243.09,628.04" fill="#172b58" stroke="#172b58" stroke-width="0.3"/>
<polygon points="237.36,628.04 243.09,628.04 243.09,628.04 237.36,628.04" fill="#294b9a" stroke="#294b9a" stroke-width="0.3"/>
<polygon points="237.36,628.04 243.09,628.04 245.03,625.17 239.31,625.17" fill="#1d346c" stroke="#1d346c" stroke-width="0.3"/>
<polygon points="257.41,628.04 259.35,625.17 259.35,625.17 257.41,628.04" fill="#172b58" stroke="#172b58" stroke-width="0.3"/>
<polygon points="251.68,628.04 257.41,628.04 257.41,628.04 251.68,628.04" fill="#294b9a" stroke="#294b9a" stroke-width="0.3"/>
<polygon points="251.68,628.04 257.41,628.04 259.35,625.17 253.63,625.17" fill="#1d346c" stroke="#1d346c" stroke-width="0.3"/>
<polygon points="271.73,628.04 273.67,625.17 273.67,625.17 271.73,628.04" fill="#172b58" stroke="#172b58" stroke-width="0.3"/>
<polygon points="266.00,628.04 271.73,628.04 271.73,628.04 266.00,628.04" fill="#294b9a" stroke="#294b9a" stroke-width="0.3"/>
<polygon points="266.00,628.04 271.73,628.04 273.67,625.17 267.95,625.17" fill="#1d346c" stroke="#1d346c" stroke-width="0.3"/>
<polygon points="286.05,628.04 287.99,625.17 287.99,620.96 286.05,623.84" fill="#172b58" stroke="#172b58" stroke-width="0.3"/>
<polygon points="280.32,628.04 286.05,628.04 286.05,623.84 280.32,623.84" fill="#294b9a" stroke="#294b9a" stroke-width="0.3"/>
<polygon points="280.32,623.84 286.05,623.84 287.99,620.96 282.27,620.96" fill="#1d346c" stroke="#1d346c" stroke-width="0.3"/>
<polygon points="300.37,628.04 302.31,625.17 302.31,620.96 300.37,623.84" fill="#172b58" stroke="#172b58" stroke-width="0.3"/>
<polygon points="294.64,628.04 300.37,628.04 300.37,623.84 294.64,623.84" fill="#294b9a" stroke="#294b9a" stroke-width="0.3"/>
<polygon points="294.64,623.84 300.37,623.84 302.31,620.96 296.59,620.96" fill="#1d346c" stroke="#1d346c" stroke-width="0.3"/>
<text x="237.30" y="520.70" font-size="9" font-family="Liberation Serif, serif" stroke="#111" stroke-width="0.2" fill="#111">(k)</text>
<text transform="translate(200.80,591.50) rotate(-90)" text-anchor="middle" font-size="8" font-family="Liberation Serif, serif" stroke="#222" stroke-width="0.18" fill="#111">Relative frequency</text>
<text x="272.60" y="651.40" text-anchor="middle" font-size="8" font-family="Liberation Serif, serif" stroke="#222" stroke-width="0.18" fill="#111">Ui</text>
<text transform="translate(352.50,614.00) rotate(-90)" text-anchor="middle" font-size="8" font-family="Liberation Serif, serif" stroke="#222" stroke-width="0.18" fill="#111">S<tspan font-size="5" dy="1.5">i</tspan></text>
<polyline points="449.40,579.80 449.40,501.50 520.00,501.50 520.00,579.80 449.40,579.80" fill="none" stroke="#9c9c9c" stroke-width="1.1"/>
<line x1="415.30" y1="629.60" x2="415.30" y2="551.30" stroke="#a8a8a8" stroke-width="1"/>
<line x1="415.30" y1="629.60" x2="485.90" y2="629.60" stroke="#bdbdbd" stroke-width="1"/>
<line x1="415.30" y1="551.30" x2="449.40" y2="501.50" stroke="#4a4a4a" stroke-width="0.8"/>
<line x1="415.30" y1="629.60" x2="449.40" y2="579.80" stroke="#4a4a4a" stroke-width="0.8"/>
<line x1="485.90" y1="629.60" x2="520.00" y2="579.80" stroke="#4a4a4a" stroke-width="0.8"/>
<line x1="415.30" y1="629.60" x2="417.30" y2="629.60" stroke="#666" stroke-width="0.8"/>
<text x="407.50" y="632.60" text-anchor="end" font-size="7.5" font-family="Liberation Serif, serif" stroke="#222" stroke-width="0.18" fill="#111">0.00</text>
<line x1="415.30" y1="613.94" x2="417.30" y2="613.94" stroke="#666" stroke-width="0.8"/>
<text x="407.50" y="616.94" text-anchor="end" font-size="7.5" font-family="Liberation Serif, serif" stroke="#222" stroke-width="0.18" fill="#111">0.05</text>
<line x1="415.30" y1="598.28" x2="417.30" y2="598.28" stroke="#666" stroke-width="0.8"/>
<text x="407.50" y="601.28" text-anchor="end" font-size="7.5" font-family="Liberation Serif, serif" stroke="#222" stroke-width="0.18" fill="#111">0.10</text>
<line x1="415.30" y1="582.62" x2="417.30" y2="582.62" stroke="#666" stroke-width="0.8"/>
<text x="407.50" y="585.62" text-anchor="end" font-size="7.5" font-family="Liberation Serif, serif" stroke="#222" stroke-width="0.18" fill="#111">0.15</text>
<line x1="415.30" y1="566.96" x2="417.30" y2="566.96" stroke="#666" stroke-width="0.8"/>
<text x="407.50" y="569.96" text-anchor="end" font-size="7.5" font-family="Liberation Serif, serif" stroke="#222" stroke-width="0.18" fill="#111">0.20</text>
<line x1="415.30" y1="551.30" x2="417.30" y2="551.30" stroke="#666" stroke-width="0.8"/>
<text x="407.50" y="554.30" text-anchor="end" font-size="7.5" font-family="Liberation Serif, serif" stroke="#222" stroke-width="0.18" fill="#111">0.25</text>
<line x1="429.42" y1="629.60" x2="429.42" y2="627.60" stroke="#888" stroke-width="0.8"/>
<line x1="443.54" y1="629.60" x2="443.54" y2="627.60" stroke="#888" stroke-width="0.8"/>
<line x1="457.66" y1="629.60" x2="457.66" y2="627.60" stroke="#888" stroke-width="0.8"/>
<line x1="471.78" y1="629.60" x2="471.78" y2="627.60" stroke="#888" stroke-width="0.8"/>
<text x="422.36" y="642.10" text-anchor="middle" font-size="7.5" font-family="Liberation Serif, serif" stroke="#222" stroke-width="0.18" fill="#111">0</text>
<text x="436.48" y="642.10" text-anchor="middle" font-size="7.5" font-family="Liberation Serif, serif" stroke="#222" stroke-width="0.18" fill="#111">0.25</text>
<text x="450.60" y="642.10" text-anchor="middle" font-size="7.5" font-family="Liberation Serif, serif" stroke="#222" stroke-width="0.18" fill="#111">0.5</text>
<text x="464.72" y="642.10" text-anchor="middle" font-size="7.5" font-family="Liberation Serif, serif" stroke="#222" stroke-width="0.18" fill="#111">0.75</text>
<text x="478.84" y="642.10" text-anchor="middle" font-size="7.5" font-family="Liberation Serif, serif" stroke="#222" stroke-width="0.18" fill="#111">1</text>
<line x1="490.77" y1="622.49" x2="488.77" y2="622.49" stroke="#666" stroke-width="0.8"/>
<line x1="495.64" y1="615.37" x2="493.64" y2="615.37" stroke="#666" stroke-width="0.8"/>
<line x1="500.51" y1="608.26" x2="498.51" y2="608.26" stroke="#666" stroke-width="0.8"/>
<line x1="505.39" y1="601.14" x2="503.39" y2="601.14" stroke="#666" stroke-width="0.8"/>
<line x1="510.26" y1="594.03" x2="508.26" y2="594.03" stroke="#666" stroke-width="0.8"/>
<line x1="515.13" y1="586.91" x2="513.13" y2="586.91" stroke="#666" stroke-width="0.8"/>
<text x="524.16" y="585.86" font-size="7.5" font-family="Liberation Serif, serif" stroke="#222" stroke-width="0.18" fill="#111">0.00</text>
<text x="519.29" y="592.97" font-size="7.5" font-family="Liberation Serif, serif" stroke="#222" stroke-width="0.18" fill="#111">0.08</text>
<text x="514.42" y="600.09" font-size="7.5" font-family="Liberation Serif, serif" stroke="#222" stroke-width="0.18" fill="#111">0.17</text>
<text x="509.55" y="607.20" font-size="7.5" font-family="Liberation Serif, serif" stroke="#222" stroke-width="0.18" fill="#111">0.25</text>
<text x="504.68" y="614.31" font-size="7.5" font-family="Liberation Serif, serif" stroke="#222" stroke-width="0.18" fill="#111">0.33</text>
<text x="499.81" y="621.43" font-size="7.5" font-family="Liberation Serif, serif" stroke="#222" stroke-width="0.18" fill="#111">0.50</text>
<text x="494.94" y="628.54" font-size="7.5" font-family="Liberation Serif, serif" stroke="#222" stroke-width="0.18" fill="#111">0.67</text>
<polygon points="455.87,584.78 457.82,581.93 457.82,572.35 455.87,575.20" fill="#6b7087" stroke="#6b7087" stroke-width="0.3"/>
<polygon points="450.23,584.78 455.87,584.78 455.87,575.20 450.23,575.20" fill="#bcc5ec" stroke="#bcc5ec" stroke-width="0.3"/>
<polygon points="450.23,575.20 455.87,575.20 457.82,572.35 452.17,572.35" fill="#848aa5" stroke="#848aa5" stroke-width="0.3"/>
<polygon points="469.99,584.78 471.94,581.93 471.94,568.84 469.99,571.68" fill="#6b7087" stroke="#6b7087" stroke-width="0.3"/>
<polygon points="464.35,584.78 469.99,584.78 469.99,571.68 464.35,571.68" fill="#bcc5ec" stroke="#bcc5ec" stroke-width="0.3"/>
<polygon points="464.35,571.68 469.99,571.68 471.94,568.84 466.29,568.84" fill="#848aa5" stroke="#848aa5" stroke-width="0.3"/>
<polygon points="484.11,584.78 486.06,581.93 486.06,578.74 484.11,581.59" fill="#6b7087" stroke="#6b7087" stroke-width="0.3"/>
<polygon points="478.47,584.78 484.11,584.78 484.11,581.59 478.47,581.59" fill="#bcc5ec" stroke="#bcc5ec" stroke-width="0.3"/>
<polygon points="478.47,581.59 484.11,581.59 486.06,578.74 480.41,578.74" fill="#848aa5" stroke="#848aa5" stroke-width="0.3"/>
<polygon points="498.23,584.78 500.18,581.93 500.18,580.34 498.23,583.18" fill="#6b7087" stroke="#6b7087" stroke-width="0.3"/>
<polygon points="492.59,584.78 498.23,584.78 498.23,583.18 492.59,583.18" fill="#bcc5ec" stroke="#bcc5ec" stroke-width="0.3"/>
<polygon points="492.59,583.18 498.23,583.18 500.18,580.34 494.53,580.34" fill="#848aa5" stroke="#848aa5" stroke-width="0.3"/>
<polygon points="512.35,584.78 514.30,581.93 514.30,580.34 512.35,583.18" fill="#6b7087" stroke="#6b7087" stroke-width="0.3"/>
<polygon points="506.71,584.78 512.35,584.78 512.35,583.18 506.71,583.18" fill="#bcc5ec" stroke="#bcc5ec" stroke-width="0.3"/>
<polygon points="506.71,583.18 512.35,583.18 514.30,580.34 508.65,580.34" fill="#848aa5" stroke="#848aa5" stroke-width="0.3"/>
<polygon points="451.00,591.89 452.95,589.05 452.95,565.89 451.00,568.73" fill="#606683" stroke="#606683" stroke-width="0.3"/>
<polygon points="445.35,591.89 451.00,591.89 451.00,568.73 445.35,568.73" fill="#a8b3e6" stroke="#a8b3e6" stroke-width="0.3"/>
<polygon points="445.35,568.73 451.00,568.73 452.95,565.89 447.30,565.89" fill="#767da1" stroke="#767da1" stroke-width="0.3"/>
<polygon points="465.12,591.89 467.07,589.05 467.07,528.35 465.12,531.20" fill="#606683" stroke="#606683" stroke-width="0.3"/>
<polygon points="459.47,591.89 465.12,591.89 465.12,531.20 459.47,531.20" fill="#a8b3e6" stroke="#a8b3e6" stroke-width="0.3"/>
<polygon points="459.47,531.20 465.12,531.20 467.07,528.35 461.42,528.35" fill="#767da1" stroke="#767da1" stroke-width="0.3"/>
<polygon points="479.24,591.89 481.19,589.05 481.19,579.78 479.24,582.63" fill="#606683" stroke="#606683" stroke-width="0.3"/>
<polygon points="473.59,591.89 479.24,591.89 479.24,582.63 473.59,582.63" fill="#a8b3e6" stroke="#a8b3e6" stroke-width="0.3"/>
<polygon points="473.59,582.63 479.24,582.63 481.19,579.78 475.54,579.78" fill="#767da1" stroke="#767da1" stroke-width="0.3"/>
<polygon points="493.36,591.89 495.31,589.05 495.31,579.78 493.36,582.63" fill="#606683" stroke="#606683" stroke-width="0.3"/>
<polygon points="487.71,591.89 493.36,591.89 493.36,582.63 487.71,582.63" fill="#a8b3e6" stroke="#a8b3e6" stroke-width="0.3"/>
<polygon points="487.71,582.63 493.36,582.63 495.31,579.78 489.66,579.78" fill="#767da1" stroke="#767da1" stroke-width="0.3"/>
<polygon points="507.48,591.89 509.43,589.05 509.43,587.45 507.48,590.30" fill="#606683" stroke="#606683" stroke-width="0.3"/>
<polygon points="501.83,591.89 507.48,591.89 507.48,590.30 501.83,590.30" fill="#a8b3e6" stroke="#a8b3e6" stroke-width="0.3"/>
<polygon points="501.83,590.30 507.48,590.30 509.43,587.45 503.78,587.45" fill="#767da1" stroke="#767da1" stroke-width="0.3"/>
<polygon points="446.13,599.01 448.08,596.16 448.08,576.68 446.13,579.52" fill="#545c7f" stroke="#545c7f" stroke-width="0.3"/>
<polygon points="440.48,599.01 446.13,599.01 446.13,579.52 440.48,579.52" fill="#94a2de" stroke="#94a2de" stroke-width="0.3"/>
<polygon points="440.48,579.52 446.13,579.52 448.08,576.68 442.43,576.68" fill="#68719b" stroke="#68719b" stroke-width="0.3"/>
<polygon points="460.25,599.01 462.20,596.16 462.20,580.19 460.25,583.04" fill="#545c7f" stroke="#545c7f" stroke-width="0.3"/>
<polygon points="454.60,599.01 460.25,599.01 460.25,583.04 454.60,583.04" fill="#94a2de" stroke="#94a2de" stroke-width="0.3"/>
<polygon points="454.60,583.04 460.25,583.04 462.20,580.19 456.55,580.19" fill="#68719b" stroke="#68719b" stroke-width="0.3"/>
<polygon points="474.37,599.01 476.32,596.16 476.32,573.32 474.37,576.17" fill="#545c7f" stroke="#545c7f" stroke-width="0.3"/>
<polygon points="468.72,599.01 474.37,599.01 474.37,576.17 468.72,576.17" fill="#94a2de" stroke="#94a2de" stroke-width="0.3"/>
<polygon points="468.72,576.17 474.37,576.17 476.32,573.32 470.67,573.32" fill="#68719b" stroke="#68719b" stroke-width="0.3"/>
<polygon points="488.49,599.01 490.44,596.16 490.44,590.73 488.49,593.58" fill="#545c7f" stroke="#545c7f" stroke-width="0.3"/>
<polygon points="482.84,599.01 488.49,599.01 488.49,593.58 482.84,593.58" fill="#94a2de" stroke="#94a2de" stroke-width="0.3"/>
<polygon points="482.84,593.58 488.49,593.58 490.44,590.73 484.79,590.73" fill="#68719b" stroke="#68719b" stroke-width="0.3"/>
<polygon points="502.61,599.01 504.56,596.16 504.56,594.57 502.61,597.41" fill="#545c7f" stroke="#545c7f" stroke-width="0.3"/>
<polygon points="496.96,599.01 502.61,599.01 502.61,597.41 496.96,597.41" fill="#94a2de" stroke="#94a2de" stroke-width="0.3"/>
<polygon points="496.96,597.41 502.61,597.41 504.56,594.57 498.91,594.57" fill="#68719b" stroke="#68719b" stroke-width="0.3"/>
<polygon points="441.26,606.12 443.21,603.28 443.21,598.17 441.26,601.01" fill="#274177" stroke="#274177" stroke-width="0.3"/>
<polygon points="435.61,606.12 441.26,606.12 441.26,601.01 435.61,601.01" fill="#4472d0" stroke="#4472d0" stroke-width="0.3"/>
<polygon points="435.61,601.01 441.26,601.01 443.21,598.17 437.56,598.17" fill="#305092" stroke="#305092" stroke-width="0.3"/>
<polygon points="455.38,606.12 457.33,603.28 457.33,594.01 455.38,596.86" fill="#274177" stroke="#274177" stroke-width="0.3"/>
<polygon points="449.73,606.12 455.38,606.12 455.38,596.86 449.73,596.86" fill="#4472d0" stroke="#4472d0" stroke-width="0.3"/>
<polygon points="449.73,596.86 455.38,596.86 457.33,594.01 451.68,594.01" fill="#305092" stroke="#305092" stroke-width="0.3"/>
<polygon points="469.50,606.12 471.45,603.28 471.45,579.96 469.50,582.80" fill="#274177" stroke="#274177" stroke-width="0.3"/>
<polygon points="463.85,606.12 469.50,606.12 469.50,582.80 463.85,582.80" fill="#4472d0" stroke="#4472d0" stroke-width="0.3"/>
<polygon points="463.85,582.80 469.50,582.80 471.45,579.96 465.80,579.96" fill="#305092" stroke="#305092" stroke-width="0.3"/>
<polygon points="483.62,606.12 485.57,603.28 485.57,594.01 483.62,596.86" fill="#274177" stroke="#274177" stroke-width="0.3"/>
<polygon points="477.97,606.12 483.62,606.12 483.62,596.86 477.97,596.86" fill="#4472d0" stroke="#4472d0" stroke-width="0.3"/>
<polygon points="477.97,596.86 483.62,596.86 485.57,594.01 479.92,594.01" fill="#305092" stroke="#305092" stroke-width="0.3"/>
<polygon points="497.74,606.12 499.69,603.28 499.69,597.21 497.74,600.05" fill="#274177" stroke="#274177" stroke-width="0.3"/>
<polygon points="492.09,606.12 497.74,606.12 497.74,600.05 492.09,600.05" fill="#4472d0" stroke="#4472d0" stroke-width="0.3"/>
<polygon points="492.09,600.05 497.74,600.05 499.69,597.21 494.04,597.21" fill="#305092" stroke="#305092" stroke-width="0.3"/>
<polygon points="436.39,613.24 438.34,610.39 438.34,601.13 436.39,603.97" fill="#203a70" stroke="#203a70" stroke-width="0.3"/>
<polygon points="430.74,613.24 436.39,613.24 436.39,603.97 430.74,603.97" fill="#3866c4" stroke="#3866c4" stroke-width="0.3"/>
<polygon points="430.74,603.97 436.39,603.97 438.34,601.13 432.69,601.13" fill="#274789" stroke="#274789" stroke-width="0.3"/>
<polygon points="450.51,613.24 452.46,610.39 452.46,597.93 450.51,600.78" fill="#203a70" stroke="#203a70" stroke-width="0.3"/>
<polygon points="444.86,613.24 450.51,613.24 450.51,600.78 444.86,600.78" fill="#3866c4" stroke="#3866c4" stroke-width="0.3"/>
<polygon points="444.86,600.78 450.51,600.78 452.46,597.93 446.81,597.93" fill="#274789" stroke="#274789" stroke-width="0.3"/>
<polygon points="464.63,613.24 466.58,610.39 466.58,601.45 464.63,604.29" fill="#203a70" stroke="#203a70" stroke-width="0.3"/>
<polygon points="458.98,613.24 464.63,613.24 464.63,604.29 458.98,604.29" fill="#3866c4" stroke="#3866c4" stroke-width="0.3"/>
<polygon points="458.98,604.29 464.63,604.29 466.58,601.45 460.93,601.45" fill="#274789" stroke="#274789" stroke-width="0.3"/>
<polygon points="478.75,613.24 480.70,610.39 480.70,604.00 478.75,606.85" fill="#203a70" stroke="#203a70" stroke-width="0.3"/>
<polygon points="473.10,613.24 478.75,613.24 478.75,606.85 473.10,606.85" fill="#3866c4" stroke="#3866c4" stroke-width="0.3"/>
<polygon points="473.10,606.85 478.75,606.85 480.70,604.00 475.05,604.00" fill="#274789" stroke="#274789" stroke-width="0.3"/>
<polygon points="492.87,613.24 494.82,610.39 494.82,604.00 492.87,606.85" fill="#203a70" stroke="#203a70" stroke-width="0.3"/>
<polygon points="487.22,613.24 492.87,613.24 492.87,606.85 487.22,606.85" fill="#3866c4" stroke="#3866c4" stroke-width="0.3"/>
<polygon points="487.22,606.85 492.87,606.85 494.82,604.00 489.17,604.00" fill="#274789" stroke="#274789" stroke-width="0.3"/>
<polygon points="431.52,620.35 433.47,617.51 433.47,617.51 431.52,620.35" fill="#1b3364" stroke="#1b3364" stroke-width="0.3"/>
<polygon points="425.87,620.35 431.52,620.35 431.52,620.35 425.87,620.35" fill="#2f5ab0" stroke="#2f5ab0" stroke-width="0.3"/>
<polygon points="425.87,620.35 431.52,620.35 433.47,617.51 427.82,617.51" fill="#213f7b" stroke="#213f7b" stroke-width="0.3"/>
<polygon points="445.64,620.35 447.59,617.51 447.59,617.51 445.64,620.35" fill="#1b3364" stroke="#1b3364" stroke-width="0.3"/>
<polygon points="439.99,620.35 445.64,620.35 445.64,620.35 439.99,620.35" fill="#2f5ab0" stroke="#2f5ab0" stroke-width="0.3"/>
<polygon points="439.99,620.35 445.64,620.35 447.59,617.51 441.94,617.51" fill="#213f7b" stroke="#213f7b" stroke-width="0.3"/>
<polygon points="459.76,620.35 461.71,617.51 461.71,617.51 459.76,620.35" fill="#1b3364" stroke="#1b3364" stroke-width="0.3"/>
<polygon points="454.11,620.35 459.76,620.35 459.76,620.35 454.11,620.35" fill="#2f5ab0" stroke="#2f5ab0" stroke-width="0.3"/>
<polygon points="454.11,620.35 459.76,620.35 461.71,617.51 456.06,617.51" fill="#213f7b" stroke="#213f7b" stroke-width="0.3"/>
<polygon points="473.88,620.35 475.83,617.51 475.83,613.99 473.88,616.84" fill="#1b3364" stroke="#1b3364" stroke-width="0.3"/>
<polygon points="468.23,620.35 473.88,620.35 473.88,616.84 468.23,616.84" fill="#2f5ab0" stroke="#2f5ab0" stroke-width="0.3"/>
<polygon points="468.23,616.84 473.88,616.84 475.83,613.99 470.18,613.99" fill="#213f7b" stroke="#213f7b" stroke-width="0.3"/>
<polygon points="488.00,620.35 489.95,617.51 489.95,617.51 488.00,620.35" fill="#1b3364" stroke="#1b3364" stroke-width="0.3"/>
<polygon points="482.35,620.35 488.00,620.35 488.00,620.35 482.35,620.35" fill="#2f5ab0" stroke="#2f5ab0" stroke-width="0.3"/>
<polygon points="482.35,620.35 488.00,620.35 489.95,617.51 484.30,617.51" fill="#213f7b" stroke="#213f7b" stroke-width="0.3"/>
<polygon points="426.65,627.47 428.59,624.62 428.59,624.62 426.65,627.47" fill="#172b58" stroke="#172b58" stroke-width="0.3"/>
<polygon points="421.00,627.47 426.65,627.47 426.65,627.47 421.00,627.47" fill="#294b9a" stroke="#294b9a" stroke-width="0.3"/>
<polygon points="421.00,627.47 426.65,627.47 428.59,624.62 422.95,624.62" fill="#1d346c" stroke="#1d346c" stroke-width="0.3"/>
<polygon points="440.77,627.47 442.71,624.62 442.71,624.62 440.77,627.47" fill="#172b58" stroke="#172b58" stroke-width="0.3"/>
<polygon points="435.12,627.47 440.77,627.47 440.77,627.47 435.12,627.47" fill="#294b9a" stroke="#294b9a" stroke-width="0.3"/>
<polygon points="435.12,627.47 440.77,627.47 442.71,624.62 437.07,624.62" fill="#1d346c" stroke="#1d346c" stroke-width="0.3"/>
<polygon points="454.89,627.47 456.83,624.62 456.83,621.11 454.89,623.95" fill="#172b58" stroke="#172b58" stroke-width="0.3"/>
<polygon points="449.24,627.47 454.89,627.47 454.89,623.95 449.24,623.95" fill="#294b9a" stroke="#294b9a" stroke-width="0.3"/>
<polygon points="449.24,623.95 454.89,623.95 456.83,621.11 451.19,621.11" fill="#1d346c" stroke="#1d346c" stroke-width="0.3"/>
<polygon points="469.01,627.47 470.95,624.62 470.95,624.62 469.01,627.47" fill="#172b58" stroke="#172b58" stroke-width="0.3"/>
<polygon points="463.36,627.47 469.01,627.47 469.01,627.47 463.36,627.47" fill="#294b9a" stroke="#294b9a" stroke-width="0.3"/>
<polygon points="463.36,627.47 469.01,627.47 470.95,624.62 465.31,624.62" fill="#1d346c" stroke="#1d346c" stroke-width="0.3"/>
<polygon points="483.13,627.47 485.07,624.62 485.07,621.11 483.13,623.95" fill="#172b58" stroke="#172b58" stroke-width="0.3"/>
<polygon points="477.48,627.47 483.13,627.47 483.13,623.95 477.48,623.95" fill="#294b9a" stroke="#294b9a" stroke-width="0.3"/>
<polygon points="477.48,623.95 483.13,623.95 485.07,621.11 479.43,621.11" fill="#1d346c" stroke="#1d346c" stroke-width="0.3"/>
<text x="421.20" y="518.50" font-size="9" font-family="Liberation Serif, serif" stroke="#111" stroke-width="0.2" fill="#111">(l)</text>
<text transform="translate(384.40,594.00) rotate(-90)" text-anchor="middle" font-size="8" font-family="Liberation Serif, serif" stroke="#222" stroke-width="0.18" fill="#111">Relative frequency</text>
<text x="450.90" y="650.50" text-anchor="middle" font-size="8" font-family="Liberation Serif, serif" stroke="#222" stroke-width="0.18" fill="#111">M<tspan font-size="5" dy="1.5">i</tspan></text>
<text transform="translate(534.60,613.60) rotate(-90)" text-anchor="middle" font-size="8" font-family="Liberation Serif, serif" stroke="#222" stroke-width="0.18" fill="#111">S<tspan font-size="5" dy="1.5">i</tspan></text>
</svg></body></html>
